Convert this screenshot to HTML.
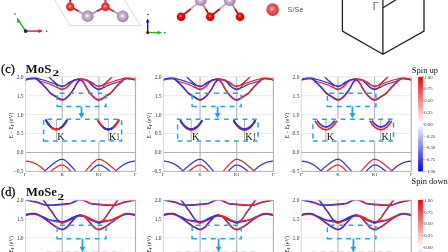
<!DOCTYPE html><html><head><meta charset="utf-8"><style>html,body{margin:0;padding:0;background:#fff;overflow:hidden}svg{display:block}</style></head><body><svg width="448" height="252" viewBox="0 0 448 252">
<rect width="448" height="252" fill="#fff"/>
<defs>
<radialGradient id="gr" cx="0.45" cy="0.45" r="0.6"><stop offset="0" stop-color="#ffc8c8"/><stop offset="0.3" stop-color="#f24444"/><stop offset="1" stop-color="#d01515"/></radialGradient>
<radialGradient id="gp" cx="0.47" cy="0.47" r="0.6"><stop offset="0" stop-color="#ffffff"/><stop offset="0.35" stop-color="#cbb2cd"/><stop offset="1" stop-color="#967a9b"/></radialGradient>
<linearGradient id="cb" x1="0" y1="0" x2="0" y2="1"><stop offset="0" stop-color="#ff0000"/><stop offset="0.5" stop-color="#ffffff"/><stop offset="1" stop-color="#0000ff"/></linearGradient>
<radialGradient id="gr2" cx="0.45" cy="0.42" r="0.6"><stop offset="0" stop-color="#ff9a9a"/><stop offset="0.3" stop-color="#e81818"/><stop offset="1" stop-color="#b80000"/></radialGradient>
<radialGradient id="gr3" cx="0.45" cy="0.45" r="0.6"><stop offset="0" stop-color="#ffd8d8"/><stop offset="0.35" stop-color="#f25a5a"/><stop offset="1" stop-color="#dd2a2a"/></radialGradient>
</defs>
<g stroke-linecap="butt">
<line x1="25.6" y1="31.1" x2="39.5" y2="31.1" stroke="#d42020" stroke-width="1.4"/>
<polygon points="38.5,29.2 43,31.1 38.5,33" fill="#d42020"/>
<line x1="25.6" y1="31.1" x2="19" y2="21" stroke="#22bb22" stroke-width="1.4"/>
<polygon points="17.2,23.2 16.8,17.2 20.6,21.3" fill="#22bb22"/>
<circle cx="25.6" cy="31.1" r="1.9" fill="#1a1a8a"/>
<circle cx="46.7" cy="31.2" r="0.75" fill="#333"/>
<circle cx="15" cy="14" r="0.75" fill="#333"/>
<line x1="147.7" y1="32.6" x2="147.7" y2="21.5" stroke="#1a1ad0" stroke-width="1.4"/>
<polygon points="145.8,22.5 147.7,18.2 149.6,22.5" fill="#1a1ad0"/>
<line x1="147.7" y1="32.6" x2="158.5" y2="32.6" stroke="#22bb22" stroke-width="1.4"/>
<polygon points="157.5,30.7 162,32.6 157.5,34.5" fill="#22bb22"/>
<circle cx="147.7" cy="32.6" r="1.6" fill="#7a1010"/>
<circle cx="147.9" cy="14.6" r="0.75" fill="#333"/>
<circle cx="164.9" cy="32.7" r="0.75" fill="#333"/>
</g>
<g stroke="#cfcfcf" stroke-width="0.8" fill="none">
<polyline points="54.7,0 70,25.7 140.5,25.7 124.5,0"/>
</g>
<line x1="70.2" y1="6.7" x2="70.2" y2="2.35" stroke="#d02838" stroke-width="2.0"/>
<line x1="70.2" y1="2.35" x2="70.2" y2="-2" stroke="#d02838" stroke-width="2.0"/>
<line x1="105.4" y1="6.7" x2="105.4" y2="2.35" stroke="#d02838" stroke-width="2.0"/>
<line x1="105.4" y1="2.35" x2="105.4" y2="-2" stroke="#d02838" stroke-width="2.0"/>
<line x1="70.2" y1="6.7" x2="78.95" y2="11.45" stroke="#d02838" stroke-width="2.0"/>
<line x1="78.95" y1="11.45" x2="87.7" y2="16.2" stroke="#b8a0bc" stroke-width="2.0"/>
<line x1="105.4" y1="6.7" x2="96.55000000000001" y2="11.45" stroke="#d02838" stroke-width="2.0"/>
<line x1="96.55000000000001" y1="11.45" x2="87.7" y2="16.2" stroke="#b8a0bc" stroke-width="2.0"/>
<line x1="105.4" y1="6.7" x2="114.05000000000001" y2="11.5" stroke="#d02838" stroke-width="2.0"/>
<line x1="114.05000000000001" y1="11.5" x2="122.7" y2="16.3" stroke="#b8a0bc" stroke-width="2.0"/>
<circle cx="70.2" cy="6.7" r="4.2" fill="url(#gr)"/>
<circle cx="105.4" cy="6.7" r="4.2" fill="url(#gr)"/>
<circle cx="87.7" cy="16.2" r="5.9" fill="url(#gp)"/>
<circle cx="122.7" cy="16.3" r="5.9" fill="url(#gp)"/>
<line x1="181" y1="16.7" x2="190.9" y2="8.7" stroke="#c01818" stroke-width="1.9"/>
<line x1="190.9" y1="8.7" x2="200.8" y2="0.7" stroke="#c8b0c8" stroke-width="1.9"/>
<line x1="200.8" y1="0.7" x2="205.5" y2="8.7" stroke="#b08ab0" stroke-width="1.9"/>
<line x1="205.5" y1="8.7" x2="210.2" y2="16.7" stroke="#c01818" stroke-width="1.9"/>
<line x1="210.2" y1="16.7" x2="220.0" y2="8.7" stroke="#c01818" stroke-width="1.9"/>
<line x1="220.0" y1="8.7" x2="229.8" y2="0.7" stroke="#c8b0c8" stroke-width="1.9"/>
<line x1="229.8" y1="0.7" x2="234.9" y2="8.7" stroke="#b08ab0" stroke-width="1.9"/>
<line x1="234.9" y1="8.7" x2="240" y2="16.7" stroke="#c01818" stroke-width="1.9"/>
<circle cx="200.8" cy="0.2" r="5.9" fill="url(#gp)"/>
<circle cx="229.8" cy="0.2" r="5.9" fill="url(#gp)"/>
<circle cx="181" cy="16.7" r="4.3" fill="url(#gr2)"/>
<circle cx="210.2" cy="16.7" r="4.3" fill="url(#gr2)"/>
<circle cx="240" cy="16.7" r="4.3" fill="url(#gr2)"/>
<circle cx="272.6" cy="9.6" r="6.3" fill="url(#gr3)"/>
<text x="287.6" y="12.0" font-family="Liberation Sans, sans-serif" font-size="7.4" fill="#555">S/Se</text>
<g stroke="#222" stroke-width="1.3" fill="none" stroke-linejoin="miter">
<polyline points="342.4,-1 342.4,31 382.9,54.3 424,31 424,-1"/>
<line x1="382.9" y1="-1" x2="382.9" y2="54.3"/>
<line x1="382.9" y1="7.7" x2="396.5" y2="-0.5"/>
</g>
<text x="372.7" y="10.4" font-family="Liberation Sans, sans-serif" font-size="10.4" fill="#666">Γ</text>
<clipPath id="clip00"><rect x="25.5" y="76.8" width="110.0" height="94.60000000000001"/></clipPath>
<line x1="25.5" y1="95.72" x2="135.5" y2="95.72" stroke="#e4e4e4" stroke-width="0.8"/>
<line x1="25.5" y1="114.64" x2="135.5" y2="114.64" stroke="#e4e4e4" stroke-width="0.8"/>
<line x1="25.5" y1="133.56" x2="135.5" y2="133.56" stroke="#e4e4e4" stroke-width="0.8"/>
<line x1="25.5" y1="152.48" x2="135.5" y2="152.48" stroke="#9a9a9a" stroke-width="0.8"/>
<line x1="62.17" y1="76.8" x2="62.17" y2="171.40" stroke="#9a9a9a" stroke-width="0.8"/>
<line x1="98.83" y1="76.8" x2="98.83" y2="171.40" stroke="#9a9a9a" stroke-width="0.8"/>
<g clip-path="url(#clip00)">
<polyline points="25.5,161.2 25.8,161.2 26.1,161.2 26.3,161.2 26.6,161.2 26.9,161.2 27.2,161.3 27.4,161.3 27.7,161.3 28.0,161.3 28.3,161.4 28.6,161.4 28.8,161.5 29.1,161.5 29.4,161.6 29.7,161.6 29.9,161.7 30.2,161.7 30.5,161.8 30.8,161.9 31.1,162.0 31.3,162.0 31.6,162.1 31.9,162.2 32.2,162.3 32.4,162.4 32.7,162.5 33.0,162.6 33.3,162.7 33.6,162.8 33.8,162.9 34.1,163.0 34.4,163.2 34.7,163.3 34.9,163.4 35.2,163.6 35.5,163.7 35.8,163.8 36.1,164.0 36.3,164.1 36.6,164.3 36.9,164.4 37.2,164.6 37.4,164.8 37.7,164.9 38.0,165.1 38.3,165.3 38.6,165.5 38.8,165.6 39.1,165.8 39.4,166.0 39.7,166.2 39.9,166.4 40.2,166.6 40.5,166.8 40.8,167.0 41.1,167.3 41.3,167.5 41.6,167.7 41.9,167.9 42.2,168.2 42.4,168.4 42.7,168.6 43.0,168.9 43.3,169.1 43.6,169.4 43.8,169.6 44.1,169.9 44.4,170.1 44.7,170.4 44.9,170.7 45.2,171.0 45.5,171.2 45.8,171.5 46.1,171.8 46.3,172.1 46.6,172.4 46.9,172.7 47.2,173.0 47.4,173.3 47.7,173.6 48.0,173.9 48.3,174.2 48.6,174.5 48.8,174.9 49.1,175.2 49.4,175.5 49.7,175.9 49.9,176.2 50.2,176.5 50.5,176.9 50.8,177.2 51.1,177.6 51.3,177.9 51.6,178.3 51.9,178.7 52.2,179.0 52.4,179.4 52.7,179.8 53.0,180.2" fill="none" stroke="#e8282a" stroke-width="1.25" stroke-linejoin="round"/>
<polyline points="135.5,161.2 135.2,161.2 134.9,161.2 134.7,161.2 134.4,161.2 134.1,161.2 133.8,161.3 133.6,161.3 133.3,161.3 133.0,161.3 132.7,161.4 132.4,161.4 132.2,161.5 131.9,161.5 131.6,161.6 131.3,161.6 131.1,161.7 130.8,161.7 130.5,161.8 130.2,161.9 129.9,162.0 129.7,162.0 129.4,162.1 129.1,162.2 128.8,162.3 128.6,162.4 128.3,162.5 128.0,162.6 127.7,162.7 127.4,162.8 127.2,162.9 126.9,163.0 126.6,163.2 126.3,163.3 126.1,163.4 125.8,163.6 125.5,163.7 125.2,163.8 124.9,164.0 124.7,164.1 124.4,164.3 124.1,164.4 123.8,164.6 123.6,164.8 123.3,164.9 123.0,165.1 122.7,165.3 122.4,165.5 122.2,165.6 121.9,165.8 121.6,166.0 121.3,166.2 121.1,166.4 120.8,166.6 120.5,166.8 120.2,167.0 119.9,167.3 119.7,167.5 119.4,167.7 119.1,167.9 118.8,168.2 118.6,168.4 118.3,168.6 118.0,168.9 117.7,169.1 117.4,169.4 117.2,169.6 116.9,169.9 116.6,170.1 116.3,170.4 116.1,170.7 115.8,171.0 115.5,171.2 115.2,171.5 114.9,171.8 114.7,172.1 114.4,172.4 114.1,172.7 113.8,173.0 113.6,173.3 113.3,173.6 113.0,173.9 112.7,174.2 112.4,174.5 112.2,174.9 111.9,175.2 111.6,175.5 111.3,175.9 111.1,176.2 110.8,176.5 110.5,176.9 110.2,177.2 109.9,177.6 109.7,177.9 109.4,178.3 109.1,178.7 108.8,179.0 108.6,179.4 108.3,179.8 108.0,180.2" fill="none" stroke="#3232e0" stroke-width="1.25" stroke-linejoin="round"/>
<polyline points="36.5,178.4 36.9,178.0 37.4,177.6 37.8,177.2 38.2,176.9 38.7,176.5 39.1,176.1 39.5,175.7 40.0,175.3 40.4,174.9 40.8,174.5 41.2,174.1 41.7,173.7 42.1,173.4 42.5,173.0 43.0,172.6 43.4,172.2 43.8,171.8 44.3,171.4 44.7,171.0 45.1,170.7 45.6,170.3 46.0,169.9 46.4,169.5 46.9,169.1 47.3,168.8 47.7,168.4 48.1,168.0 48.6,167.6 49.0,167.3 49.4,166.9 49.9,166.5 50.3,166.2 50.7,165.8 51.2,165.5 51.6,165.1 52.0,164.8 52.5,164.4 52.9,164.1 53.3,163.7 53.8,163.4 54.2,163.1 54.6,162.7 55.0,162.4 55.5,162.1 55.9,161.8 56.3,161.5 56.8,161.3 57.2,161.0 57.6,160.7 58.1,160.5 58.5,160.3 58.9,160.1 59.4,159.9 59.8,159.7 60.2,159.6 60.7,159.5 61.1,159.4 61.5,159.3 62.0,159.3 62.4,159.3 62.8,159.3 63.2,159.4 63.7,159.6 64.1,159.8 64.5,160.0 65.0,160.3 65.4,160.6 65.8,160.9 66.3,161.3 66.7,161.6 67.1,162.0 67.6,162.4 68.0,162.8 68.4,163.3 68.9,163.7 69.3,164.1 69.7,164.6 70.1,165.1 70.6,165.5 71.0,166.0 71.4,166.5 71.9,166.9 72.3,167.4 72.7,167.9 73.2,168.4 73.6,168.9 74.0,169.4 74.5,169.9 74.9,170.4 75.3,170.9 75.8,171.4 76.2,171.9 76.6,172.4 77.0,172.9 77.5,173.4 77.9,173.9 78.3,174.5 78.8,175.0 79.2,175.5 79.6,176.0 80.1,176.5 80.5,177.0 80.9,177.5 81.4,178.1 81.8,178.6 82.2,179.1 82.7,179.6 83.1,180.1 83.5,180.6 84.0,181.2 84.4,181.7 84.8,182.2 85.2,182.7 85.7,183.3 86.1,183.8 86.5,184.3 87.0,184.8 87.4,185.3 87.8,185.9" fill="none" stroke="#3232e0" stroke-width="1.25" stroke-linejoin="round"/>
<polyline points="36.5,184.1 36.9,183.7 37.4,183.3 37.8,182.9 38.2,182.5 38.7,182.1 39.1,181.8 39.5,181.4 40.0,181.0 40.4,180.6 40.8,180.2 41.2,179.8 41.7,179.4 42.1,179.0 42.5,178.6 43.0,178.3 43.4,177.9 43.8,177.5 44.3,177.1 44.7,176.7 45.1,176.3 45.6,176.0 46.0,175.6 46.4,175.2 46.9,174.8 47.3,174.4 47.7,174.1 48.1,173.7 48.6,173.3 49.0,173.0 49.4,172.6 49.9,172.2 50.3,171.9 50.7,171.5 51.2,171.1 51.6,170.8 52.0,170.4 52.5,170.1 52.9,169.7 53.3,169.4 53.8,169.1 54.2,168.7 54.6,168.4 55.0,168.1 55.5,167.8 55.9,167.5 56.3,167.2 56.8,166.9 57.2,166.7 57.6,166.4 58.1,166.2 58.5,166.0 58.9,165.7 59.4,165.6 59.8,165.4 60.2,165.3 60.7,165.1 61.1,165.1 61.5,165.0 62.0,165.0 62.4,165.0 62.8,165.0 63.2,165.1 63.7,165.3 64.1,165.5 64.5,165.7 65.0,166.0 65.4,166.3 65.8,166.6 66.3,166.9 66.7,167.3 67.1,167.7 67.6,168.1 68.0,168.5 68.4,168.9 68.9,169.4 69.3,169.8 69.7,170.3 70.1,170.7 70.6,171.2 71.0,171.7 71.4,172.1 71.9,172.6 72.3,173.1 72.7,173.6 73.2,174.1 73.6,174.6 74.0,175.1 74.5,175.6 74.9,176.1 75.3,176.6 75.8,177.1 76.2,177.6 76.6,178.1 77.0,178.6 77.5,179.1 77.9,179.6 78.3,180.1 78.8,180.6 79.2,181.2 79.6,181.7 80.1,182.2 80.5,182.7 80.9,183.2 81.4,183.7 81.8,184.2 82.2,184.8 82.7,185.3 83.1,185.8 83.5,186.3 84.0,186.8 84.4,187.4 84.8,187.9 85.2,188.4 85.7,188.9 86.1,189.4 86.5,190.0 87.0,190.5 87.4,191.0 87.8,191.5" fill="none" stroke="#e8282a" stroke-width="1.25" stroke-linejoin="round"/>
<polyline points="73.2,185.9 73.6,185.3 74.0,184.8 74.5,184.3 74.9,183.8 75.3,183.3 75.8,182.7 76.2,182.2 76.6,181.7 77.0,181.2 77.5,180.6 77.9,180.1 78.3,179.6 78.8,179.1 79.2,178.6 79.6,178.1 80.1,177.5 80.5,177.0 80.9,176.5 81.4,176.0 81.8,175.5 82.2,175.0 82.7,174.5 83.1,173.9 83.5,173.4 84.0,172.9 84.4,172.4 84.8,171.9 85.2,171.4 85.7,170.9 86.1,170.4 86.5,169.9 87.0,169.4 87.4,168.9 87.8,168.4 88.3,167.9 88.7,167.4 89.1,166.9 89.6,166.5 90.0,166.0 90.4,165.5 90.9,165.1 91.3,164.6 91.7,164.1 92.1,163.7 92.6,163.3 93.0,162.8 93.4,162.4 93.9,162.0 94.3,161.6 94.7,161.3 95.2,160.9 95.6,160.6 96.0,160.3 96.5,160.0 96.9,159.8 97.3,159.6 97.8,159.4 98.2,159.3 98.6,159.3 99.0,159.3 99.5,159.3 99.9,159.4 100.3,159.5 100.8,159.6 101.2,159.7 101.6,159.9 102.1,160.1 102.5,160.3 102.9,160.5 103.4,160.7 103.8,161.0 104.2,161.3 104.7,161.5 105.1,161.8 105.5,162.1 106.0,162.4 106.4,162.7 106.8,163.1 107.2,163.4 107.7,163.7 108.1,164.1 108.5,164.4 109.0,164.8 109.4,165.1 109.8,165.5 110.3,165.8 110.7,166.2 111.1,166.5 111.6,166.9 112.0,167.3 112.4,167.6 112.9,168.0 113.3,168.4 113.7,168.8 114.1,169.1 114.6,169.5 115.0,169.9 115.4,170.3 115.9,170.7 116.3,171.0 116.7,171.4 117.2,171.8 117.6,172.2 118.0,172.6 118.5,173.0 118.9,173.4 119.3,173.7 119.8,174.1 120.2,174.5 120.6,174.9 121.0,175.3 121.5,175.7 121.9,176.1 122.3,176.5 122.8,176.9 123.2,177.2 123.6,177.6 124.1,178.0 124.5,178.4" fill="none" stroke="#e8282a" stroke-width="1.25" stroke-linejoin="round"/>
<polyline points="73.2,191.5 73.6,191.0 74.0,190.5 74.5,190.0 74.9,189.4 75.3,188.9 75.8,188.4 76.2,187.9 76.6,187.4 77.0,186.8 77.5,186.3 77.9,185.8 78.3,185.3 78.8,184.8 79.2,184.2 79.6,183.7 80.1,183.2 80.5,182.7 80.9,182.2 81.4,181.7 81.8,181.2 82.2,180.6 82.7,180.1 83.1,179.6 83.5,179.1 84.0,178.6 84.4,178.1 84.8,177.6 85.2,177.1 85.7,176.6 86.1,176.1 86.5,175.6 87.0,175.1 87.4,174.6 87.8,174.1 88.3,173.6 88.7,173.1 89.1,172.6 89.6,172.1 90.0,171.7 90.4,171.2 90.9,170.7 91.3,170.3 91.7,169.8 92.1,169.4 92.6,168.9 93.0,168.5 93.4,168.1 93.9,167.7 94.3,167.3 94.7,166.9 95.2,166.6 95.6,166.3 96.0,166.0 96.5,165.7 96.9,165.5 97.3,165.3 97.8,165.1 98.2,165.0 98.6,165.0 99.0,165.0 99.5,165.0 99.9,165.1 100.3,165.1 100.8,165.3 101.2,165.4 101.6,165.6 102.1,165.7 102.5,166.0 102.9,166.2 103.4,166.4 103.8,166.7 104.2,166.9 104.7,167.2 105.1,167.5 105.5,167.8 106.0,168.1 106.4,168.4 106.8,168.7 107.2,169.1 107.7,169.4 108.1,169.7 108.5,170.1 109.0,170.4 109.4,170.8 109.8,171.1 110.3,171.5 110.7,171.9 111.1,172.2 111.6,172.6 112.0,173.0 112.4,173.3 112.9,173.7 113.3,174.1 113.7,174.4 114.1,174.8 114.6,175.2 115.0,175.6 115.4,176.0 115.9,176.3 116.3,176.7 116.7,177.1 117.2,177.5 117.6,177.9 118.0,178.3 118.5,178.6 118.9,179.0 119.3,179.4 119.8,179.8 120.2,180.2 120.6,180.6 121.0,181.0 121.5,181.4 121.9,181.8 122.3,182.1 122.8,182.5 123.2,182.9 123.6,183.3 124.1,183.7 124.5,184.1" fill="none" stroke="#3232e0" stroke-width="1.25" stroke-linejoin="round"/>
<polyline points="45.7,72.3 46.5,73.5 47.3,74.6 48.1,75.7 48.9,76.7 49.7,77.6 50.5,78.4 51.3,79.1 52.1,79.9 53.0,80.6 53.8,81.3 54.6,82.2 55.4,83.2 56.2,84.4 57.0,85.8 57.8,87.0 58.6,88.0 59.4,88.6 60.2,89.1 61.1,89.5 61.9,89.6 62.7,89.6 63.5,89.3 64.3,88.9 65.1,88.4 65.9,87.9 66.7,87.4 67.5,86.8 68.3,86.2 69.2,85.4 70.0,84.6 70.8,83.5 71.6,82.3 72.4,81.3 73.2,80.6 74.0,80.1 74.8,79.8 75.6,79.5 76.4,79.4 77.3,79.3 78.1,79.2 78.9,79.1 79.7,79.1 80.5,79.1" fill="none" stroke="#e8282a" stroke-width="1.2" stroke-linejoin="round" stroke-linecap="round" opacity="1.0"/>
<polyline points="45.7,72.3 46.5,73.5 47.3,74.6 48.1,75.7 48.9,76.7 49.7,77.6 50.5,78.5 51.3,79.3 52.1,80.1 53.0,80.9 53.8,81.6 54.6,82.3 55.4,82.9 56.2,83.5 57.0,84.1 57.8,84.7 58.6,85.2 59.4,85.6 60.2,86.0 61.1,86.4 61.9,86.6 62.7,86.6 63.5,86.3 64.3,85.9 65.1,85.4 65.9,84.9 66.7,84.3 67.5,83.6 68.3,82.9 69.2,82.3 70.0,81.9 70.8,81.5 71.6,81.2 72.4,80.9 73.2,80.6 74.0,80.2 74.8,79.8 75.6,79.5 76.4,79.4 77.3,79.3 78.1,79.2 78.9,79.1 79.7,79.1 80.5,79.1" fill="none" stroke="#3232e0" stroke-width="1.2" stroke-linejoin="round" stroke-linecap="round" opacity="1.0"/>
<polyline points="80.5,79.1 81.3,79.1 82.1,79.1 82.9,79.2 83.7,79.3 84.6,79.4 85.4,79.5 86.2,79.8 87.0,80.1 87.8,80.6 88.6,81.3 89.4,82.3 90.2,83.5 91.0,84.6 91.8,85.4 92.7,86.2 93.5,86.8 94.3,87.4 95.1,87.9 95.9,88.4 96.7,88.9 97.5,89.3 98.3,89.6 99.1,89.6 99.9,89.5 100.8,89.1 101.6,88.6 102.4,88.0 103.2,87.0 104.0,85.8 104.8,84.4 105.6,83.2 106.4,82.2 107.2,81.3 108.0,80.6 108.9,79.9 109.7,79.1 110.5,78.4 111.3,77.6 112.1,76.7 112.9,75.7 113.7,74.6 114.5,73.5 115.3,72.3" fill="none" stroke="#3232e0" stroke-width="1.2" stroke-linejoin="round" stroke-linecap="round" opacity="1.0"/>
<polyline points="80.5,79.1 81.3,79.1 82.1,79.1 82.9,79.2 83.7,79.3 84.6,79.4 85.4,79.5 86.2,79.8 87.0,80.2 87.8,80.6 88.6,80.9 89.4,81.2 90.2,81.5 91.0,81.9 91.8,82.3 92.7,82.9 93.5,83.6 94.3,84.3 95.1,84.9 95.9,85.4 96.7,85.9 97.5,86.3 98.3,86.6 99.1,86.6 99.9,86.4 100.8,86.0 101.6,85.6 102.4,85.2 103.2,84.7 104.0,84.1 104.8,83.5 105.6,82.9 106.4,82.3 107.2,81.6 108.0,80.9 108.9,80.1 109.7,79.3 110.5,78.5 111.3,77.6 112.1,76.7 112.9,75.7 113.7,74.6 114.5,73.5 115.3,72.3" fill="none" stroke="#e8282a" stroke-width="1.2" stroke-linejoin="round" stroke-linecap="round" opacity="1.0"/>
<polyline points="25.5,80.0 26.3,79.7 27.1,79.5 27.9,79.3 28.7,79.1 29.5,79.0 30.3,78.9 31.1,78.8 31.9,78.8 32.7,78.7 33.5,78.7 34.3,78.7 35.1,78.7 35.9,78.7 36.7,79.0 37.5,79.4 38.3,79.9 39.1,80.4 39.8,80.9 40.6,81.2 41.4,81.5 42.2,81.8 43.0,82.0 43.8,82.3 44.6,82.5 45.4,82.8 46.2,83.0 47.0,83.2 47.8,83.5 48.6,83.7 49.4,84.0 50.2,84.3 51.0,84.6 51.8,84.9 52.6,85.2 53.4,85.6 54.2,86.0 55.0,86.5 55.8,86.9 56.6,87.4 57.4,87.7 58.2,88.0 59.0,88.3 59.8,88.5 60.6,88.8 61.4,88.9 62.2,89.0 63.0,88.9 63.8,88.7 64.6,88.4 65.4,88.0 66.2,87.6 66.9,87.0 67.7,86.2 68.5,85.3 69.3,84.5 70.1,83.8 70.9,83.1 71.7,82.4 72.5,81.8 73.3,81.2 74.1,80.8 74.9,80.4 75.7,80.1 76.5,79.9 77.3,79.8 78.1,79.6 78.9,79.5 79.7,79.5 80.5,79.4" fill="none" stroke="#e8282a" stroke-width="1.2" stroke-linejoin="round" stroke-linecap="round" opacity="1.0"/>
<polyline points="25.5,79.6 26.3,79.3 27.1,79.1 27.9,78.9 28.7,78.7 29.5,78.5 30.3,78.4 31.1,78.3 31.9,78.2 32.7,78.2 33.5,78.2 34.3,78.1 35.1,78.1 35.9,78.1 36.7,78.2 37.5,78.4 38.3,78.6 39.1,78.9 39.8,79.1 40.6,79.3 41.4,79.5 42.2,79.7 43.0,80.0 43.8,80.2 44.6,80.4 45.4,80.7 46.2,80.9 47.0,81.2 47.8,81.5 48.6,81.7 49.4,82.0 50.2,82.3 51.0,82.5 51.8,82.8 52.6,83.1 53.4,83.4 54.2,83.7 55.0,84.1 55.8,84.4 56.6,84.7 57.4,85.0 58.2,85.2 59.0,85.4 59.8,85.6 60.6,85.8 61.4,85.9 62.2,86.0 63.0,85.9 63.8,85.8 64.6,85.6 65.4,85.3 66.2,85.0 66.9,84.6 67.7,84.0 68.5,83.5 69.3,83.0 70.1,82.5 70.9,82.0 71.7,81.5 72.5,81.1 73.3,80.7 74.1,80.3 74.9,80.0 75.7,79.7 76.5,79.6 77.3,79.5 78.1,79.4 78.9,79.3 79.7,79.3 80.5,79.3" fill="none" stroke="#3232e0" stroke-width="1.2" stroke-linejoin="round" stroke-linecap="round" opacity="1.0"/>
<polyline points="80.5,79.4 81.3,79.5 82.1,79.5 82.9,79.6 83.7,79.8 84.5,79.9 85.3,80.1 86.1,80.4 86.9,80.8 87.7,81.2 88.5,81.8 89.3,82.4 90.1,83.1 90.9,83.8 91.7,84.5 92.5,85.3 93.3,86.2 94.1,87.0 94.8,87.6 95.6,88.0 96.4,88.4 97.2,88.7 98.0,88.9 98.8,89.0 99.6,88.9 100.4,88.8 101.2,88.5 102.0,88.3 102.8,88.0 103.6,87.7 104.4,87.4 105.2,86.9 106.0,86.5 106.8,86.0 107.6,85.6 108.4,85.2 109.2,84.9 110.0,84.6 110.8,84.3 111.6,84.0 112.4,83.7 113.2,83.5 114.0,83.2 114.8,83.0 115.6,82.8 116.4,82.5 117.2,82.3 118.0,82.0 118.8,81.8 119.6,81.5 120.4,81.2 121.2,80.9 121.9,80.4 122.7,79.9 123.5,79.4 124.3,79.0 125.1,78.7 125.9,78.7 126.7,78.7 127.5,78.7 128.3,78.7 129.1,78.8 129.9,78.8 130.7,78.9 131.5,79.0 132.3,79.1 133.1,79.3 133.9,79.5 134.7,79.7 135.5,80.0" fill="none" stroke="#3232e0" stroke-width="1.2" stroke-linejoin="round" stroke-linecap="round" opacity="1.0"/>
<polyline points="80.5,79.3 81.3,79.3 82.1,79.3 82.9,79.4 83.7,79.5 84.5,79.6 85.3,79.7 86.1,80.0 86.9,80.3 87.7,80.7 88.5,81.1 89.3,81.5 90.1,82.0 90.9,82.5 91.7,83.0 92.5,83.5 93.3,84.0 94.1,84.6 94.8,85.0 95.6,85.3 96.4,85.6 97.2,85.8 98.0,85.9 98.8,86.0 99.6,85.9 100.4,85.8 101.2,85.6 102.0,85.4 102.8,85.2 103.6,85.0 104.4,84.7 105.2,84.4 106.0,84.1 106.8,83.7 107.6,83.4 108.4,83.1 109.2,82.8 110.0,82.5 110.8,82.3 111.6,82.0 112.4,81.7 113.2,81.5 114.0,81.2 114.8,80.9 115.6,80.7 116.4,80.4 117.2,80.2 118.0,80.0 118.8,79.7 119.6,79.5 120.4,79.3 121.2,79.1 121.9,78.9 122.7,78.6 123.5,78.4 124.3,78.2 125.1,78.1 125.9,78.1 126.7,78.1 127.5,78.2 128.3,78.2 129.1,78.2 129.9,78.3 130.7,78.4 131.5,78.5 132.3,78.7 133.1,78.9 133.9,79.1 134.7,79.3 135.5,79.6" fill="none" stroke="#e8282a" stroke-width="1.2" stroke-linejoin="round" stroke-linecap="round" opacity="1.0"/>
<polyline points="25.5,80.4 26.3,80.0 27.1,79.7 27.9,79.4 28.7,79.2 29.5,79.0 30.3,78.9 31.1,78.8 31.9,78.8 32.7,78.7 33.5,78.7 34.3,78.7 35.1,78.8 35.9,79.0 36.7,79.5 37.5,80.1 38.3,80.8 39.1,81.5 39.8,82.2 40.6,82.9 41.4,83.6 42.2,84.4 43.0,85.2 43.8,86.1 44.6,86.9 45.4,87.7 46.2,88.6 47.0,89.5 47.8,90.5 48.6,91.4 49.4,92.4 50.2,93.2 51.0,93.9 51.8,94.5 52.6,95.0 53.4,95.5 54.2,96.0 55.0,96.4 55.8,96.9 56.6,97.5 57.4,98.0 58.2,98.6 59.0,99.1 59.8,99.4 60.6,99.8 61.4,100.1 62.2,100.2 63.0,100.1 63.8,99.8 64.6,99.4 65.4,99.0 66.2,98.5 66.9,97.8 67.7,97.0 68.5,96.3 69.3,95.4 70.1,94.5 70.9,93.4 71.7,92.3 72.5,91.2 73.3,90.0 74.1,88.7 74.9,87.2 75.7,85.6 76.5,84.2 77.3,83.0 78.1,82.0 78.9,81.1 79.7,80.4 80.5,80.1" fill="none" stroke="#e8282a" stroke-width="1.3" stroke-linejoin="round" stroke-linecap="round" opacity="1.0"/>
<polyline points="25.5,79.8 26.3,79.4 27.1,79.1 27.9,78.8 28.7,78.6 29.5,78.4 30.3,78.3 31.1,78.2 31.9,78.2 32.7,78.1 33.5,78.1 34.3,78.1 35.1,78.2 35.9,78.4 36.7,78.9 37.5,79.5 38.3,80.2 39.1,80.9 39.8,81.6 40.6,82.3 41.4,83.0 42.2,83.8 43.0,84.6 43.8,85.5 44.6,86.3 45.4,87.1 46.2,88.0 47.0,88.9 47.8,89.9 48.6,90.9 49.4,91.8 50.2,92.6 51.0,93.3 51.8,93.9 52.6,94.4 53.4,94.9 54.2,95.3 55.0,95.8 55.8,96.2 56.6,96.8 57.4,97.3 58.2,97.9 59.0,98.4 59.8,98.7 60.6,99.1 61.4,99.4 62.2,99.5 63.0,99.4 63.8,99.1 64.6,98.8 65.4,98.3 66.2,97.8 66.9,97.1 67.7,96.4 68.5,95.6 69.3,94.7 70.1,93.8 70.9,92.8 71.7,91.7 72.5,90.6 73.3,89.4 74.1,88.1 74.9,86.6 75.7,85.0 76.5,83.6 77.3,82.4 78.1,81.4 78.9,80.5 79.7,79.7 80.5,79.4" fill="none" stroke="#3232e0" stroke-width="1.3" stroke-linejoin="round" stroke-linecap="round" opacity="1.0"/>
<polyline points="80.5,80.1 81.3,80.4 82.1,81.1 82.9,82.0 83.7,83.0 84.5,84.2 85.3,85.6 86.1,87.2 86.9,88.7 87.7,90.0 88.5,91.2 89.3,92.3 90.1,93.4 90.9,94.5 91.7,95.4 92.5,96.3 93.3,97.0 94.1,97.8 94.8,98.5 95.6,99.0 96.4,99.4 97.2,99.8 98.0,100.1 98.8,100.2 99.6,100.1 100.4,99.8 101.2,99.4 102.0,99.1 102.8,98.6 103.6,98.0 104.4,97.5 105.2,96.9 106.0,96.4 106.8,96.0 107.6,95.5 108.4,95.0 109.2,94.5 110.0,93.9 110.8,93.2 111.6,92.4 112.4,91.4 113.2,90.5 114.0,89.5 114.8,88.6 115.6,87.7 116.4,86.9 117.2,86.1 118.0,85.2 118.8,84.4 119.6,83.6 120.4,82.9 121.2,82.2 121.9,81.5 122.7,80.8 123.5,80.1 124.3,79.5 125.1,79.0 125.9,78.8 126.7,78.7 127.5,78.7 128.3,78.7 129.1,78.8 129.9,78.8 130.7,78.9 131.5,79.0 132.3,79.2 133.1,79.4 133.9,79.7 134.7,80.0 135.5,80.4" fill="none" stroke="#3232e0" stroke-width="1.3" stroke-linejoin="round" stroke-linecap="round" opacity="1.0"/>
<polyline points="80.5,79.4 81.3,79.7 82.1,80.5 82.9,81.4 83.7,82.4 84.5,83.6 85.3,85.0 86.1,86.6 86.9,88.1 87.7,89.4 88.5,90.6 89.3,91.7 90.1,92.8 90.9,93.8 91.7,94.7 92.5,95.6 93.3,96.4 94.1,97.1 94.8,97.8 95.6,98.3 96.4,98.8 97.2,99.1 98.0,99.4 98.8,99.5 99.6,99.4 100.4,99.1 101.2,98.7 102.0,98.4 102.8,97.9 103.6,97.3 104.4,96.8 105.2,96.2 106.0,95.8 106.8,95.3 107.6,94.9 108.4,94.4 109.2,93.9 110.0,93.3 110.8,92.6 111.6,91.8 112.4,90.9 113.2,89.9 114.0,88.9 114.8,88.0 115.6,87.1 116.4,86.3 117.2,85.5 118.0,84.6 118.8,83.8 119.6,83.0 120.4,82.3 121.2,81.6 121.9,80.9 122.7,80.2 123.5,79.5 124.3,78.9 125.1,78.4 125.9,78.2 126.7,78.1 127.5,78.1 128.3,78.1 129.1,78.2 129.9,78.2 130.7,78.3 131.5,78.4 132.3,78.6 133.1,78.8 133.9,79.1 134.7,79.4 135.5,79.8" fill="none" stroke="#e8282a" stroke-width="1.3" stroke-linejoin="round" stroke-linecap="round" opacity="1.0"/>
</g>
<line x1="25.5" y1="76.8" x2="135.5" y2="76.8" stroke="#e0e0e0" stroke-width="0.9"/>
<line x1="25.5" y1="76.8" x2="25.5" y2="171.40" stroke="#d4d4d4" stroke-width="0.9"/>
<line x1="135.5" y1="76.8" x2="135.5" y2="171.40" stroke="#b0b0b0" stroke-width="1.1"/>
<line x1="25.5" y1="171.40" x2="135.5" y2="171.40" stroke="#a8a8a8" stroke-width="0.9"/>
<text x="23.6" y="78.70" text-anchor="end" font-family="Liberation Serif, serif" font-size="5.5" fill="#333">2.0</text>
<text x="23.6" y="97.62" text-anchor="end" font-family="Liberation Serif, serif" font-size="5.5" fill="#333">1.5</text>
<text x="23.6" y="116.54" text-anchor="end" font-family="Liberation Serif, serif" font-size="5.5" fill="#333">1.0</text>
<text x="23.6" y="135.46" text-anchor="end" font-family="Liberation Serif, serif" font-size="5.5" fill="#333">0.5</text>
<text x="23.6" y="154.38" text-anchor="end" font-family="Liberation Serif, serif" font-size="5.5" fill="#333">0.0</text>
<text x="23.6" y="173.30" text-anchor="end" font-family="Liberation Serif, serif" font-size="5.5" fill="#333">−0.5</text>
<text transform="translate(12.7,125.61) rotate(-90)" text-anchor="middle" font-family="Liberation Serif, serif" font-size="5.4" fill="#222">E − E<tspan font-size="3.4" dy="1">F</tspan><tspan dy="-1"> (eV)</tspan></text>
<text x="25.50" y="176.00" text-anchor="middle" font-family="Liberation Serif, serif" font-size="4.8" fill="#333">Γ</text>
<text x="62.17" y="176.00" text-anchor="middle" font-family="Liberation Serif, serif" font-size="4.8" fill="#333">K</text>
<text x="98.83" y="176.00" text-anchor="middle" font-family="Liberation Serif, serif" font-size="4.8" fill="#333">K1</text>
<text x="135.50" y="176.00" text-anchor="middle" font-family="Liberation Serif, serif" font-size="4.8" fill="#333">Γ</text>
<clipPath id="clip01"><rect x="163.4" y="76.8" width="110.0" height="94.60000000000001"/></clipPath>
<line x1="163.4" y1="95.72" x2="273.4" y2="95.72" stroke="#e4e4e4" stroke-width="0.8"/>
<line x1="163.4" y1="114.64" x2="273.4" y2="114.64" stroke="#e4e4e4" stroke-width="0.8"/>
<line x1="163.4" y1="133.56" x2="273.4" y2="133.56" stroke="#e4e4e4" stroke-width="0.8"/>
<line x1="163.4" y1="152.48" x2="273.4" y2="152.48" stroke="#9a9a9a" stroke-width="0.8"/>
<line x1="200.07" y1="76.8" x2="200.07" y2="171.40" stroke="#9a9a9a" stroke-width="0.8"/>
<line x1="236.73" y1="76.8" x2="236.73" y2="171.40" stroke="#9a9a9a" stroke-width="0.8"/>
<g clip-path="url(#clip01)">
<polyline points="163.4,161.2 163.7,161.2 164.0,161.2 164.2,161.2 164.5,161.2 164.8,161.2 165.1,161.3 165.3,161.3 165.6,161.3 165.9,161.3 166.2,161.4 166.5,161.4 166.7,161.5 167.0,161.5 167.3,161.6 167.6,161.6 167.8,161.7 168.1,161.7 168.4,161.8 168.7,161.9 169.0,162.0 169.2,162.0 169.5,162.1 169.8,162.2 170.1,162.3 170.3,162.4 170.6,162.5 170.9,162.6 171.2,162.7 171.5,162.8 171.7,162.9 172.0,163.0 172.3,163.2 172.6,163.3 172.8,163.4 173.1,163.6 173.4,163.7 173.7,163.8 174.0,164.0 174.2,164.1 174.5,164.3 174.8,164.4 175.1,164.6 175.3,164.8 175.6,164.9 175.9,165.1 176.2,165.3 176.5,165.5 176.7,165.6 177.0,165.8 177.3,166.0 177.6,166.2 177.8,166.4 178.1,166.6 178.4,166.8 178.7,167.0 179.0,167.3 179.2,167.5 179.5,167.7 179.8,167.9 180.1,168.2 180.3,168.4 180.6,168.6 180.9,168.9 181.2,169.1 181.5,169.4 181.7,169.6 182.0,169.9 182.3,170.1 182.6,170.4 182.8,170.7 183.1,171.0 183.4,171.2 183.7,171.5 184.0,171.8 184.2,172.1 184.5,172.4 184.8,172.7 185.1,173.0 185.3,173.3 185.6,173.6 185.9,173.9 186.2,174.2 186.5,174.5 186.7,174.9 187.0,175.2 187.3,175.5 187.6,175.9 187.8,176.2 188.1,176.5 188.4,176.9 188.7,177.2 189.0,177.6 189.2,177.9 189.5,178.3 189.8,178.7 190.1,179.0 190.3,179.4 190.6,179.8 190.9,180.2" fill="none" stroke="#3232e0" stroke-width="1.25" stroke-linejoin="round"/>
<polyline points="273.4,161.2 273.1,161.2 272.8,161.2 272.6,161.2 272.3,161.2 272.0,161.2 271.7,161.3 271.5,161.3 271.2,161.3 270.9,161.3 270.6,161.4 270.3,161.4 270.1,161.5 269.8,161.5 269.5,161.6 269.2,161.6 269.0,161.7 268.7,161.7 268.4,161.8 268.1,161.9 267.8,162.0 267.6,162.0 267.3,162.1 267.0,162.2 266.7,162.3 266.5,162.4 266.2,162.5 265.9,162.6 265.6,162.7 265.3,162.8 265.1,162.9 264.8,163.0 264.5,163.2 264.2,163.3 264.0,163.4 263.7,163.6 263.4,163.7 263.1,163.8 262.8,164.0 262.6,164.1 262.3,164.3 262.0,164.4 261.7,164.6 261.5,164.8 261.2,164.9 260.9,165.1 260.6,165.3 260.3,165.5 260.1,165.6 259.8,165.8 259.5,166.0 259.2,166.2 259.0,166.4 258.7,166.6 258.4,166.8 258.1,167.0 257.8,167.3 257.6,167.5 257.3,167.7 257.0,167.9 256.7,168.2 256.5,168.4 256.2,168.6 255.9,168.9 255.6,169.1 255.3,169.4 255.1,169.6 254.8,169.9 254.5,170.1 254.2,170.4 254.0,170.7 253.7,171.0 253.4,171.2 253.1,171.5 252.8,171.8 252.6,172.1 252.3,172.4 252.0,172.7 251.7,173.0 251.5,173.3 251.2,173.6 250.9,173.9 250.6,174.2 250.3,174.5 250.1,174.9 249.8,175.2 249.5,175.5 249.2,175.9 249.0,176.2 248.7,176.5 248.4,176.9 248.1,177.2 247.8,177.6 247.6,177.9 247.3,178.3 247.0,178.7 246.7,179.0 246.5,179.4 246.2,179.8 245.9,180.2" fill="none" stroke="#3232e0" stroke-width="1.25" stroke-linejoin="round"/>
<polyline points="174.4,178.4 174.8,178.0 175.3,177.6 175.7,177.2 176.1,176.9 176.6,176.5 177.0,176.1 177.4,175.7 177.9,175.3 178.3,174.9 178.7,174.5 179.1,174.1 179.6,173.7 180.0,173.4 180.4,173.0 180.9,172.6 181.3,172.2 181.7,171.8 182.2,171.4 182.6,171.0 183.0,170.7 183.5,170.3 183.9,169.9 184.3,169.5 184.8,169.1 185.2,168.8 185.6,168.4 186.0,168.0 186.5,167.6 186.9,167.3 187.3,166.9 187.8,166.5 188.2,166.2 188.6,165.8 189.1,165.5 189.5,165.1 189.9,164.8 190.4,164.4 190.8,164.1 191.2,163.7 191.7,163.4 192.1,163.1 192.5,162.7 192.9,162.4 193.4,162.1 193.8,161.8 194.2,161.5 194.7,161.3 195.1,161.0 195.5,160.7 196.0,160.5 196.4,160.3 196.8,160.1 197.3,159.9 197.7,159.7 198.1,159.6 198.6,159.5 199.0,159.4 199.4,159.3 199.9,159.3 200.3,159.3 200.7,159.3 201.1,159.4 201.6,159.6 202.0,159.8 202.4,160.0 202.9,160.3 203.3,160.6 203.7,160.9 204.2,161.3 204.6,161.6 205.0,162.0 205.5,162.4 205.9,162.8 206.3,163.3 206.8,163.7 207.2,164.1 207.6,164.6 208.0,165.1 208.5,165.5 208.9,166.0 209.3,166.5 209.8,166.9 210.2,167.4 210.6,167.9 211.1,168.4 211.5,168.9 211.9,169.4 212.4,169.9 212.8,170.4 213.2,170.9 213.7,171.4 214.1,171.9 214.5,172.4 214.9,172.9 215.4,173.4 215.8,173.9 216.2,174.5 216.7,175.0 217.1,175.5 217.5,176.0 218.0,176.5 218.4,177.0 218.8,177.5 219.3,178.1 219.7,178.6 220.1,179.1 220.6,179.6 221.0,180.1 221.4,180.6 221.9,181.2 222.3,181.7 222.7,182.2 223.1,182.7 223.6,183.3 224.0,183.8 224.4,184.3 224.9,184.8 225.3,185.3 225.7,185.9" fill="none" stroke="#3232e0" stroke-width="1.25" stroke-linejoin="round"/>
<polyline points="174.4,184.1 174.8,183.7 175.3,183.3 175.7,182.9 176.1,182.5 176.6,182.1 177.0,181.8 177.4,181.4 177.9,181.0 178.3,180.6 178.7,180.2 179.1,179.8 179.6,179.4 180.0,179.0 180.4,178.6 180.9,178.3 181.3,177.9 181.7,177.5 182.2,177.1 182.6,176.7 183.0,176.3 183.5,176.0 183.9,175.6 184.3,175.2 184.8,174.8 185.2,174.4 185.6,174.1 186.0,173.7 186.5,173.3 186.9,173.0 187.3,172.6 187.8,172.2 188.2,171.9 188.6,171.5 189.1,171.1 189.5,170.8 189.9,170.4 190.4,170.1 190.8,169.7 191.2,169.4 191.7,169.1 192.1,168.7 192.5,168.4 192.9,168.1 193.4,167.8 193.8,167.5 194.2,167.2 194.7,166.9 195.1,166.7 195.5,166.4 196.0,166.2 196.4,166.0 196.8,165.7 197.3,165.6 197.7,165.4 198.1,165.3 198.6,165.1 199.0,165.1 199.4,165.0 199.9,165.0 200.3,165.0 200.7,165.0 201.1,165.1 201.6,165.3 202.0,165.5 202.4,165.7 202.9,166.0 203.3,166.3 203.7,166.6 204.2,166.9 204.6,167.3 205.0,167.7 205.5,168.1 205.9,168.5 206.3,168.9 206.8,169.4 207.2,169.8 207.6,170.3 208.0,170.7 208.5,171.2 208.9,171.7 209.3,172.1 209.8,172.6 210.2,173.1 210.6,173.6 211.1,174.1 211.5,174.6 211.9,175.1 212.4,175.6 212.8,176.1 213.2,176.6 213.7,177.1 214.1,177.6 214.5,178.1 214.9,178.6 215.4,179.1 215.8,179.6 216.2,180.1 216.7,180.6 217.1,181.2 217.5,181.7 218.0,182.2 218.4,182.7 218.8,183.2 219.3,183.7 219.7,184.2 220.1,184.8 220.6,185.3 221.0,185.8 221.4,186.3 221.9,186.8 222.3,187.4 222.7,187.9 223.1,188.4 223.6,188.9 224.0,189.4 224.4,190.0 224.9,190.5 225.3,191.0 225.7,191.5" fill="none" stroke="#e8282a" stroke-width="1.25" stroke-linejoin="round"/>
<polyline points="211.1,185.9 211.5,185.3 211.9,184.8 212.4,184.3 212.8,183.8 213.2,183.3 213.7,182.7 214.1,182.2 214.5,181.7 214.9,181.2 215.4,180.6 215.8,180.1 216.2,179.6 216.7,179.1 217.1,178.6 217.5,178.1 218.0,177.5 218.4,177.0 218.8,176.5 219.3,176.0 219.7,175.5 220.1,175.0 220.6,174.5 221.0,173.9 221.4,173.4 221.9,172.9 222.3,172.4 222.7,171.9 223.1,171.4 223.6,170.9 224.0,170.4 224.4,169.9 224.9,169.4 225.3,168.9 225.7,168.4 226.2,167.9 226.6,167.4 227.0,166.9 227.5,166.5 227.9,166.0 228.3,165.5 228.8,165.1 229.2,164.6 229.6,164.1 230.0,163.7 230.5,163.3 230.9,162.8 231.3,162.4 231.8,162.0 232.2,161.6 232.6,161.3 233.1,160.9 233.5,160.6 233.9,160.3 234.4,160.0 234.8,159.8 235.2,159.6 235.7,159.4 236.1,159.3 236.5,159.3 236.9,159.3 237.4,159.3 237.8,159.4 238.2,159.5 238.7,159.6 239.1,159.7 239.5,159.9 240.0,160.1 240.4,160.3 240.8,160.5 241.3,160.7 241.7,161.0 242.1,161.3 242.6,161.5 243.0,161.8 243.4,162.1 243.9,162.4 244.3,162.7 244.7,163.1 245.1,163.4 245.6,163.7 246.0,164.1 246.4,164.4 246.9,164.8 247.3,165.1 247.7,165.5 248.2,165.8 248.6,166.2 249.0,166.5 249.5,166.9 249.9,167.3 250.3,167.6 250.8,168.0 251.2,168.4 251.6,168.8 252.0,169.1 252.5,169.5 252.9,169.9 253.3,170.3 253.8,170.7 254.2,171.0 254.6,171.4 255.1,171.8 255.5,172.2 255.9,172.6 256.4,173.0 256.8,173.4 257.2,173.7 257.7,174.1 258.1,174.5 258.5,174.9 258.9,175.3 259.4,175.7 259.8,176.1 260.2,176.5 260.7,176.9 261.1,177.2 261.5,177.6 262.0,178.0 262.4,178.4" fill="none" stroke="#e8282a" stroke-width="1.25" stroke-linejoin="round"/>
<polyline points="211.1,191.5 211.5,191.0 211.9,190.5 212.4,190.0 212.8,189.4 213.2,188.9 213.7,188.4 214.1,187.9 214.5,187.4 214.9,186.8 215.4,186.3 215.8,185.8 216.2,185.3 216.7,184.8 217.1,184.2 217.5,183.7 218.0,183.2 218.4,182.7 218.8,182.2 219.3,181.7 219.7,181.2 220.1,180.6 220.6,180.1 221.0,179.6 221.4,179.1 221.9,178.6 222.3,178.1 222.7,177.6 223.1,177.1 223.6,176.6 224.0,176.1 224.4,175.6 224.9,175.1 225.3,174.6 225.7,174.1 226.2,173.6 226.6,173.1 227.0,172.6 227.5,172.1 227.9,171.7 228.3,171.2 228.8,170.7 229.2,170.3 229.6,169.8 230.0,169.4 230.5,168.9 230.9,168.5 231.3,168.1 231.8,167.7 232.2,167.3 232.6,166.9 233.1,166.6 233.5,166.3 233.9,166.0 234.4,165.7 234.8,165.5 235.2,165.3 235.7,165.1 236.1,165.0 236.5,165.0 236.9,165.0 237.4,165.0 237.8,165.1 238.2,165.1 238.7,165.3 239.1,165.4 239.5,165.6 240.0,165.7 240.4,166.0 240.8,166.2 241.3,166.4 241.7,166.7 242.1,166.9 242.6,167.2 243.0,167.5 243.4,167.8 243.9,168.1 244.3,168.4 244.7,168.7 245.1,169.1 245.6,169.4 246.0,169.7 246.4,170.1 246.9,170.4 247.3,170.8 247.7,171.1 248.2,171.5 248.6,171.9 249.0,172.2 249.5,172.6 249.9,173.0 250.3,173.3 250.8,173.7 251.2,174.1 251.6,174.4 252.0,174.8 252.5,175.2 252.9,175.6 253.3,176.0 253.8,176.3 254.2,176.7 254.6,177.1 255.1,177.5 255.5,177.9 255.9,178.3 256.4,178.6 256.8,179.0 257.2,179.4 257.7,179.8 258.1,180.2 258.5,180.6 258.9,181.0 259.4,181.4 259.8,181.8 260.2,182.1 260.7,182.5 261.1,182.9 261.5,183.3 262.0,183.7 262.4,184.1" fill="none" stroke="#3232e0" stroke-width="1.25" stroke-linejoin="round"/>
<polyline points="183.6,72.3 184.4,73.5 185.2,74.6 186.0,75.7 186.8,76.7 187.6,77.6 188.4,78.4 189.2,79.1 190.0,79.9 190.9,80.6 191.7,81.3 192.5,82.2 193.3,83.2 194.1,84.4 194.9,85.8 195.7,87.0 196.5,88.0 197.3,88.6 198.1,89.1 199.0,89.5 199.8,89.6 200.6,89.6 201.4,89.3 202.2,88.9 203.0,88.4 203.8,87.9 204.6,87.4 205.4,86.8 206.2,86.2 207.1,85.4 207.9,84.6 208.7,83.5 209.5,82.3 210.3,81.3 211.1,80.6 211.9,80.1 212.7,79.8 213.5,79.5 214.3,79.4 215.2,79.3 216.0,79.2 216.8,79.1 217.6,79.1 218.4,79.1" fill="none" stroke="#e8282a" stroke-width="1.2" stroke-linejoin="round" stroke-linecap="round" opacity="1.0"/>
<polyline points="183.6,72.3 184.4,73.5 185.2,74.6 186.0,75.7 186.8,76.7 187.6,77.6 188.4,78.5 189.2,79.3 190.0,80.1 190.9,80.9 191.7,81.6 192.5,82.3 193.3,82.9 194.1,83.5 194.9,84.1 195.7,84.7 196.5,85.2 197.3,85.6 198.1,86.0 199.0,86.4 199.8,86.6 200.6,86.6 201.4,86.3 202.2,85.9 203.0,85.4 203.8,84.9 204.6,84.3 205.4,83.6 206.2,82.9 207.1,82.3 207.9,81.9 208.7,81.5 209.5,81.2 210.3,80.9 211.1,80.6 211.9,80.2 212.7,79.8 213.5,79.5 214.3,79.4 215.2,79.3 216.0,79.2 216.8,79.1 217.6,79.1 218.4,79.1" fill="none" stroke="#3232e0" stroke-width="1.2" stroke-linejoin="round" stroke-linecap="round" opacity="1.0"/>
<polyline points="218.4,79.1 219.2,79.1 220.0,79.1 220.8,79.2 221.6,79.3 222.5,79.4 223.3,79.5 224.1,79.8 224.9,80.1 225.7,80.6 226.5,81.3 227.3,82.3 228.1,83.5 228.9,84.6 229.7,85.4 230.6,86.2 231.4,86.8 232.2,87.4 233.0,87.9 233.8,88.4 234.6,88.9 235.4,89.3 236.2,89.6 237.0,89.6 237.8,89.5 238.7,89.1 239.5,88.6 240.3,88.0 241.1,87.0 241.9,85.8 242.7,84.4 243.5,83.2 244.3,82.2 245.1,81.3 245.9,80.6 246.8,79.9 247.6,79.1 248.4,78.4 249.2,77.6 250.0,76.7 250.8,75.7 251.6,74.6 252.4,73.5 253.2,72.3" fill="none" stroke="#3232e0" stroke-width="1.2" stroke-linejoin="round" stroke-linecap="round" opacity="1.0"/>
<polyline points="218.4,79.1 219.2,79.1 220.0,79.1 220.8,79.2 221.6,79.3 222.5,79.4 223.3,79.5 224.1,79.8 224.9,80.2 225.7,80.6 226.5,80.9 227.3,81.2 228.1,81.5 228.9,81.9 229.7,82.3 230.6,82.9 231.4,83.6 232.2,84.3 233.0,84.9 233.8,85.4 234.6,85.9 235.4,86.3 236.2,86.6 237.0,86.6 237.8,86.4 238.7,86.0 239.5,85.6 240.3,85.2 241.1,84.7 241.9,84.1 242.7,83.5 243.5,82.9 244.3,82.3 245.1,81.6 245.9,80.9 246.8,80.1 247.6,79.3 248.4,78.5 249.2,77.6 250.0,76.7 250.8,75.7 251.6,74.6 252.4,73.5 253.2,72.3" fill="none" stroke="#e8282a" stroke-width="1.2" stroke-linejoin="round" stroke-linecap="round" opacity="1.0"/>
<polyline points="163.4,80.0 164.2,79.7 165.0,79.5 165.8,79.3 166.6,79.1 167.4,79.0 168.2,78.9 169.0,78.8 169.8,78.8 170.6,78.7 171.4,78.7 172.2,78.7 173.0,78.7 173.8,78.7 174.6,79.0 175.4,79.4 176.2,79.9 177.0,80.4 177.7,80.9 178.5,81.2 179.3,81.5 180.1,81.8 180.9,82.0 181.7,82.3 182.5,82.5 183.3,82.8 184.1,83.0 184.9,83.2 185.7,83.5 186.5,83.7 187.3,84.0 188.1,84.3 188.9,84.6 189.7,84.9 190.5,85.2 191.3,85.6 192.1,86.0 192.9,86.5 193.7,86.9 194.5,87.4 195.3,87.7 196.1,88.0 196.9,88.3 197.7,88.5 198.5,88.8 199.3,88.9 200.1,89.0 200.9,88.9 201.7,88.7 202.5,88.4 203.3,88.0 204.1,87.6 204.8,87.0 205.6,86.2 206.4,85.3 207.2,84.5 208.0,83.8 208.8,83.1 209.6,82.4 210.4,81.8 211.2,81.2 212.0,80.8 212.8,80.4 213.6,80.1 214.4,79.9 215.2,79.8 216.0,79.6 216.8,79.5 217.6,79.5 218.4,79.4" fill="none" stroke="#e8282a" stroke-width="1.2" stroke-linejoin="round" stroke-linecap="round" opacity="1.0"/>
<polyline points="163.4,79.6 164.2,79.3 165.0,79.1 165.8,78.9 166.6,78.7 167.4,78.5 168.2,78.4 169.0,78.3 169.8,78.2 170.6,78.2 171.4,78.2 172.2,78.1 173.0,78.1 173.8,78.1 174.6,78.2 175.4,78.4 176.2,78.6 177.0,78.9 177.7,79.1 178.5,79.3 179.3,79.5 180.1,79.7 180.9,80.0 181.7,80.2 182.5,80.4 183.3,80.7 184.1,80.9 184.9,81.2 185.7,81.5 186.5,81.7 187.3,82.0 188.1,82.3 188.9,82.5 189.7,82.8 190.5,83.1 191.3,83.4 192.1,83.7 192.9,84.1 193.7,84.4 194.5,84.7 195.3,85.0 196.1,85.2 196.9,85.4 197.7,85.6 198.5,85.8 199.3,85.9 200.1,86.0 200.9,85.9 201.7,85.8 202.5,85.6 203.3,85.3 204.1,85.0 204.8,84.6 205.6,84.0 206.4,83.5 207.2,83.0 208.0,82.5 208.8,82.0 209.6,81.5 210.4,81.1 211.2,80.7 212.0,80.3 212.8,80.0 213.6,79.7 214.4,79.6 215.2,79.5 216.0,79.4 216.8,79.3 217.6,79.3 218.4,79.3" fill="none" stroke="#3232e0" stroke-width="1.2" stroke-linejoin="round" stroke-linecap="round" opacity="1.0"/>
<polyline points="218.4,79.4 219.2,79.5 220.0,79.5 220.8,79.6 221.6,79.8 222.4,79.9 223.2,80.1 224.0,80.4 224.8,80.8 225.6,81.2 226.4,81.8 227.2,82.4 228.0,83.1 228.8,83.8 229.6,84.5 230.4,85.3 231.2,86.2 232.0,87.0 232.7,87.6 233.5,88.0 234.3,88.4 235.1,88.7 235.9,88.9 236.7,89.0 237.5,88.9 238.3,88.8 239.1,88.5 239.9,88.3 240.7,88.0 241.5,87.7 242.3,87.4 243.1,86.9 243.9,86.5 244.7,86.0 245.5,85.6 246.3,85.2 247.1,84.9 247.9,84.6 248.7,84.3 249.5,84.0 250.3,83.7 251.1,83.5 251.9,83.2 252.7,83.0 253.5,82.8 254.3,82.5 255.1,82.3 255.9,82.0 256.7,81.8 257.5,81.5 258.3,81.2 259.1,80.9 259.8,80.4 260.6,79.9 261.4,79.4 262.2,79.0 263.0,78.7 263.8,78.7 264.6,78.7 265.4,78.7 266.2,78.7 267.0,78.8 267.8,78.8 268.6,78.9 269.4,79.0 270.2,79.1 271.0,79.3 271.8,79.5 272.6,79.7 273.4,80.0" fill="none" stroke="#3232e0" stroke-width="1.2" stroke-linejoin="round" stroke-linecap="round" opacity="1.0"/>
<polyline points="218.4,79.3 219.2,79.3 220.0,79.3 220.8,79.4 221.6,79.5 222.4,79.6 223.2,79.7 224.0,80.0 224.8,80.3 225.6,80.7 226.4,81.1 227.2,81.5 228.0,82.0 228.8,82.5 229.6,83.0 230.4,83.5 231.2,84.0 232.0,84.6 232.7,85.0 233.5,85.3 234.3,85.6 235.1,85.8 235.9,85.9 236.7,86.0 237.5,85.9 238.3,85.8 239.1,85.6 239.9,85.4 240.7,85.2 241.5,85.0 242.3,84.7 243.1,84.4 243.9,84.1 244.7,83.7 245.5,83.4 246.3,83.1 247.1,82.8 247.9,82.5 248.7,82.3 249.5,82.0 250.3,81.7 251.1,81.5 251.9,81.2 252.7,80.9 253.5,80.7 254.3,80.4 255.1,80.2 255.9,80.0 256.7,79.7 257.5,79.5 258.3,79.3 259.1,79.1 259.8,78.9 260.6,78.6 261.4,78.4 262.2,78.2 263.0,78.1 263.8,78.1 264.6,78.1 265.4,78.2 266.2,78.2 267.0,78.2 267.8,78.3 268.6,78.4 269.4,78.5 270.2,78.7 271.0,78.9 271.8,79.1 272.6,79.3 273.4,79.6" fill="none" stroke="#e8282a" stroke-width="1.2" stroke-linejoin="round" stroke-linecap="round" opacity="1.0"/>
<polyline points="163.4,80.4 164.2,80.0 165.0,79.7 165.8,79.4 166.6,79.2 167.4,79.0 168.2,78.9 169.0,78.8 169.8,78.8 170.6,78.7 171.4,78.7 172.2,78.7 173.0,78.8 173.8,79.0 174.6,79.5 175.4,80.1 176.2,80.8 177.0,81.5 177.7,82.2 178.5,82.9 179.3,83.6 180.1,84.4 180.9,85.2 181.7,86.1 182.5,86.9 183.3,87.7 184.1,88.6 184.9,89.5 185.7,90.5 186.5,91.4 187.3,92.4 188.1,93.2 188.9,93.9 189.7,94.5 190.5,95.0 191.3,95.5 192.1,96.0 192.9,96.4 193.7,96.9 194.5,97.5 195.3,98.0 196.1,98.6 196.9,99.1 197.7,99.4 198.5,99.8 199.3,100.1 200.1,100.2 200.9,100.1 201.7,99.8 202.5,99.4 203.3,99.0 204.1,98.5 204.8,97.8 205.6,97.0 206.4,96.3 207.2,95.4 208.0,94.5 208.8,93.4 209.6,92.3 210.4,91.2 211.2,90.0 212.0,88.7 212.8,87.2 213.6,85.6 214.4,84.2 215.2,83.0 216.0,82.0 216.8,81.1 217.6,80.4 218.4,80.1" fill="none" stroke="#e8282a" stroke-width="1.3" stroke-linejoin="round" stroke-linecap="round" opacity="1.0"/>
<polyline points="163.4,79.8 164.2,79.4 165.0,79.1 165.8,78.8 166.6,78.6 167.4,78.4 168.2,78.3 169.0,78.2 169.8,78.2 170.6,78.1 171.4,78.1 172.2,78.1 173.0,78.2 173.8,78.4 174.6,78.9 175.4,79.5 176.2,80.2 177.0,80.9 177.7,81.6 178.5,82.3 179.3,83.0 180.1,83.8 180.9,84.6 181.7,85.5 182.5,86.3 183.3,87.1 184.1,88.0 184.9,88.9 185.7,89.9 186.5,90.9 187.3,91.8 188.1,92.6 188.9,93.3 189.7,93.9 190.5,94.4 191.3,94.9 192.1,95.3 192.9,95.8 193.7,96.2 194.5,96.8 195.3,97.3 196.1,97.9 196.9,98.4 197.7,98.7 198.5,99.1 199.3,99.4 200.1,99.5 200.9,99.4 201.7,99.1 202.5,98.8 203.3,98.3 204.1,97.8 204.8,97.1 205.6,96.4 206.4,95.6 207.2,94.7 208.0,93.8 208.8,92.8 209.6,91.7 210.4,90.6 211.2,89.4 212.0,88.1 212.8,86.6 213.6,85.0 214.4,83.6 215.2,82.4 216.0,81.4 216.8,80.5 217.6,79.7 218.4,79.4" fill="none" stroke="#3232e0" stroke-width="1.3" stroke-linejoin="round" stroke-linecap="round" opacity="1.0"/>
<polyline points="218.4,80.1 219.2,80.4 220.0,81.1 220.8,82.0 221.6,83.0 222.4,84.2 223.2,85.6 224.0,87.2 224.8,88.7 225.6,90.0 226.4,91.2 227.2,92.3 228.0,93.4 228.8,94.5 229.6,95.4 230.4,96.3 231.2,97.0 232.0,97.8 232.7,98.5 233.5,99.0 234.3,99.4 235.1,99.8 235.9,100.1 236.7,100.2 237.5,100.1 238.3,99.8 239.1,99.4 239.9,99.1 240.7,98.6 241.5,98.0 242.3,97.5 243.1,96.9 243.9,96.4 244.7,96.0 245.5,95.5 246.3,95.0 247.1,94.5 247.9,93.9 248.7,93.2 249.5,92.4 250.3,91.4 251.1,90.5 251.9,89.5 252.7,88.6 253.5,87.7 254.3,86.9 255.1,86.1 255.9,85.2 256.7,84.4 257.5,83.6 258.3,82.9 259.1,82.2 259.8,81.5 260.6,80.8 261.4,80.1 262.2,79.5 263.0,79.0 263.8,78.8 264.6,78.7 265.4,78.7 266.2,78.7 267.0,78.8 267.8,78.8 268.6,78.9 269.4,79.0 270.2,79.2 271.0,79.4 271.8,79.7 272.6,80.0 273.4,80.4" fill="none" stroke="#3232e0" stroke-width="1.3" stroke-linejoin="round" stroke-linecap="round" opacity="1.0"/>
<polyline points="218.4,79.4 219.2,79.7 220.0,80.5 220.8,81.4 221.6,82.4 222.4,83.6 223.2,85.0 224.0,86.6 224.8,88.1 225.6,89.4 226.4,90.6 227.2,91.7 228.0,92.8 228.8,93.8 229.6,94.7 230.4,95.6 231.2,96.4 232.0,97.1 232.7,97.8 233.5,98.3 234.3,98.8 235.1,99.1 235.9,99.4 236.7,99.5 237.5,99.4 238.3,99.1 239.1,98.7 239.9,98.4 240.7,97.9 241.5,97.3 242.3,96.8 243.1,96.2 243.9,95.8 244.7,95.3 245.5,94.9 246.3,94.4 247.1,93.9 247.9,93.3 248.7,92.6 249.5,91.8 250.3,90.9 251.1,89.9 251.9,88.9 252.7,88.0 253.5,87.1 254.3,86.3 255.1,85.5 255.9,84.6 256.7,83.8 257.5,83.0 258.3,82.3 259.1,81.6 259.8,80.9 260.6,80.2 261.4,79.5 262.2,78.9 263.0,78.4 263.8,78.2 264.6,78.1 265.4,78.1 266.2,78.1 267.0,78.2 267.8,78.2 268.6,78.3 269.4,78.4 270.2,78.6 271.0,78.8 271.8,79.1 272.6,79.4 273.4,79.8" fill="none" stroke="#e8282a" stroke-width="1.3" stroke-linejoin="round" stroke-linecap="round" opacity="1.0"/>
</g>
<line x1="163.4" y1="76.8" x2="273.4" y2="76.8" stroke="#e0e0e0" stroke-width="0.9"/>
<line x1="163.4" y1="76.8" x2="163.4" y2="171.40" stroke="#d4d4d4" stroke-width="0.9"/>
<line x1="273.4" y1="76.8" x2="273.4" y2="171.40" stroke="#b0b0b0" stroke-width="1.1"/>
<line x1="163.4" y1="171.40" x2="273.4" y2="171.40" stroke="#a8a8a8" stroke-width="0.9"/>
<text x="161.5" y="78.70" text-anchor="end" font-family="Liberation Serif, serif" font-size="5.5" fill="#333">2.0</text>
<text x="161.5" y="97.62" text-anchor="end" font-family="Liberation Serif, serif" font-size="5.5" fill="#333">1.5</text>
<text x="161.5" y="116.54" text-anchor="end" font-family="Liberation Serif, serif" font-size="5.5" fill="#333">1.0</text>
<text x="161.5" y="135.46" text-anchor="end" font-family="Liberation Serif, serif" font-size="5.5" fill="#333">0.5</text>
<text x="161.5" y="154.38" text-anchor="end" font-family="Liberation Serif, serif" font-size="5.5" fill="#333">0.0</text>
<text x="161.5" y="173.30" text-anchor="end" font-family="Liberation Serif, serif" font-size="5.5" fill="#333">−0.5</text>
<text transform="translate(150.6,125.61) rotate(-90)" text-anchor="middle" font-family="Liberation Serif, serif" font-size="5.4" fill="#222">E − E<tspan font-size="3.4" dy="1">F</tspan><tspan dy="-1"> (eV)</tspan></text>
<text x="163.40" y="176.00" text-anchor="middle" font-family="Liberation Serif, serif" font-size="4.8" fill="#333">Γ</text>
<text x="200.07" y="176.00" text-anchor="middle" font-family="Liberation Serif, serif" font-size="4.8" fill="#333">K</text>
<text x="236.73" y="176.00" text-anchor="middle" font-family="Liberation Serif, serif" font-size="4.8" fill="#333">K1</text>
<text x="273.40" y="176.00" text-anchor="middle" font-family="Liberation Serif, serif" font-size="4.8" fill="#333">Γ</text>
<clipPath id="clip02"><rect x="301.3" y="76.8" width="110.0" height="94.60000000000001"/></clipPath>
<line x1="301.3" y1="95.72" x2="411.3" y2="95.72" stroke="#e4e4e4" stroke-width="0.8"/>
<line x1="301.3" y1="114.64" x2="411.3" y2="114.64" stroke="#e4e4e4" stroke-width="0.8"/>
<line x1="301.3" y1="133.56" x2="411.3" y2="133.56" stroke="#e4e4e4" stroke-width="0.8"/>
<line x1="301.3" y1="152.48" x2="411.3" y2="152.48" stroke="#9a9a9a" stroke-width="0.8"/>
<line x1="337.97" y1="76.8" x2="337.97" y2="171.40" stroke="#9a9a9a" stroke-width="0.8"/>
<line x1="374.63" y1="76.8" x2="374.63" y2="171.40" stroke="#9a9a9a" stroke-width="0.8"/>
<g clip-path="url(#clip02)">
<polyline points="301.3,161.2 301.6,161.2 301.9,161.2 302.1,161.2 302.4,161.2 302.7,161.2 303.0,161.3 303.2,161.3 303.5,161.3 303.8,161.3 304.1,161.4 304.4,161.4 304.6,161.5 304.9,161.5 305.2,161.6 305.5,161.6 305.7,161.7 306.0,161.7 306.3,161.8 306.6,161.9 306.9,162.0 307.1,162.0 307.4,162.1 307.7,162.2 308.0,162.3 308.2,162.4 308.5,162.5 308.8,162.6 309.1,162.7 309.4,162.8 309.6,162.9 309.9,163.0 310.2,163.2 310.5,163.3 310.7,163.4 311.0,163.6 311.3,163.7 311.6,163.8 311.9,164.0 312.1,164.1 312.4,164.3 312.7,164.4 313.0,164.6 313.2,164.8 313.5,164.9 313.8,165.1 314.1,165.3 314.4,165.5 314.6,165.6 314.9,165.8 315.2,166.0 315.5,166.2 315.7,166.4 316.0,166.6 316.3,166.8 316.6,167.0 316.9,167.3 317.1,167.5 317.4,167.7 317.7,167.9 318.0,168.2 318.2,168.4 318.5,168.6 318.8,168.9 319.1,169.1 319.4,169.4 319.6,169.6 319.9,169.9 320.2,170.1 320.5,170.4 320.7,170.7 321.0,171.0 321.3,171.2 321.6,171.5 321.9,171.8 322.1,172.1 322.4,172.4 322.7,172.7 323.0,173.0 323.2,173.3 323.5,173.6 323.8,173.9 324.1,174.2 324.4,174.5 324.6,174.9 324.9,175.2 325.2,175.5 325.5,175.9 325.7,176.2 326.0,176.5 326.3,176.9 326.6,177.2 326.9,177.6 327.1,177.9 327.4,178.3 327.7,178.7 328.0,179.0 328.2,179.4 328.5,179.8 328.8,180.2" fill="none" stroke="#3232e0" stroke-width="1.25" stroke-linejoin="round"/>
<polyline points="411.3,161.2 411.0,161.2 410.7,161.2 410.5,161.2 410.2,161.2 409.9,161.2 409.6,161.3 409.4,161.3 409.1,161.3 408.8,161.3 408.5,161.4 408.2,161.4 408.0,161.5 407.7,161.5 407.4,161.6 407.1,161.6 406.9,161.7 406.6,161.7 406.3,161.8 406.0,161.9 405.7,162.0 405.5,162.0 405.2,162.1 404.9,162.2 404.6,162.3 404.4,162.4 404.1,162.5 403.8,162.6 403.5,162.7 403.2,162.8 403.0,162.9 402.7,163.0 402.4,163.2 402.1,163.3 401.9,163.4 401.6,163.6 401.3,163.7 401.0,163.8 400.7,164.0 400.5,164.1 400.2,164.3 399.9,164.4 399.6,164.6 399.4,164.8 399.1,164.9 398.8,165.1 398.5,165.3 398.2,165.5 398.0,165.6 397.7,165.8 397.4,166.0 397.1,166.2 396.9,166.4 396.6,166.6 396.3,166.8 396.0,167.0 395.7,167.3 395.5,167.5 395.2,167.7 394.9,167.9 394.6,168.2 394.4,168.4 394.1,168.6 393.8,168.9 393.5,169.1 393.2,169.4 393.0,169.6 392.7,169.9 392.4,170.1 392.1,170.4 391.9,170.7 391.6,171.0 391.3,171.2 391.0,171.5 390.7,171.8 390.5,172.1 390.2,172.4 389.9,172.7 389.6,173.0 389.4,173.3 389.1,173.6 388.8,173.9 388.5,174.2 388.2,174.5 388.0,174.9 387.7,175.2 387.4,175.5 387.1,175.9 386.9,176.2 386.6,176.5 386.3,176.9 386.0,177.2 385.7,177.6 385.5,177.9 385.2,178.3 384.9,178.7 384.6,179.0 384.4,179.4 384.1,179.8 383.8,180.2" fill="none" stroke="#3232e0" stroke-width="1.25" stroke-linejoin="round"/>
<polyline points="312.3,178.4 312.7,178.0 313.2,177.6 313.6,177.2 314.0,176.9 314.5,176.5 314.9,176.1 315.3,175.7 315.8,175.3 316.2,174.9 316.6,174.5 317.0,174.1 317.5,173.7 317.9,173.4 318.3,173.0 318.8,172.6 319.2,172.2 319.6,171.8 320.1,171.4 320.5,171.0 320.9,170.7 321.4,170.3 321.8,169.9 322.2,169.5 322.7,169.1 323.1,168.8 323.5,168.4 323.9,168.0 324.4,167.6 324.8,167.3 325.2,166.9 325.7,166.5 326.1,166.2 326.5,165.8 327.0,165.5 327.4,165.1 327.8,164.8 328.3,164.4 328.7,164.1 329.1,163.7 329.6,163.4 330.0,163.1 330.4,162.7 330.8,162.4 331.3,162.1 331.7,161.8 332.1,161.5 332.6,161.3 333.0,161.0 333.4,160.7 333.9,160.5 334.3,160.3 334.7,160.1 335.2,159.9 335.6,159.7 336.0,159.6 336.5,159.5 336.9,159.4 337.3,159.3 337.8,159.3 338.2,159.3 338.6,159.3 339.0,159.4 339.5,159.6 339.9,159.8 340.3,160.0 340.8,160.3 341.2,160.6 341.6,160.9 342.1,161.3 342.5,161.6 342.9,162.0 343.4,162.4 343.8,162.8 344.2,163.3 344.7,163.7 345.1,164.1 345.5,164.6 345.9,165.1 346.4,165.5 346.8,166.0 347.2,166.5 347.7,166.9 348.1,167.4 348.5,167.9 349.0,168.4 349.4,168.9 349.8,169.4 350.3,169.9 350.7,170.4 351.1,170.9 351.6,171.4 352.0,171.9 352.4,172.4 352.8,172.9 353.3,173.4 353.7,173.9 354.1,174.5 354.6,175.0 355.0,175.5 355.4,176.0 355.9,176.5 356.3,177.0 356.7,177.5 357.2,178.1 357.6,178.6 358.0,179.1 358.5,179.6 358.9,180.1 359.3,180.6 359.8,181.2 360.2,181.7 360.6,182.2 361.0,182.7 361.5,183.3 361.9,183.8 362.3,184.3 362.8,184.8 363.2,185.3 363.6,185.9" fill="none" stroke="#3232e0" stroke-width="1.25" stroke-linejoin="round"/>
<polyline points="312.3,184.1 312.7,183.7 313.2,183.3 313.6,182.9 314.0,182.5 314.5,182.1 314.9,181.8 315.3,181.4 315.8,181.0 316.2,180.6 316.6,180.2 317.0,179.8 317.5,179.4 317.9,179.0 318.3,178.6 318.8,178.3 319.2,177.9 319.6,177.5 320.1,177.1 320.5,176.7 320.9,176.3 321.4,176.0 321.8,175.6 322.2,175.2 322.7,174.8 323.1,174.4 323.5,174.1 323.9,173.7 324.4,173.3 324.8,173.0 325.2,172.6 325.7,172.2 326.1,171.9 326.5,171.5 327.0,171.1 327.4,170.8 327.8,170.4 328.3,170.1 328.7,169.7 329.1,169.4 329.6,169.1 330.0,168.7 330.4,168.4 330.8,168.1 331.3,167.8 331.7,167.5 332.1,167.2 332.6,166.9 333.0,166.7 333.4,166.4 333.9,166.2 334.3,166.0 334.7,165.7 335.2,165.6 335.6,165.4 336.0,165.3 336.5,165.1 336.9,165.1 337.3,165.0 337.8,165.0 338.2,165.0 338.6,165.0 339.0,165.1 339.5,165.3 339.9,165.5 340.3,165.7 340.8,166.0 341.2,166.3 341.6,166.6 342.1,166.9 342.5,167.3 342.9,167.7 343.4,168.1 343.8,168.5 344.2,168.9 344.7,169.4 345.1,169.8 345.5,170.3 345.9,170.7 346.4,171.2 346.8,171.7 347.2,172.1 347.7,172.6 348.1,173.1 348.5,173.6 349.0,174.1 349.4,174.6 349.8,175.1 350.3,175.6 350.7,176.1 351.1,176.6 351.6,177.1 352.0,177.6 352.4,178.1 352.8,178.6 353.3,179.1 353.7,179.6 354.1,180.1 354.6,180.6 355.0,181.2 355.4,181.7 355.9,182.2 356.3,182.7 356.7,183.2 357.2,183.7 357.6,184.2 358.0,184.8 358.5,185.3 358.9,185.8 359.3,186.3 359.8,186.8 360.2,187.4 360.6,187.9 361.0,188.4 361.5,188.9 361.9,189.4 362.3,190.0 362.8,190.5 363.2,191.0 363.6,191.5" fill="none" stroke="#e8282a" stroke-width="1.25" stroke-linejoin="round"/>
<polyline points="349.0,185.9 349.4,185.3 349.8,184.8 350.3,184.3 350.7,183.8 351.1,183.3 351.6,182.7 352.0,182.2 352.4,181.7 352.8,181.2 353.3,180.6 353.7,180.1 354.1,179.6 354.6,179.1 355.0,178.6 355.4,178.1 355.9,177.5 356.3,177.0 356.7,176.5 357.2,176.0 357.6,175.5 358.0,175.0 358.5,174.5 358.9,173.9 359.3,173.4 359.8,172.9 360.2,172.4 360.6,171.9 361.0,171.4 361.5,170.9 361.9,170.4 362.3,169.9 362.8,169.4 363.2,168.9 363.6,168.4 364.1,167.9 364.5,167.4 364.9,166.9 365.4,166.5 365.8,166.0 366.2,165.5 366.7,165.1 367.1,164.6 367.5,164.1 367.9,163.7 368.4,163.3 368.8,162.8 369.2,162.4 369.7,162.0 370.1,161.6 370.5,161.3 371.0,160.9 371.4,160.6 371.8,160.3 372.3,160.0 372.7,159.8 373.1,159.6 373.6,159.4 374.0,159.3 374.4,159.3 374.8,159.3 375.3,159.3 375.7,159.4 376.1,159.5 376.6,159.6 377.0,159.7 377.4,159.9 377.9,160.1 378.3,160.3 378.7,160.5 379.2,160.7 379.6,161.0 380.0,161.3 380.5,161.5 380.9,161.8 381.3,162.1 381.8,162.4 382.2,162.7 382.6,163.1 383.0,163.4 383.5,163.7 383.9,164.1 384.3,164.4 384.8,164.8 385.2,165.1 385.6,165.5 386.1,165.8 386.5,166.2 386.9,166.5 387.4,166.9 387.8,167.3 388.2,167.6 388.7,168.0 389.1,168.4 389.5,168.8 389.9,169.1 390.4,169.5 390.8,169.9 391.2,170.3 391.7,170.7 392.1,171.0 392.5,171.4 393.0,171.8 393.4,172.2 393.8,172.6 394.3,173.0 394.7,173.4 395.1,173.7 395.6,174.1 396.0,174.5 396.4,174.9 396.8,175.3 397.3,175.7 397.7,176.1 398.1,176.5 398.6,176.9 399.0,177.2 399.4,177.6 399.9,178.0 400.3,178.4" fill="none" stroke="#e8282a" stroke-width="1.25" stroke-linejoin="round"/>
<polyline points="349.0,191.5 349.4,191.0 349.8,190.5 350.3,190.0 350.7,189.4 351.1,188.9 351.6,188.4 352.0,187.9 352.4,187.4 352.8,186.8 353.3,186.3 353.7,185.8 354.1,185.3 354.6,184.8 355.0,184.2 355.4,183.7 355.9,183.2 356.3,182.7 356.7,182.2 357.2,181.7 357.6,181.2 358.0,180.6 358.5,180.1 358.9,179.6 359.3,179.1 359.8,178.6 360.2,178.1 360.6,177.6 361.0,177.1 361.5,176.6 361.9,176.1 362.3,175.6 362.8,175.1 363.2,174.6 363.6,174.1 364.1,173.6 364.5,173.1 364.9,172.6 365.4,172.1 365.8,171.7 366.2,171.2 366.7,170.7 367.1,170.3 367.5,169.8 367.9,169.4 368.4,168.9 368.8,168.5 369.2,168.1 369.7,167.7 370.1,167.3 370.5,166.9 371.0,166.6 371.4,166.3 371.8,166.0 372.3,165.7 372.7,165.5 373.1,165.3 373.6,165.1 374.0,165.0 374.4,165.0 374.8,165.0 375.3,165.0 375.7,165.1 376.1,165.1 376.6,165.3 377.0,165.4 377.4,165.6 377.9,165.7 378.3,166.0 378.7,166.2 379.2,166.4 379.6,166.7 380.0,166.9 380.5,167.2 380.9,167.5 381.3,167.8 381.8,168.1 382.2,168.4 382.6,168.7 383.0,169.1 383.5,169.4 383.9,169.7 384.3,170.1 384.8,170.4 385.2,170.8 385.6,171.1 386.1,171.5 386.5,171.9 386.9,172.2 387.4,172.6 387.8,173.0 388.2,173.3 388.7,173.7 389.1,174.1 389.5,174.4 389.9,174.8 390.4,175.2 390.8,175.6 391.2,176.0 391.7,176.3 392.1,176.7 392.5,177.1 393.0,177.5 393.4,177.9 393.8,178.3 394.3,178.6 394.7,179.0 395.1,179.4 395.6,179.8 396.0,180.2 396.4,180.6 396.8,181.0 397.3,181.4 397.7,181.8 398.1,182.1 398.6,182.5 399.0,182.9 399.4,183.3 399.9,183.7 400.3,184.1" fill="none" stroke="#3232e0" stroke-width="1.25" stroke-linejoin="round"/>
<polyline points="321.5,72.3 322.3,73.5 323.1,74.6 323.9,75.7 324.7,76.7 325.5,77.6 326.3,78.4 327.1,79.1 327.9,79.9 328.8,80.6 329.6,81.3 330.4,82.2 331.2,83.2 332.0,84.4 332.8,85.8 333.6,87.0 334.4,88.0 335.2,88.6 336.0,89.1 336.9,89.5 337.7,89.6 338.5,89.6 339.3,89.3 340.1,88.9 340.9,88.4 341.7,87.9 342.5,87.4 343.3,86.8 344.1,86.2 345.0,85.4 345.8,84.6 346.6,83.5 347.4,82.3 348.2,81.3 349.0,80.6 349.8,80.1 350.6,79.8 351.4,79.5 352.2,79.4 353.1,79.3 353.9,79.2 354.7,79.1 355.5,79.1 356.3,79.1" fill="none" stroke="#e8282a" stroke-width="1.2" stroke-linejoin="round" stroke-linecap="round" opacity="1.0"/>
<polyline points="321.5,72.3 322.3,73.5 323.1,74.6 323.9,75.7 324.7,76.7 325.5,77.6 326.3,78.5 327.1,79.3 327.9,80.1 328.8,80.9 329.6,81.6 330.4,82.3 331.2,82.9 332.0,83.5 332.8,84.1 333.6,84.7 334.4,85.2 335.2,85.6 336.0,86.0 336.9,86.4 337.7,86.6 338.5,86.6 339.3,86.3 340.1,85.9 340.9,85.4 341.7,84.9 342.5,84.3 343.3,83.6 344.1,82.9 345.0,82.3 345.8,81.9 346.6,81.5 347.4,81.2 348.2,80.9 349.0,80.6 349.8,80.2 350.6,79.8 351.4,79.5 352.2,79.4 353.1,79.3 353.9,79.2 354.7,79.1 355.5,79.1 356.3,79.1" fill="none" stroke="#3232e0" stroke-width="1.2" stroke-linejoin="round" stroke-linecap="round" opacity="1.0"/>
<polyline points="356.3,79.1 357.1,79.1 357.9,79.1 358.7,79.2 359.5,79.3 360.4,79.4 361.2,79.5 362.0,79.8 362.8,80.1 363.6,80.6 364.4,81.3 365.2,82.3 366.0,83.5 366.8,84.6 367.6,85.4 368.5,86.2 369.3,86.8 370.1,87.4 370.9,87.9 371.7,88.4 372.5,88.9 373.3,89.3 374.1,89.6 374.9,89.6 375.7,89.5 376.6,89.1 377.4,88.6 378.2,88.0 379.0,87.0 379.8,85.8 380.6,84.4 381.4,83.2 382.2,82.2 383.0,81.3 383.8,80.6 384.7,79.9 385.5,79.1 386.3,78.4 387.1,77.6 387.9,76.7 388.7,75.7 389.5,74.6 390.3,73.5 391.1,72.3" fill="none" stroke="#3232e0" stroke-width="1.2" stroke-linejoin="round" stroke-linecap="round" opacity="1.0"/>
<polyline points="356.3,79.1 357.1,79.1 357.9,79.1 358.7,79.2 359.5,79.3 360.4,79.4 361.2,79.5 362.0,79.8 362.8,80.2 363.6,80.6 364.4,80.9 365.2,81.2 366.0,81.5 366.8,81.9 367.6,82.3 368.5,82.9 369.3,83.6 370.1,84.3 370.9,84.9 371.7,85.4 372.5,85.9 373.3,86.3 374.1,86.6 374.9,86.6 375.7,86.4 376.6,86.0 377.4,85.6 378.2,85.2 379.0,84.7 379.8,84.1 380.6,83.5 381.4,82.9 382.2,82.3 383.0,81.6 383.8,80.9 384.7,80.1 385.5,79.3 386.3,78.5 387.1,77.6 387.9,76.7 388.7,75.7 389.5,74.6 390.3,73.5 391.1,72.3" fill="none" stroke="#e8282a" stroke-width="1.2" stroke-linejoin="round" stroke-linecap="round" opacity="1.0"/>
<polyline points="301.3,80.0 302.1,79.7 302.9,79.5 303.7,79.3 304.5,79.1 305.3,79.0 306.1,78.9 306.9,78.8 307.7,78.8 308.5,78.7 309.3,78.7 310.1,78.7 310.9,78.7 311.7,78.7 312.5,79.0 313.3,79.4 314.1,79.9 314.9,80.4 315.6,80.9 316.4,81.2 317.2,81.5 318.0,81.8 318.8,82.0 319.6,82.3 320.4,82.5 321.2,82.8 322.0,83.0 322.8,83.2 323.6,83.5 324.4,83.7 325.2,84.0 326.0,84.3 326.8,84.6 327.6,84.9 328.4,85.2 329.2,85.6 330.0,86.0 330.8,86.5 331.6,86.9 332.4,87.4 333.2,87.7 334.0,88.0 334.8,88.3 335.6,88.5 336.4,88.8 337.2,88.9 338.0,89.0 338.8,88.9 339.6,88.7 340.4,88.4 341.2,88.0 342.0,87.6 342.7,87.0 343.5,86.2 344.3,85.3 345.1,84.5 345.9,83.8 346.7,83.1 347.5,82.4 348.3,81.8 349.1,81.2 349.9,80.8 350.7,80.4 351.5,80.1 352.3,79.9 353.1,79.8 353.9,79.6 354.7,79.5 355.5,79.5 356.3,79.4" fill="none" stroke="#e8282a" stroke-width="1.2" stroke-linejoin="round" stroke-linecap="round" opacity="1.0"/>
<polyline points="301.3,79.6 302.1,79.3 302.9,79.1 303.7,78.9 304.5,78.7 305.3,78.5 306.1,78.4 306.9,78.3 307.7,78.2 308.5,78.2 309.3,78.2 310.1,78.1 310.9,78.1 311.7,78.1 312.5,78.2 313.3,78.4 314.1,78.6 314.9,78.9 315.6,79.1 316.4,79.3 317.2,79.5 318.0,79.7 318.8,80.0 319.6,80.2 320.4,80.4 321.2,80.7 322.0,80.9 322.8,81.2 323.6,81.5 324.4,81.7 325.2,82.0 326.0,82.3 326.8,82.5 327.6,82.8 328.4,83.1 329.2,83.4 330.0,83.7 330.8,84.1 331.6,84.4 332.4,84.7 333.2,85.0 334.0,85.2 334.8,85.4 335.6,85.6 336.4,85.8 337.2,85.9 338.0,86.0 338.8,85.9 339.6,85.8 340.4,85.6 341.2,85.3 342.0,85.0 342.7,84.6 343.5,84.0 344.3,83.5 345.1,83.0 345.9,82.5 346.7,82.0 347.5,81.5 348.3,81.1 349.1,80.7 349.9,80.3 350.7,80.0 351.5,79.7 352.3,79.6 353.1,79.5 353.9,79.4 354.7,79.3 355.5,79.3 356.3,79.3" fill="none" stroke="#3232e0" stroke-width="1.2" stroke-linejoin="round" stroke-linecap="round" opacity="1.0"/>
<polyline points="356.3,79.4 357.1,79.5 357.9,79.5 358.7,79.6 359.5,79.8 360.3,79.9 361.1,80.1 361.9,80.4 362.7,80.8 363.5,81.2 364.3,81.8 365.1,82.4 365.9,83.1 366.7,83.8 367.5,84.5 368.3,85.3 369.1,86.2 369.9,87.0 370.6,87.6 371.4,88.0 372.2,88.4 373.0,88.7 373.8,88.9 374.6,89.0 375.4,88.9 376.2,88.8 377.0,88.5 377.8,88.3 378.6,88.0 379.4,87.7 380.2,87.4 381.0,86.9 381.8,86.5 382.6,86.0 383.4,85.6 384.2,85.2 385.0,84.9 385.8,84.6 386.6,84.3 387.4,84.0 388.2,83.7 389.0,83.5 389.8,83.2 390.6,83.0 391.4,82.8 392.2,82.5 393.0,82.3 393.8,82.0 394.6,81.8 395.4,81.5 396.2,81.2 397.0,80.9 397.7,80.4 398.5,79.9 399.3,79.4 400.1,79.0 400.9,78.7 401.7,78.7 402.5,78.7 403.3,78.7 404.1,78.7 404.9,78.8 405.7,78.8 406.5,78.9 407.3,79.0 408.1,79.1 408.9,79.3 409.7,79.5 410.5,79.7 411.3,80.0" fill="none" stroke="#3232e0" stroke-width="1.2" stroke-linejoin="round" stroke-linecap="round" opacity="1.0"/>
<polyline points="356.3,79.3 357.1,79.3 357.9,79.3 358.7,79.4 359.5,79.5 360.3,79.6 361.1,79.7 361.9,80.0 362.7,80.3 363.5,80.7 364.3,81.1 365.1,81.5 365.9,82.0 366.7,82.5 367.5,83.0 368.3,83.5 369.1,84.0 369.9,84.6 370.6,85.0 371.4,85.3 372.2,85.6 373.0,85.8 373.8,85.9 374.6,86.0 375.4,85.9 376.2,85.8 377.0,85.6 377.8,85.4 378.6,85.2 379.4,85.0 380.2,84.7 381.0,84.4 381.8,84.1 382.6,83.7 383.4,83.4 384.2,83.1 385.0,82.8 385.8,82.5 386.6,82.3 387.4,82.0 388.2,81.7 389.0,81.5 389.8,81.2 390.6,80.9 391.4,80.7 392.2,80.4 393.0,80.2 393.8,80.0 394.6,79.7 395.4,79.5 396.2,79.3 397.0,79.1 397.7,78.9 398.5,78.6 399.3,78.4 400.1,78.2 400.9,78.1 401.7,78.1 402.5,78.1 403.3,78.2 404.1,78.2 404.9,78.2 405.7,78.3 406.5,78.4 407.3,78.5 408.1,78.7 408.9,78.9 409.7,79.1 410.5,79.3 411.3,79.6" fill="none" stroke="#e8282a" stroke-width="1.2" stroke-linejoin="round" stroke-linecap="round" opacity="1.0"/>
<polyline points="301.3,80.4 302.1,80.0 302.9,79.7 303.7,79.4 304.5,79.2 305.3,79.0 306.1,78.9 306.9,78.8 307.7,78.8 308.5,78.7 309.3,78.7 310.1,78.7 310.9,78.8 311.7,79.0 312.5,79.5 313.3,80.1 314.1,80.8 314.9,81.5 315.6,82.2 316.4,82.9 317.2,83.6 318.0,84.4 318.8,85.2 319.6,86.1 320.4,86.9 321.2,87.7 322.0,88.6 322.8,89.5 323.6,90.5 324.4,91.4 325.2,92.4 326.0,93.2 326.8,93.9 327.6,94.5 328.4,95.0 329.2,95.5 330.0,96.0 330.8,96.4 331.6,96.9 332.4,97.5 333.2,98.0 334.0,98.6 334.8,99.1 335.6,99.4 336.4,99.8 337.2,100.1 338.0,100.2 338.8,100.1 339.6,99.8 340.4,99.4 341.2,99.0 342.0,98.5 342.7,97.8 343.5,97.0 344.3,96.3 345.1,95.4 345.9,94.5 346.7,93.4 347.5,92.3 348.3,91.2 349.1,90.0 349.9,88.7 350.7,87.2 351.5,85.6 352.3,84.2 353.1,83.0 353.9,82.0 354.7,81.1 355.5,80.4 356.3,80.1" fill="none" stroke="#e8282a" stroke-width="1.3" stroke-linejoin="round" stroke-linecap="round" opacity="1.0"/>
<polyline points="301.3,79.8 302.1,79.4 302.9,79.1 303.7,78.8 304.5,78.6 305.3,78.4 306.1,78.3 306.9,78.2 307.7,78.2 308.5,78.1 309.3,78.1 310.1,78.1 310.9,78.2 311.7,78.4 312.5,78.9 313.3,79.5 314.1,80.2 314.9,80.9 315.6,81.6 316.4,82.3 317.2,83.0 318.0,83.8 318.8,84.6 319.6,85.5 320.4,86.3 321.2,87.1 322.0,88.0 322.8,88.9 323.6,89.9 324.4,90.9 325.2,91.8 326.0,92.6 326.8,93.3 327.6,93.9 328.4,94.4 329.2,94.9 330.0,95.3 330.8,95.8 331.6,96.2 332.4,96.8 333.2,97.3 334.0,97.9 334.8,98.4 335.6,98.7 336.4,99.1 337.2,99.4 338.0,99.5 338.8,99.4 339.6,99.1 340.4,98.8 341.2,98.3 342.0,97.8 342.7,97.1 343.5,96.4 344.3,95.6 345.1,94.7 345.9,93.8 346.7,92.8 347.5,91.7 348.3,90.6 349.1,89.4 349.9,88.1 350.7,86.6 351.5,85.0 352.3,83.6 353.1,82.4 353.9,81.4 354.7,80.5 355.5,79.7 356.3,79.4" fill="none" stroke="#3232e0" stroke-width="1.3" stroke-linejoin="round" stroke-linecap="round" opacity="1.0"/>
<polyline points="356.3,80.1 357.1,80.4 357.9,81.1 358.7,82.0 359.5,83.0 360.3,84.2 361.1,85.6 361.9,87.2 362.7,88.7 363.5,90.0 364.3,91.2 365.1,92.3 365.9,93.4 366.7,94.5 367.5,95.4 368.3,96.3 369.1,97.0 369.9,97.8 370.6,98.5 371.4,99.0 372.2,99.4 373.0,99.8 373.8,100.1 374.6,100.2 375.4,100.1 376.2,99.8 377.0,99.4 377.8,99.1 378.6,98.6 379.4,98.0 380.2,97.5 381.0,96.9 381.8,96.4 382.6,96.0 383.4,95.5 384.2,95.0 385.0,94.5 385.8,93.9 386.6,93.2 387.4,92.4 388.2,91.4 389.0,90.5 389.8,89.5 390.6,88.6 391.4,87.7 392.2,86.9 393.0,86.1 393.8,85.2 394.6,84.4 395.4,83.6 396.2,82.9 397.0,82.2 397.7,81.5 398.5,80.8 399.3,80.1 400.1,79.5 400.9,79.0 401.7,78.8 402.5,78.7 403.3,78.7 404.1,78.7 404.9,78.8 405.7,78.8 406.5,78.9 407.3,79.0 408.1,79.2 408.9,79.4 409.7,79.7 410.5,80.0 411.3,80.4" fill="none" stroke="#3232e0" stroke-width="1.3" stroke-linejoin="round" stroke-linecap="round" opacity="1.0"/>
<polyline points="356.3,79.4 357.1,79.7 357.9,80.5 358.7,81.4 359.5,82.4 360.3,83.6 361.1,85.0 361.9,86.6 362.7,88.1 363.5,89.4 364.3,90.6 365.1,91.7 365.9,92.8 366.7,93.8 367.5,94.7 368.3,95.6 369.1,96.4 369.9,97.1 370.6,97.8 371.4,98.3 372.2,98.8 373.0,99.1 373.8,99.4 374.6,99.5 375.4,99.4 376.2,99.1 377.0,98.7 377.8,98.4 378.6,97.9 379.4,97.3 380.2,96.8 381.0,96.2 381.8,95.8 382.6,95.3 383.4,94.9 384.2,94.4 385.0,93.9 385.8,93.3 386.6,92.6 387.4,91.8 388.2,90.9 389.0,89.9 389.8,88.9 390.6,88.0 391.4,87.1 392.2,86.3 393.0,85.5 393.8,84.6 394.6,83.8 395.4,83.0 396.2,82.3 397.0,81.6 397.7,80.9 398.5,80.2 399.3,79.5 400.1,78.9 400.9,78.4 401.7,78.2 402.5,78.1 403.3,78.1 404.1,78.1 404.9,78.2 405.7,78.2 406.5,78.3 407.3,78.4 408.1,78.6 408.9,78.8 409.7,79.1 410.5,79.4 411.3,79.8" fill="none" stroke="#e8282a" stroke-width="1.3" stroke-linejoin="round" stroke-linecap="round" opacity="1.0"/>
</g>
<line x1="301.3" y1="76.8" x2="411.3" y2="76.8" stroke="#e0e0e0" stroke-width="0.9"/>
<line x1="301.3" y1="76.8" x2="301.3" y2="171.40" stroke="#d4d4d4" stroke-width="0.9"/>
<line x1="411.3" y1="76.8" x2="411.3" y2="171.40" stroke="#b0b0b0" stroke-width="1.1"/>
<line x1="301.3" y1="171.40" x2="411.3" y2="171.40" stroke="#a8a8a8" stroke-width="0.9"/>
<text x="299.40000000000003" y="78.70" text-anchor="end" font-family="Liberation Serif, serif" font-size="5.5" fill="#333">2.0</text>
<text x="299.40000000000003" y="97.62" text-anchor="end" font-family="Liberation Serif, serif" font-size="5.5" fill="#333">1.5</text>
<text x="299.40000000000003" y="116.54" text-anchor="end" font-family="Liberation Serif, serif" font-size="5.5" fill="#333">1.0</text>
<text x="299.40000000000003" y="135.46" text-anchor="end" font-family="Liberation Serif, serif" font-size="5.5" fill="#333">0.5</text>
<text x="299.40000000000003" y="154.38" text-anchor="end" font-family="Liberation Serif, serif" font-size="5.5" fill="#333">0.0</text>
<text x="299.40000000000003" y="173.30" text-anchor="end" font-family="Liberation Serif, serif" font-size="5.5" fill="#333">−0.5</text>
<text transform="translate(288.5,125.61) rotate(-90)" text-anchor="middle" font-family="Liberation Serif, serif" font-size="5.4" fill="#222">E − E<tspan font-size="3.4" dy="1">F</tspan><tspan dy="-1"> (eV)</tspan></text>
<text x="301.30" y="176.00" text-anchor="middle" font-family="Liberation Serif, serif" font-size="4.8" fill="#333">Γ</text>
<text x="337.97" y="176.00" text-anchor="middle" font-family="Liberation Serif, serif" font-size="4.8" fill="#333">K</text>
<text x="374.63" y="176.00" text-anchor="middle" font-family="Liberation Serif, serif" font-size="4.8" fill="#333">K1</text>
<text x="411.30" y="176.00" text-anchor="middle" font-family="Liberation Serif, serif" font-size="4.8" fill="#333">Γ</text>
<clipPath id="clip10"><rect x="25.5" y="200.0" width="110.0" height="94.60000000000002"/></clipPath>
<line x1="25.5" y1="218.92" x2="135.5" y2="218.92" stroke="#e4e4e4" stroke-width="0.8"/>
<line x1="25.5" y1="237.84" x2="135.5" y2="237.84" stroke="#e4e4e4" stroke-width="0.8"/>
<line x1="62.17" y1="200.0" x2="62.17" y2="294.60" stroke="#9a9a9a" stroke-width="0.8"/>
<line x1="98.83" y1="200.0" x2="98.83" y2="294.60" stroke="#9a9a9a" stroke-width="0.8"/>
<g clip-path="url(#clip10)">
<polyline points="25.5,200.2 26.3,200.4 27.1,200.5 27.9,200.7 28.7,200.8 29.5,201.0 30.3,201.1 31.1,201.3 31.9,201.5 32.7,201.6 33.5,201.8 34.3,202.0 35.1,202.2 35.9,202.3 36.7,202.5 37.5,202.8 38.3,203.0 39.1,203.3 39.8,203.6 40.6,203.8 41.4,204.1 42.2,204.4 43.0,204.7 43.8,204.9 44.6,205.1 45.4,205.3 46.2,205.4 47.0,205.5 47.8,205.5 48.6,205.5 49.4,205.5 50.2,205.5 51.0,205.5 51.8,205.4 52.6,205.4 53.4,205.4 54.2,205.4 55.0,205.3 55.8,205.3 56.6,205.2 57.4,205.2 58.2,205.1 59.0,205.1 59.8,205.0 60.6,204.9 61.4,204.8 62.2,204.8 63.0,204.7 63.8,204.6 64.6,204.6 65.4,204.5 66.2,204.4 66.9,204.4 67.7,204.3 68.5,204.2 69.3,204.0 70.1,203.9 70.9,203.6 71.7,203.3 72.5,202.9 73.3,202.5 74.1,202.1 74.9,201.7 75.7,201.3 76.5,201.0 77.3,200.7 78.1,200.4 78.9,200.1 79.7,199.9 80.5,199.8" fill="none" stroke="#e8282a" stroke-width="1.2" stroke-linejoin="round" stroke-linecap="round" opacity="1.0"/>
<polyline points="25.5,199.6 26.3,199.8 27.1,199.9 27.9,200.1 28.7,200.2 29.5,200.4 30.3,200.5 31.1,200.7 31.9,200.9 32.7,201.0 33.5,201.2 34.3,201.4 35.1,201.6 35.9,201.7 36.7,201.9 37.5,202.1 38.3,202.4 39.1,202.7 39.8,202.9 40.6,203.2 41.4,203.5 42.2,203.8 43.0,204.1 43.8,204.3 44.6,204.5 45.4,204.7 46.2,204.8 47.0,204.9 47.8,204.9 48.6,204.9 49.4,204.9 50.2,204.9 51.0,204.9 51.8,204.8 52.6,204.8 53.4,204.8 54.2,204.8 55.0,204.7 55.8,204.7 56.6,204.6 57.4,204.5 58.2,204.4 59.0,204.3 59.8,204.2 60.6,204.1 61.4,204.1 62.2,204.0 63.0,203.9 63.8,203.9 64.6,203.8 65.4,203.8 66.2,203.7 66.9,203.7 67.7,203.6 68.5,203.5 69.3,203.4 70.1,203.3 70.9,203.0 71.7,202.7 72.5,202.3 73.3,201.9 74.1,201.5 74.9,201.1 75.7,200.7 76.5,200.4 77.3,200.1 78.1,199.8 78.9,199.5 79.7,199.3 80.5,199.2" fill="none" stroke="#3232e0" stroke-width="1.2" stroke-linejoin="round" stroke-linecap="round" opacity="1.0"/>
<polyline points="80.5,199.8 81.3,199.9 82.1,200.1 82.9,200.4 83.7,200.7 84.5,201.0 85.3,201.3 86.1,201.7 86.9,202.1 87.7,202.5 88.5,202.9 89.3,203.3 90.1,203.6 90.9,203.9 91.7,204.0 92.5,204.2 93.3,204.3 94.1,204.4 94.8,204.4 95.6,204.5 96.4,204.6 97.2,204.6 98.0,204.7 98.8,204.8 99.6,204.8 100.4,204.9 101.2,205.0 102.0,205.1 102.8,205.1 103.6,205.2 104.4,205.2 105.2,205.3 106.0,205.3 106.8,205.4 107.6,205.4 108.4,205.4 109.2,205.4 110.0,205.5 110.8,205.5 111.6,205.5 112.4,205.5 113.2,205.5 114.0,205.5 114.8,205.4 115.6,205.3 116.4,205.1 117.2,204.9 118.0,204.7 118.8,204.4 119.6,204.1 120.4,203.8 121.2,203.6 121.9,203.3 122.7,203.0 123.5,202.8 124.3,202.5 125.1,202.3 125.9,202.2 126.7,202.0 127.5,201.8 128.3,201.6 129.1,201.5 129.9,201.3 130.7,201.1 131.5,201.0 132.3,200.8 133.1,200.7 133.9,200.5 134.7,200.4 135.5,200.2" fill="none" stroke="#3232e0" stroke-width="1.2" stroke-linejoin="round" stroke-linecap="round" opacity="1.0"/>
<polyline points="80.5,199.2 81.3,199.3 82.1,199.5 82.9,199.8 83.7,200.1 84.5,200.4 85.3,200.7 86.1,201.1 86.9,201.5 87.7,201.9 88.5,202.3 89.3,202.7 90.1,203.0 90.9,203.3 91.7,203.4 92.5,203.5 93.3,203.6 94.1,203.7 94.8,203.7 95.6,203.8 96.4,203.8 97.2,203.9 98.0,203.9 98.8,204.0 99.6,204.1 100.4,204.1 101.2,204.2 102.0,204.3 102.8,204.4 103.6,204.5 104.4,204.6 105.2,204.7 106.0,204.7 106.8,204.8 107.6,204.8 108.4,204.8 109.2,204.8 110.0,204.9 110.8,204.9 111.6,204.9 112.4,204.9 113.2,204.9 114.0,204.9 114.8,204.8 115.6,204.7 116.4,204.5 117.2,204.3 118.0,204.1 118.8,203.8 119.6,203.5 120.4,203.2 121.2,202.9 121.9,202.7 122.7,202.4 123.5,202.1 124.3,201.9 125.1,201.7 125.9,201.6 126.7,201.4 127.5,201.2 128.3,201.0 129.1,200.9 129.9,200.7 130.7,200.5 131.5,200.4 132.3,200.2 133.1,200.1 133.9,199.9 134.7,199.8 135.5,199.6" fill="none" stroke="#e8282a" stroke-width="1.2" stroke-linejoin="round" stroke-linecap="round" opacity="1.0"/>
<polyline points="40.2,196.1 41.0,197.2 41.8,198.3 42.6,199.4 43.4,200.5 44.2,201.6 45.0,202.7 45.8,203.8 46.6,205.0 47.4,206.1 48.2,207.2 49.0,208.3 49.8,209.4 50.7,210.5 51.5,211.6 52.3,212.8 53.1,214.0 53.9,215.2 54.7,216.4 55.5,217.6 56.3,218.7 57.1,219.7 57.9,220.5 58.7,221.2 59.5,221.8 60.3,222.4 61.1,222.9 61.9,223.1 62.8,223.1 63.6,222.8 64.4,222.4 65.2,221.9 66.0,221.5 66.8,221.1 67.6,220.7 68.4,220.2 69.2,219.7 70.0,219.2 70.8,218.7 71.6,218.3 72.4,217.9 73.2,217.6 74.0,217.3 74.9,217.0 75.7,216.7 76.5,216.5 77.3,216.2 78.1,216.0 78.9,215.9 79.7,215.8 80.5,215.7" fill="none" stroke="#e8282a" stroke-width="1.2" stroke-linejoin="round" stroke-linecap="round" opacity="1.0"/>
<polyline points="40.2,195.5 41.0,196.6 41.8,197.7 42.6,198.8 43.4,199.9 44.2,201.0 45.0,202.1 45.8,203.2 46.6,204.4 47.4,205.5 48.2,206.6 49.0,207.7 49.8,208.8 50.7,209.9 51.5,211.0 52.3,212.2 53.1,213.4 53.9,214.6 54.7,215.8 55.5,217.0 56.3,218.1 57.1,219.1 57.9,219.9 58.7,220.6 59.5,221.3 60.3,221.9 61.1,222.4 61.9,222.7 62.8,222.6 63.6,222.4 64.4,222.0 65.2,221.5 66.0,221.1 66.8,220.7 67.6,220.2 68.4,219.7 69.2,219.2 70.0,218.7 70.8,218.2 71.6,217.7 72.4,217.3 73.2,217.0 74.0,216.7 74.9,216.4 75.7,216.1 76.5,215.9 77.3,215.6 78.1,215.4 78.9,215.3 79.7,215.2 80.5,215.1" fill="none" stroke="#3232e0" stroke-width="1.2" stroke-linejoin="round" stroke-linecap="round" opacity="1.0"/>
<polyline points="80.5,215.7 81.3,215.8 82.1,215.9 82.9,216.0 83.7,216.2 84.5,216.5 85.3,216.7 86.1,217.0 87.0,217.3 87.8,217.6 88.6,217.9 89.4,218.3 90.2,218.7 91.0,219.2 91.8,219.7 92.6,220.2 93.4,220.7 94.2,221.1 95.0,221.5 95.8,221.9 96.6,222.4 97.4,222.8 98.2,223.1 99.1,223.1 99.9,222.9 100.7,222.4 101.5,221.8 102.3,221.2 103.1,220.5 103.9,219.7 104.7,218.7 105.5,217.6 106.3,216.4 107.1,215.2 107.9,214.0 108.7,212.8 109.5,211.6 110.3,210.5 111.2,209.4 112.0,208.3 112.8,207.2 113.6,206.1 114.4,205.0 115.2,203.8 116.0,202.7 116.8,201.6 117.6,200.5 118.4,199.4 119.2,198.3 120.0,197.2 120.8,196.1" fill="none" stroke="#3232e0" stroke-width="1.2" stroke-linejoin="round" stroke-linecap="round" opacity="1.0"/>
<polyline points="80.5,215.1 81.3,215.2 82.1,215.3 82.9,215.4 83.7,215.6 84.5,215.9 85.3,216.1 86.1,216.4 87.0,216.7 87.8,217.0 88.6,217.3 89.4,217.7 90.2,218.2 91.0,218.7 91.8,219.2 92.6,219.7 93.4,220.2 94.2,220.7 95.0,221.1 95.8,221.5 96.6,222.0 97.4,222.4 98.2,222.6 99.1,222.7 99.9,222.4 100.7,221.9 101.5,221.3 102.3,220.6 103.1,219.9 103.9,219.1 104.7,218.1 105.5,217.0 106.3,215.8 107.1,214.6 107.9,213.4 108.7,212.2 109.5,211.0 110.3,209.9 111.2,208.8 112.0,207.7 112.8,206.6 113.6,205.5 114.4,204.4 115.2,203.2 116.0,202.1 116.8,201.0 117.6,199.9 118.4,198.8 119.2,197.7 120.0,196.6 120.8,195.5" fill="none" stroke="#e8282a" stroke-width="1.2" stroke-linejoin="round" stroke-linecap="round" opacity="1.0"/>
<polyline points="25.5,215.7 26.3,215.4 27.1,215.2 27.9,215.0 28.7,214.8 29.5,214.7 30.3,214.6 31.1,214.5 31.9,214.5 32.7,214.4 33.5,214.4 34.3,214.4 35.1,214.5 35.9,214.6 36.7,214.8 37.5,215.0 38.3,215.3 39.1,215.7 39.8,216.0 40.6,216.3 41.4,216.7 42.2,217.0 43.0,217.3 43.8,217.6 44.6,218.0 45.4,218.3 46.2,218.7 47.0,219.1 47.8,219.4 48.6,219.8 49.4,220.1 50.2,220.4 51.0,220.6 51.8,220.8 52.6,221.0 53.4,221.2 54.2,221.3 55.0,221.5 55.8,221.6 56.6,221.8 57.4,221.9 58.2,222.1 59.0,222.2 59.8,222.4 60.6,222.6 61.4,222.7 62.2,222.7 63.0,222.7 63.8,222.5 64.6,222.3 65.4,222.0 66.2,221.7 66.9,221.5 67.7,221.2 68.5,220.9 69.3,220.6 70.1,220.2 70.9,219.9 71.7,219.5 72.5,219.1 73.3,218.7 74.1,218.2 74.9,217.6 75.7,217.0 76.5,216.5 77.3,216.2 78.1,216.0 78.9,215.9 79.7,215.8 80.5,215.7" fill="none" stroke="#e8282a" stroke-width="1.2" stroke-linejoin="round" stroke-linecap="round" opacity="1.0"/>
<polyline points="25.5,215.1 26.3,214.8 27.1,214.6 27.9,214.4 28.7,214.2 29.5,214.1 30.3,214.0 31.1,213.9 31.9,213.9 32.7,213.8 33.5,213.8 34.3,213.8 35.1,213.9 35.9,214.0 36.7,214.2 37.5,214.4 38.3,214.7 39.1,215.1 39.8,215.4 40.6,215.7 41.4,216.1 42.2,216.4 43.0,216.7 43.8,217.0 44.6,217.4 45.4,217.8 46.2,218.2 47.0,218.6 47.8,219.0 48.6,219.3 49.4,219.6 50.2,219.8 51.0,220.0 51.8,220.2 52.6,220.3 53.4,220.4 54.2,220.4 55.0,220.5 55.8,220.6 56.6,220.7 57.4,220.8 58.2,220.9 59.0,221.0 59.8,221.2 60.6,221.4 61.4,221.5 62.2,221.6 63.0,221.5 63.8,221.3 64.6,221.1 65.4,220.8 66.2,220.6 66.9,220.3 67.7,220.1 68.5,219.8 69.3,219.6 70.1,219.3 70.9,219.1 71.7,218.8 72.5,218.4 73.3,218.1 74.1,217.6 74.9,217.0 75.7,216.5 76.5,215.9 77.3,215.6 78.1,215.4 78.9,215.3 79.7,215.2 80.5,215.1" fill="none" stroke="#3232e0" stroke-width="1.2" stroke-linejoin="round" stroke-linecap="round" opacity="1.0"/>
<polyline points="80.5,215.7 81.3,215.8 82.1,215.9 82.9,216.0 83.7,216.2 84.5,216.5 85.3,217.0 86.1,217.6 86.9,218.2 87.7,218.7 88.5,219.1 89.3,219.5 90.1,219.9 90.9,220.2 91.7,220.6 92.5,220.9 93.3,221.2 94.1,221.5 94.8,221.7 95.6,222.0 96.4,222.3 97.2,222.5 98.0,222.7 98.8,222.7 99.6,222.7 100.4,222.6 101.2,222.4 102.0,222.2 102.8,222.1 103.6,221.9 104.4,221.8 105.2,221.6 106.0,221.5 106.8,221.3 107.6,221.2 108.4,221.0 109.2,220.8 110.0,220.6 110.8,220.4 111.6,220.1 112.4,219.8 113.2,219.4 114.0,219.1 114.8,218.7 115.6,218.3 116.4,218.0 117.2,217.6 118.0,217.3 118.8,217.0 119.6,216.7 120.4,216.3 121.2,216.0 121.9,215.7 122.7,215.3 123.5,215.0 124.3,214.8 125.1,214.6 125.9,214.5 126.7,214.4 127.5,214.4 128.3,214.4 129.1,214.5 129.9,214.5 130.7,214.6 131.5,214.7 132.3,214.8 133.1,215.0 133.9,215.2 134.7,215.4 135.5,215.7" fill="none" stroke="#3232e0" stroke-width="1.2" stroke-linejoin="round" stroke-linecap="round" opacity="1.0"/>
<polyline points="80.5,215.1 81.3,215.2 82.1,215.3 82.9,215.4 83.7,215.6 84.5,215.9 85.3,216.5 86.1,217.0 86.9,217.6 87.7,218.1 88.5,218.4 89.3,218.8 90.1,219.1 90.9,219.3 91.7,219.6 92.5,219.8 93.3,220.1 94.1,220.3 94.8,220.6 95.6,220.8 96.4,221.1 97.2,221.3 98.0,221.5 98.8,221.6 99.6,221.5 100.4,221.4 101.2,221.2 102.0,221.0 102.8,220.9 103.6,220.8 104.4,220.7 105.2,220.6 106.0,220.5 106.8,220.4 107.6,220.4 108.4,220.3 109.2,220.2 110.0,220.0 110.8,219.8 111.6,219.6 112.4,219.3 113.2,219.0 114.0,218.6 114.8,218.2 115.6,217.8 116.4,217.4 117.2,217.0 118.0,216.7 118.8,216.4 119.6,216.1 120.4,215.7 121.2,215.4 121.9,215.1 122.7,214.7 123.5,214.4 124.3,214.2 125.1,214.0 125.9,213.9 126.7,213.8 127.5,213.8 128.3,213.8 129.1,213.9 129.9,213.9 130.7,214.0 131.5,214.1 132.3,214.2 133.1,214.4 133.9,214.6 134.7,214.8 135.5,215.1" fill="none" stroke="#e8282a" stroke-width="1.2" stroke-linejoin="round" stroke-linecap="round" opacity="1.0"/>
<polyline points="25.5,215.4 26.3,215.0 27.1,214.8 27.9,214.6 28.7,214.4 29.5,214.3 30.3,214.2 31.1,214.1 31.9,214.1 32.7,214.0 33.5,214.0 34.3,214.0 35.1,214.1 35.9,214.2 36.7,214.5 37.5,214.8 38.3,215.2 39.1,215.6 39.8,216.0 40.6,216.5 41.4,217.0 42.2,217.4 43.0,217.9 43.8,218.4 44.6,219.0 45.4,219.6 46.2,220.2 47.0,220.8 47.8,221.4 48.6,222.0 49.4,222.6 50.2,223.2 51.0,223.8 51.8,224.4 52.6,224.9 53.4,225.5 54.2,226.1 55.0,226.6 55.8,227.1 56.6,227.5 57.4,227.9 58.2,228.4 59.0,228.8 59.8,229.2 60.6,229.5 61.4,229.7 62.2,229.8 63.0,229.7 63.8,229.4 64.6,229.0 65.4,228.6 66.2,228.1 66.9,227.5 67.7,226.7 68.5,225.8 69.3,224.8 70.1,223.9 70.9,223.0 71.7,222.1 72.5,221.2 73.3,220.2 74.1,219.3 74.9,218.4 75.7,217.6 76.5,217.0 77.3,216.7 78.1,216.3 78.9,216.0 79.7,215.8 80.5,215.7" fill="none" stroke="#e8282a" stroke-width="1.3" stroke-linejoin="round" stroke-linecap="round" opacity="1.0"/>
<polyline points="25.5,214.8 26.3,214.4 27.1,214.2 27.9,213.9 28.7,213.8 29.5,213.7 30.3,213.6 31.1,213.5 31.9,213.5 32.7,213.4 33.5,213.4 34.3,213.4 35.1,213.5 35.9,213.6 36.7,213.9 37.5,214.2 38.3,214.6 39.1,215.0 39.8,215.4 40.6,215.9 41.4,216.3 42.2,216.8 43.0,217.3 43.8,217.8 44.6,218.4 45.4,219.0 46.2,219.6 47.0,220.2 47.8,220.8 48.6,221.4 49.4,222.0 50.2,222.6 51.0,223.2 51.8,223.7 52.6,224.3 53.4,224.9 54.2,225.5 55.0,226.0 55.8,226.5 56.6,226.9 57.4,227.3 58.2,227.8 59.0,228.2 59.8,228.6 60.6,228.9 61.4,229.1 62.2,229.2 63.0,229.1 63.8,228.8 64.6,228.4 65.4,228.0 66.2,227.5 66.9,226.9 67.7,226.1 68.5,225.2 69.3,224.2 70.1,223.3 70.9,222.4 71.7,221.5 72.5,220.6 73.3,219.6 74.1,218.7 74.9,217.8 75.7,217.0 76.5,216.4 77.3,216.1 78.1,215.7 78.9,215.4 79.7,215.2 80.5,215.1" fill="none" stroke="#3232e0" stroke-width="1.3" stroke-linejoin="round" stroke-linecap="round" opacity="1.0"/>
<polyline points="80.5,215.7 81.3,215.8 82.1,216.0 82.9,216.3 83.7,216.7 84.5,217.0 85.3,217.6 86.1,218.4 86.9,219.3 87.7,220.2 88.5,221.2 89.3,222.1 90.1,223.0 90.9,223.9 91.7,224.8 92.5,225.8 93.3,226.7 94.1,227.5 94.8,228.1 95.6,228.6 96.4,229.0 97.2,229.4 98.0,229.7 98.8,229.8 99.6,229.7 100.4,229.5 101.2,229.2 102.0,228.8 102.8,228.4 103.6,227.9 104.4,227.5 105.2,227.1 106.0,226.6 106.8,226.1 107.6,225.5 108.4,224.9 109.2,224.4 110.0,223.8 110.8,223.2 111.6,222.6 112.4,222.0 113.2,221.4 114.0,220.8 114.8,220.2 115.6,219.6 116.4,219.0 117.2,218.4 118.0,217.9 118.8,217.4 119.6,217.0 120.4,216.5 121.2,216.0 121.9,215.6 122.7,215.2 123.5,214.8 124.3,214.5 125.1,214.2 125.9,214.1 126.7,214.0 127.5,214.0 128.3,214.0 129.1,214.1 129.9,214.1 130.7,214.2 131.5,214.3 132.3,214.4 133.1,214.6 133.9,214.8 134.7,215.0 135.5,215.4" fill="none" stroke="#3232e0" stroke-width="1.3" stroke-linejoin="round" stroke-linecap="round" opacity="1.0"/>
<polyline points="80.5,215.1 81.3,215.2 82.1,215.4 82.9,215.7 83.7,216.1 84.5,216.4 85.3,217.0 86.1,217.8 86.9,218.7 87.7,219.6 88.5,220.6 89.3,221.5 90.1,222.4 90.9,223.3 91.7,224.2 92.5,225.2 93.3,226.1 94.1,226.9 94.8,227.5 95.6,228.0 96.4,228.4 97.2,228.8 98.0,229.1 98.8,229.2 99.6,229.1 100.4,228.9 101.2,228.6 102.0,228.2 102.8,227.8 103.6,227.3 104.4,226.9 105.2,226.5 106.0,226.0 106.8,225.5 107.6,224.9 108.4,224.3 109.2,223.7 110.0,223.2 110.8,222.6 111.6,222.0 112.4,221.4 113.2,220.8 114.0,220.2 114.8,219.6 115.6,219.0 116.4,218.4 117.2,217.8 118.0,217.3 118.8,216.8 119.6,216.3 120.4,215.9 121.2,215.4 121.9,215.0 122.7,214.6 123.5,214.2 124.3,213.9 125.1,213.6 125.9,213.5 126.7,213.4 127.5,213.4 128.3,213.4 129.1,213.5 129.9,213.5 130.7,213.6 131.5,213.7 132.3,213.8 133.1,213.9 133.9,214.2 134.7,214.4 135.5,214.8" fill="none" stroke="#e8282a" stroke-width="1.3" stroke-linejoin="round" stroke-linecap="round" opacity="1.0"/>
</g>
<line x1="25.5" y1="200.0" x2="135.5" y2="200.0" stroke="#e0e0e0" stroke-width="0.9"/>
<line x1="25.5" y1="200.0" x2="25.5" y2="294.60" stroke="#d4d4d4" stroke-width="0.9"/>
<line x1="135.5" y1="200.0" x2="135.5" y2="294.60" stroke="#b0b0b0" stroke-width="1.1"/>
<line x1="25.5" y1="294.60" x2="135.5" y2="294.60" stroke="#a8a8a8" stroke-width="0.9"/>
<text x="23.6" y="201.90" text-anchor="end" font-family="Liberation Serif, serif" font-size="5.5" fill="#333">2.0</text>
<text x="23.6" y="220.82" text-anchor="end" font-family="Liberation Serif, serif" font-size="5.5" fill="#333">1.5</text>
<text x="23.6" y="239.74" text-anchor="end" font-family="Liberation Serif, serif" font-size="5.5" fill="#333">1.0</text>
<text x="23.6" y="258.66" text-anchor="end" font-family="Liberation Serif, serif" font-size="5.5" fill="#333">0.5</text>
<text transform="translate(12.7,248.81) rotate(-90)" text-anchor="middle" font-family="Liberation Serif, serif" font-size="5.4" fill="#222">E − E<tspan font-size="3.4" dy="1">F</tspan><tspan dy="-1"> (eV)</tspan></text>
<clipPath id="clip11"><rect x="163.4" y="200.0" width="110.0" height="94.60000000000002"/></clipPath>
<line x1="163.4" y1="218.92" x2="273.4" y2="218.92" stroke="#e4e4e4" stroke-width="0.8"/>
<line x1="163.4" y1="237.84" x2="273.4" y2="237.84" stroke="#e4e4e4" stroke-width="0.8"/>
<line x1="200.07" y1="200.0" x2="200.07" y2="294.60" stroke="#9a9a9a" stroke-width="0.8"/>
<line x1="236.73" y1="200.0" x2="236.73" y2="294.60" stroke="#9a9a9a" stroke-width="0.8"/>
<g clip-path="url(#clip11)">
<polyline points="163.4,200.2 164.2,200.4 165.0,200.5 165.8,200.7 166.6,200.8 167.4,201.0 168.2,201.1 169.0,201.3 169.8,201.5 170.6,201.6 171.4,201.8 172.2,202.0 173.0,202.2 173.8,202.3 174.6,202.5 175.4,202.8 176.2,203.0 177.0,203.3 177.7,203.6 178.5,203.8 179.3,204.1 180.1,204.4 180.9,204.7 181.7,204.9 182.5,205.1 183.3,205.3 184.1,205.4 184.9,205.5 185.7,205.5 186.5,205.5 187.3,205.5 188.1,205.5 188.9,205.5 189.7,205.4 190.5,205.4 191.3,205.4 192.1,205.4 192.9,205.3 193.7,205.3 194.5,205.2 195.3,205.2 196.1,205.1 196.9,205.1 197.7,205.0 198.5,204.9 199.3,204.8 200.1,204.8 200.9,204.7 201.7,204.6 202.5,204.6 203.3,204.5 204.1,204.4 204.8,204.4 205.6,204.3 206.4,204.2 207.2,204.0 208.0,203.9 208.8,203.6 209.6,203.3 210.4,202.9 211.2,202.5 212.0,202.1 212.8,201.7 213.6,201.3 214.4,201.0 215.2,200.7 216.0,200.4 216.8,200.1 217.6,199.9 218.4,199.8" fill="none" stroke="#e8282a" stroke-width="1.2" stroke-linejoin="round" stroke-linecap="round" opacity="1.0"/>
<polyline points="163.4,199.6 164.2,199.8 165.0,199.9 165.8,200.1 166.6,200.2 167.4,200.4 168.2,200.5 169.0,200.7 169.8,200.9 170.6,201.0 171.4,201.2 172.2,201.4 173.0,201.6 173.8,201.7 174.6,201.9 175.4,202.1 176.2,202.4 177.0,202.7 177.7,202.9 178.5,203.2 179.3,203.5 180.1,203.8 180.9,204.1 181.7,204.3 182.5,204.5 183.3,204.7 184.1,204.8 184.9,204.9 185.7,204.9 186.5,204.9 187.3,204.9 188.1,204.9 188.9,204.9 189.7,204.8 190.5,204.8 191.3,204.8 192.1,204.8 192.9,204.7 193.7,204.7 194.5,204.6 195.3,204.5 196.1,204.4 196.9,204.3 197.7,204.2 198.5,204.1 199.3,204.1 200.1,204.0 200.9,203.9 201.7,203.9 202.5,203.8 203.3,203.8 204.1,203.7 204.8,203.7 205.6,203.6 206.4,203.5 207.2,203.4 208.0,203.3 208.8,203.0 209.6,202.7 210.4,202.3 211.2,201.9 212.0,201.5 212.8,201.1 213.6,200.7 214.4,200.4 215.2,200.1 216.0,199.8 216.8,199.5 217.6,199.3 218.4,199.2" fill="none" stroke="#3232e0" stroke-width="1.2" stroke-linejoin="round" stroke-linecap="round" opacity="1.0"/>
<polyline points="218.4,199.8 219.2,199.9 220.0,200.1 220.8,200.4 221.6,200.7 222.4,201.0 223.2,201.3 224.0,201.7 224.8,202.1 225.6,202.5 226.4,202.9 227.2,203.3 228.0,203.6 228.8,203.9 229.6,204.0 230.4,204.2 231.2,204.3 232.0,204.4 232.7,204.4 233.5,204.5 234.3,204.6 235.1,204.6 235.9,204.7 236.7,204.8 237.5,204.8 238.3,204.9 239.1,205.0 239.9,205.1 240.7,205.1 241.5,205.2 242.3,205.2 243.1,205.3 243.9,205.3 244.7,205.4 245.5,205.4 246.3,205.4 247.1,205.4 247.9,205.5 248.7,205.5 249.5,205.5 250.3,205.5 251.1,205.5 251.9,205.5 252.7,205.4 253.5,205.3 254.3,205.1 255.1,204.9 255.9,204.7 256.7,204.4 257.5,204.1 258.3,203.8 259.1,203.6 259.8,203.3 260.6,203.0 261.4,202.8 262.2,202.5 263.0,202.3 263.8,202.2 264.6,202.0 265.4,201.8 266.2,201.6 267.0,201.5 267.8,201.3 268.6,201.1 269.4,201.0 270.2,200.8 271.0,200.7 271.8,200.5 272.6,200.4 273.4,200.2" fill="none" stroke="#3232e0" stroke-width="1.2" stroke-linejoin="round" stroke-linecap="round" opacity="1.0"/>
<polyline points="218.4,199.2 219.2,199.3 220.0,199.5 220.8,199.8 221.6,200.1 222.4,200.4 223.2,200.7 224.0,201.1 224.8,201.5 225.6,201.9 226.4,202.3 227.2,202.7 228.0,203.0 228.8,203.3 229.6,203.4 230.4,203.5 231.2,203.6 232.0,203.7 232.7,203.7 233.5,203.8 234.3,203.8 235.1,203.9 235.9,203.9 236.7,204.0 237.5,204.1 238.3,204.1 239.1,204.2 239.9,204.3 240.7,204.4 241.5,204.5 242.3,204.6 243.1,204.7 243.9,204.7 244.7,204.8 245.5,204.8 246.3,204.8 247.1,204.8 247.9,204.9 248.7,204.9 249.5,204.9 250.3,204.9 251.1,204.9 251.9,204.9 252.7,204.8 253.5,204.7 254.3,204.5 255.1,204.3 255.9,204.1 256.7,203.8 257.5,203.5 258.3,203.2 259.1,202.9 259.8,202.7 260.6,202.4 261.4,202.1 262.2,201.9 263.0,201.7 263.8,201.6 264.6,201.4 265.4,201.2 266.2,201.0 267.0,200.9 267.8,200.7 268.6,200.5 269.4,200.4 270.2,200.2 271.0,200.1 271.8,199.9 272.6,199.8 273.4,199.6" fill="none" stroke="#e8282a" stroke-width="1.2" stroke-linejoin="round" stroke-linecap="round" opacity="1.0"/>
<polyline points="178.1,196.1 178.9,197.2 179.7,198.3 180.5,199.4 181.3,200.5 182.1,201.6 182.9,202.7 183.7,203.8 184.5,205.0 185.3,206.1 186.1,207.2 186.9,208.3 187.7,209.4 188.6,210.5 189.4,211.6 190.2,212.8 191.0,214.0 191.8,215.2 192.6,216.4 193.4,217.6 194.2,218.7 195.0,219.7 195.8,220.5 196.6,221.2 197.4,221.8 198.2,222.4 199.0,222.9 199.8,223.1 200.7,223.1 201.5,222.8 202.3,222.4 203.1,221.9 203.9,221.5 204.7,221.1 205.5,220.7 206.3,220.2 207.1,219.7 207.9,219.2 208.7,218.7 209.5,218.3 210.3,217.9 211.1,217.6 211.9,217.3 212.8,217.0 213.6,216.7 214.4,216.5 215.2,216.2 216.0,216.0 216.8,215.9 217.6,215.8 218.4,215.7" fill="none" stroke="#e8282a" stroke-width="1.2" stroke-linejoin="round" stroke-linecap="round" opacity="1.0"/>
<polyline points="178.1,195.5 178.9,196.6 179.7,197.7 180.5,198.8 181.3,199.9 182.1,201.0 182.9,202.1 183.7,203.2 184.5,204.4 185.3,205.5 186.1,206.6 186.9,207.7 187.7,208.8 188.6,209.9 189.4,211.0 190.2,212.2 191.0,213.4 191.8,214.6 192.6,215.8 193.4,217.0 194.2,218.1 195.0,219.1 195.8,219.9 196.6,220.6 197.4,221.3 198.2,221.9 199.0,222.4 199.8,222.7 200.7,222.6 201.5,222.4 202.3,222.0 203.1,221.5 203.9,221.1 204.7,220.7 205.5,220.2 206.3,219.7 207.1,219.2 207.9,218.7 208.7,218.2 209.5,217.7 210.3,217.3 211.1,217.0 211.9,216.7 212.8,216.4 213.6,216.1 214.4,215.9 215.2,215.6 216.0,215.4 216.8,215.3 217.6,215.2 218.4,215.1" fill="none" stroke="#3232e0" stroke-width="1.2" stroke-linejoin="round" stroke-linecap="round" opacity="1.0"/>
<polyline points="218.4,215.7 219.2,215.8 220.0,215.9 220.8,216.0 221.6,216.2 222.4,216.5 223.2,216.7 224.0,217.0 224.9,217.3 225.7,217.6 226.5,217.9 227.3,218.3 228.1,218.7 228.9,219.2 229.7,219.7 230.5,220.2 231.3,220.7 232.1,221.1 232.9,221.5 233.7,221.9 234.5,222.4 235.3,222.8 236.1,223.1 237.0,223.1 237.8,222.9 238.6,222.4 239.4,221.8 240.2,221.2 241.0,220.5 241.8,219.7 242.6,218.7 243.4,217.6 244.2,216.4 245.0,215.2 245.8,214.0 246.6,212.8 247.4,211.6 248.2,210.5 249.1,209.4 249.9,208.3 250.7,207.2 251.5,206.1 252.3,205.0 253.1,203.8 253.9,202.7 254.7,201.6 255.5,200.5 256.3,199.4 257.1,198.3 257.9,197.2 258.7,196.1" fill="none" stroke="#3232e0" stroke-width="1.2" stroke-linejoin="round" stroke-linecap="round" opacity="1.0"/>
<polyline points="218.4,215.1 219.2,215.2 220.0,215.3 220.8,215.4 221.6,215.6 222.4,215.9 223.2,216.1 224.0,216.4 224.9,216.7 225.7,217.0 226.5,217.3 227.3,217.7 228.1,218.2 228.9,218.7 229.7,219.2 230.5,219.7 231.3,220.2 232.1,220.7 232.9,221.1 233.7,221.5 234.5,222.0 235.3,222.4 236.1,222.6 237.0,222.7 237.8,222.4 238.6,221.9 239.4,221.3 240.2,220.6 241.0,219.9 241.8,219.1 242.6,218.1 243.4,217.0 244.2,215.8 245.0,214.6 245.8,213.4 246.6,212.2 247.4,211.0 248.2,209.9 249.1,208.8 249.9,207.7 250.7,206.6 251.5,205.5 252.3,204.4 253.1,203.2 253.9,202.1 254.7,201.0 255.5,199.9 256.3,198.8 257.1,197.7 257.9,196.6 258.7,195.5" fill="none" stroke="#e8282a" stroke-width="1.2" stroke-linejoin="round" stroke-linecap="round" opacity="1.0"/>
<polyline points="163.4,215.7 164.2,215.4 165.0,215.2 165.8,215.0 166.6,214.8 167.4,214.7 168.2,214.6 169.0,214.5 169.8,214.5 170.6,214.4 171.4,214.4 172.2,214.4 173.0,214.5 173.8,214.6 174.6,214.8 175.4,215.0 176.2,215.3 177.0,215.7 177.7,216.0 178.5,216.3 179.3,216.7 180.1,217.0 180.9,217.3 181.7,217.6 182.5,218.0 183.3,218.3 184.1,218.7 184.9,219.1 185.7,219.4 186.5,219.8 187.3,220.1 188.1,220.4 188.9,220.6 189.7,220.8 190.5,221.0 191.3,221.2 192.1,221.3 192.9,221.5 193.7,221.6 194.5,221.8 195.3,221.9 196.1,222.1 196.9,222.2 197.7,222.4 198.5,222.6 199.3,222.7 200.1,222.7 200.9,222.7 201.7,222.5 202.5,222.3 203.3,222.0 204.1,221.7 204.8,221.5 205.6,221.2 206.4,220.9 207.2,220.6 208.0,220.2 208.8,219.9 209.6,219.5 210.4,219.1 211.2,218.7 212.0,218.2 212.8,217.6 213.6,217.0 214.4,216.5 215.2,216.2 216.0,216.0 216.8,215.9 217.6,215.8 218.4,215.7" fill="none" stroke="#e8282a" stroke-width="1.2" stroke-linejoin="round" stroke-linecap="round" opacity="1.0"/>
<polyline points="163.4,215.1 164.2,214.8 165.0,214.6 165.8,214.4 166.6,214.2 167.4,214.1 168.2,214.0 169.0,213.9 169.8,213.9 170.6,213.8 171.4,213.8 172.2,213.8 173.0,213.9 173.8,214.0 174.6,214.2 175.4,214.4 176.2,214.7 177.0,215.1 177.7,215.4 178.5,215.7 179.3,216.1 180.1,216.4 180.9,216.7 181.7,217.0 182.5,217.4 183.3,217.8 184.1,218.2 184.9,218.6 185.7,219.0 186.5,219.3 187.3,219.6 188.1,219.8 188.9,220.0 189.7,220.2 190.5,220.3 191.3,220.4 192.1,220.4 192.9,220.5 193.7,220.6 194.5,220.7 195.3,220.8 196.1,220.9 196.9,221.0 197.7,221.2 198.5,221.4 199.3,221.5 200.1,221.6 200.9,221.5 201.7,221.3 202.5,221.1 203.3,220.8 204.1,220.6 204.8,220.3 205.6,220.1 206.4,219.8 207.2,219.6 208.0,219.3 208.8,219.1 209.6,218.8 210.4,218.4 211.2,218.1 212.0,217.6 212.8,217.0 213.6,216.5 214.4,215.9 215.2,215.6 216.0,215.4 216.8,215.3 217.6,215.2 218.4,215.1" fill="none" stroke="#3232e0" stroke-width="1.2" stroke-linejoin="round" stroke-linecap="round" opacity="1.0"/>
<polyline points="218.4,215.7 219.2,215.8 220.0,215.9 220.8,216.0 221.6,216.2 222.4,216.5 223.2,217.0 224.0,217.6 224.8,218.2 225.6,218.7 226.4,219.1 227.2,219.5 228.0,219.9 228.8,220.2 229.6,220.6 230.4,220.9 231.2,221.2 232.0,221.5 232.7,221.7 233.5,222.0 234.3,222.3 235.1,222.5 235.9,222.7 236.7,222.7 237.5,222.7 238.3,222.6 239.1,222.4 239.9,222.2 240.7,222.1 241.5,221.9 242.3,221.8 243.1,221.6 243.9,221.5 244.7,221.3 245.5,221.2 246.3,221.0 247.1,220.8 247.9,220.6 248.7,220.4 249.5,220.1 250.3,219.8 251.1,219.4 251.9,219.1 252.7,218.7 253.5,218.3 254.3,218.0 255.1,217.6 255.9,217.3 256.7,217.0 257.5,216.7 258.3,216.3 259.1,216.0 259.8,215.7 260.6,215.3 261.4,215.0 262.2,214.8 263.0,214.6 263.8,214.5 264.6,214.4 265.4,214.4 266.2,214.4 267.0,214.5 267.8,214.5 268.6,214.6 269.4,214.7 270.2,214.8 271.0,215.0 271.8,215.2 272.6,215.4 273.4,215.7" fill="none" stroke="#3232e0" stroke-width="1.2" stroke-linejoin="round" stroke-linecap="round" opacity="1.0"/>
<polyline points="218.4,215.1 219.2,215.2 220.0,215.3 220.8,215.4 221.6,215.6 222.4,215.9 223.2,216.5 224.0,217.0 224.8,217.6 225.6,218.1 226.4,218.4 227.2,218.8 228.0,219.1 228.8,219.3 229.6,219.6 230.4,219.8 231.2,220.1 232.0,220.3 232.7,220.6 233.5,220.8 234.3,221.1 235.1,221.3 235.9,221.5 236.7,221.6 237.5,221.5 238.3,221.4 239.1,221.2 239.9,221.0 240.7,220.9 241.5,220.8 242.3,220.7 243.1,220.6 243.9,220.5 244.7,220.4 245.5,220.4 246.3,220.3 247.1,220.2 247.9,220.0 248.7,219.8 249.5,219.6 250.3,219.3 251.1,219.0 251.9,218.6 252.7,218.2 253.5,217.8 254.3,217.4 255.1,217.0 255.9,216.7 256.7,216.4 257.5,216.1 258.3,215.7 259.1,215.4 259.8,215.1 260.6,214.7 261.4,214.4 262.2,214.2 263.0,214.0 263.8,213.9 264.6,213.8 265.4,213.8 266.2,213.8 267.0,213.9 267.8,213.9 268.6,214.0 269.4,214.1 270.2,214.2 271.0,214.4 271.8,214.6 272.6,214.8 273.4,215.1" fill="none" stroke="#e8282a" stroke-width="1.2" stroke-linejoin="round" stroke-linecap="round" opacity="1.0"/>
<polyline points="163.4,215.4 164.2,215.0 165.0,214.8 165.8,214.6 166.6,214.4 167.4,214.3 168.2,214.2 169.0,214.1 169.8,214.1 170.6,214.0 171.4,214.0 172.2,214.0 173.0,214.1 173.8,214.2 174.6,214.5 175.4,214.8 176.2,215.2 177.0,215.6 177.7,216.0 178.5,216.5 179.3,217.0 180.1,217.4 180.9,217.9 181.7,218.4 182.5,219.0 183.3,219.6 184.1,220.2 184.9,220.8 185.7,221.4 186.5,222.0 187.3,222.6 188.1,223.2 188.9,223.8 189.7,224.4 190.5,224.9 191.3,225.5 192.1,226.1 192.9,226.6 193.7,227.1 194.5,227.5 195.3,227.9 196.1,228.4 196.9,228.8 197.7,229.2 198.5,229.5 199.3,229.7 200.1,229.8 200.9,229.7 201.7,229.4 202.5,229.0 203.3,228.6 204.1,228.1 204.8,227.5 205.6,226.7 206.4,225.8 207.2,224.8 208.0,223.9 208.8,223.0 209.6,222.1 210.4,221.2 211.2,220.2 212.0,219.3 212.8,218.4 213.6,217.6 214.4,217.0 215.2,216.7 216.0,216.3 216.8,216.0 217.6,215.8 218.4,215.7" fill="none" stroke="#e8282a" stroke-width="1.3" stroke-linejoin="round" stroke-linecap="round" opacity="1.0"/>
<polyline points="163.4,214.8 164.2,214.4 165.0,214.2 165.8,213.9 166.6,213.8 167.4,213.7 168.2,213.6 169.0,213.5 169.8,213.5 170.6,213.4 171.4,213.4 172.2,213.4 173.0,213.5 173.8,213.6 174.6,213.9 175.4,214.2 176.2,214.6 177.0,215.0 177.7,215.4 178.5,215.9 179.3,216.3 180.1,216.8 180.9,217.3 181.7,217.8 182.5,218.4 183.3,219.0 184.1,219.6 184.9,220.2 185.7,220.8 186.5,221.4 187.3,222.0 188.1,222.6 188.9,223.2 189.7,223.7 190.5,224.3 191.3,224.9 192.1,225.5 192.9,226.0 193.7,226.5 194.5,226.9 195.3,227.3 196.1,227.8 196.9,228.2 197.7,228.6 198.5,228.9 199.3,229.1 200.1,229.2 200.9,229.1 201.7,228.8 202.5,228.4 203.3,228.0 204.1,227.5 204.8,226.9 205.6,226.1 206.4,225.2 207.2,224.2 208.0,223.3 208.8,222.4 209.6,221.5 210.4,220.6 211.2,219.6 212.0,218.7 212.8,217.8 213.6,217.0 214.4,216.4 215.2,216.1 216.0,215.7 216.8,215.4 217.6,215.2 218.4,215.1" fill="none" stroke="#3232e0" stroke-width="1.3" stroke-linejoin="round" stroke-linecap="round" opacity="1.0"/>
<polyline points="218.4,215.7 219.2,215.8 220.0,216.0 220.8,216.3 221.6,216.7 222.4,217.0 223.2,217.6 224.0,218.4 224.8,219.3 225.6,220.2 226.4,221.2 227.2,222.1 228.0,223.0 228.8,223.9 229.6,224.8 230.4,225.8 231.2,226.7 232.0,227.5 232.7,228.1 233.5,228.6 234.3,229.0 235.1,229.4 235.9,229.7 236.7,229.8 237.5,229.7 238.3,229.5 239.1,229.2 239.9,228.8 240.7,228.4 241.5,227.9 242.3,227.5 243.1,227.1 243.9,226.6 244.7,226.1 245.5,225.5 246.3,224.9 247.1,224.4 247.9,223.8 248.7,223.2 249.5,222.6 250.3,222.0 251.1,221.4 251.9,220.8 252.7,220.2 253.5,219.6 254.3,219.0 255.1,218.4 255.9,217.9 256.7,217.4 257.5,217.0 258.3,216.5 259.1,216.0 259.8,215.6 260.6,215.2 261.4,214.8 262.2,214.5 263.0,214.2 263.8,214.1 264.6,214.0 265.4,214.0 266.2,214.0 267.0,214.1 267.8,214.1 268.6,214.2 269.4,214.3 270.2,214.4 271.0,214.6 271.8,214.8 272.6,215.0 273.4,215.4" fill="none" stroke="#3232e0" stroke-width="1.3" stroke-linejoin="round" stroke-linecap="round" opacity="1.0"/>
<polyline points="218.4,215.1 219.2,215.2 220.0,215.4 220.8,215.7 221.6,216.1 222.4,216.4 223.2,217.0 224.0,217.8 224.8,218.7 225.6,219.6 226.4,220.6 227.2,221.5 228.0,222.4 228.8,223.3 229.6,224.2 230.4,225.2 231.2,226.1 232.0,226.9 232.7,227.5 233.5,228.0 234.3,228.4 235.1,228.8 235.9,229.1 236.7,229.2 237.5,229.1 238.3,228.9 239.1,228.6 239.9,228.2 240.7,227.8 241.5,227.3 242.3,226.9 243.1,226.5 243.9,226.0 244.7,225.5 245.5,224.9 246.3,224.3 247.1,223.7 247.9,223.2 248.7,222.6 249.5,222.0 250.3,221.4 251.1,220.8 251.9,220.2 252.7,219.6 253.5,219.0 254.3,218.4 255.1,217.8 255.9,217.3 256.7,216.8 257.5,216.3 258.3,215.9 259.1,215.4 259.8,215.0 260.6,214.6 261.4,214.2 262.2,213.9 263.0,213.6 263.8,213.5 264.6,213.4 265.4,213.4 266.2,213.4 267.0,213.5 267.8,213.5 268.6,213.6 269.4,213.7 270.2,213.8 271.0,213.9 271.8,214.2 272.6,214.4 273.4,214.8" fill="none" stroke="#e8282a" stroke-width="1.3" stroke-linejoin="round" stroke-linecap="round" opacity="1.0"/>
</g>
<line x1="163.4" y1="200.0" x2="273.4" y2="200.0" stroke="#e0e0e0" stroke-width="0.9"/>
<line x1="163.4" y1="200.0" x2="163.4" y2="294.60" stroke="#d4d4d4" stroke-width="0.9"/>
<line x1="273.4" y1="200.0" x2="273.4" y2="294.60" stroke="#b0b0b0" stroke-width="1.1"/>
<line x1="163.4" y1="294.60" x2="273.4" y2="294.60" stroke="#a8a8a8" stroke-width="0.9"/>
<text x="161.5" y="201.90" text-anchor="end" font-family="Liberation Serif, serif" font-size="5.5" fill="#333">2.0</text>
<text x="161.5" y="220.82" text-anchor="end" font-family="Liberation Serif, serif" font-size="5.5" fill="#333">1.5</text>
<text x="161.5" y="239.74" text-anchor="end" font-family="Liberation Serif, serif" font-size="5.5" fill="#333">1.0</text>
<text x="161.5" y="258.66" text-anchor="end" font-family="Liberation Serif, serif" font-size="5.5" fill="#333">0.5</text>
<text transform="translate(150.6,248.81) rotate(-90)" text-anchor="middle" font-family="Liberation Serif, serif" font-size="5.4" fill="#222">E − E<tspan font-size="3.4" dy="1">F</tspan><tspan dy="-1"> (eV)</tspan></text>
<clipPath id="clip12"><rect x="301.3" y="200.0" width="110.0" height="94.60000000000002"/></clipPath>
<line x1="301.3" y1="218.92" x2="411.3" y2="218.92" stroke="#e4e4e4" stroke-width="0.8"/>
<line x1="301.3" y1="237.84" x2="411.3" y2="237.84" stroke="#e4e4e4" stroke-width="0.8"/>
<line x1="337.97" y1="200.0" x2="337.97" y2="294.60" stroke="#9a9a9a" stroke-width="0.8"/>
<line x1="374.63" y1="200.0" x2="374.63" y2="294.60" stroke="#9a9a9a" stroke-width="0.8"/>
<g clip-path="url(#clip12)">
<polyline points="301.3,200.2 302.1,200.4 302.9,200.5 303.7,200.7 304.5,200.8 305.3,201.0 306.1,201.1 306.9,201.3 307.7,201.5 308.5,201.6 309.3,201.8 310.1,202.0 310.9,202.2 311.7,202.3 312.5,202.5 313.3,202.8 314.1,203.0 314.9,203.3 315.6,203.6 316.4,203.8 317.2,204.1 318.0,204.4 318.8,204.7 319.6,204.9 320.4,205.1 321.2,205.3 322.0,205.4 322.8,205.5 323.6,205.5 324.4,205.5 325.2,205.5 326.0,205.5 326.8,205.5 327.6,205.4 328.4,205.4 329.2,205.4 330.0,205.4 330.8,205.3 331.6,205.3 332.4,205.2 333.2,205.2 334.0,205.1 334.8,205.1 335.6,205.0 336.4,204.9 337.2,204.8 338.0,204.8 338.8,204.7 339.6,204.6 340.4,204.6 341.2,204.5 342.0,204.4 342.7,204.4 343.5,204.3 344.3,204.2 345.1,204.0 345.9,203.9 346.7,203.6 347.5,203.3 348.3,202.9 349.1,202.5 349.9,202.1 350.7,201.7 351.5,201.3 352.3,201.0 353.1,200.7 353.9,200.4 354.7,200.1 355.5,199.9 356.3,199.8" fill="none" stroke="#e8282a" stroke-width="1.2" stroke-linejoin="round" stroke-linecap="round" opacity="1.0"/>
<polyline points="301.3,199.6 302.1,199.8 302.9,199.9 303.7,200.1 304.5,200.2 305.3,200.4 306.1,200.5 306.9,200.7 307.7,200.9 308.5,201.0 309.3,201.2 310.1,201.4 310.9,201.6 311.7,201.7 312.5,201.9 313.3,202.1 314.1,202.4 314.9,202.7 315.6,202.9 316.4,203.2 317.2,203.5 318.0,203.8 318.8,204.1 319.6,204.3 320.4,204.5 321.2,204.7 322.0,204.8 322.8,204.9 323.6,204.9 324.4,204.9 325.2,204.9 326.0,204.9 326.8,204.9 327.6,204.8 328.4,204.8 329.2,204.8 330.0,204.8 330.8,204.7 331.6,204.7 332.4,204.6 333.2,204.5 334.0,204.4 334.8,204.3 335.6,204.2 336.4,204.1 337.2,204.1 338.0,204.0 338.8,203.9 339.6,203.9 340.4,203.8 341.2,203.8 342.0,203.7 342.7,203.7 343.5,203.6 344.3,203.5 345.1,203.4 345.9,203.3 346.7,203.0 347.5,202.7 348.3,202.3 349.1,201.9 349.9,201.5 350.7,201.1 351.5,200.7 352.3,200.4 353.1,200.1 353.9,199.8 354.7,199.5 355.5,199.3 356.3,199.2" fill="none" stroke="#3232e0" stroke-width="1.2" stroke-linejoin="round" stroke-linecap="round" opacity="1.0"/>
<polyline points="356.3,199.8 357.1,199.9 357.9,200.1 358.7,200.4 359.5,200.7 360.3,201.0 361.1,201.3 361.9,201.7 362.7,202.1 363.5,202.5 364.3,202.9 365.1,203.3 365.9,203.6 366.7,203.9 367.5,204.0 368.3,204.2 369.1,204.3 369.9,204.4 370.6,204.4 371.4,204.5 372.2,204.6 373.0,204.6 373.8,204.7 374.6,204.8 375.4,204.8 376.2,204.9 377.0,205.0 377.8,205.1 378.6,205.1 379.4,205.2 380.2,205.2 381.0,205.3 381.8,205.3 382.6,205.4 383.4,205.4 384.2,205.4 385.0,205.4 385.8,205.5 386.6,205.5 387.4,205.5 388.2,205.5 389.0,205.5 389.8,205.5 390.6,205.4 391.4,205.3 392.2,205.1 393.0,204.9 393.8,204.7 394.6,204.4 395.4,204.1 396.2,203.8 397.0,203.6 397.7,203.3 398.5,203.0 399.3,202.8 400.1,202.5 400.9,202.3 401.7,202.2 402.5,202.0 403.3,201.8 404.1,201.6 404.9,201.5 405.7,201.3 406.5,201.1 407.3,201.0 408.1,200.8 408.9,200.7 409.7,200.5 410.5,200.4 411.3,200.2" fill="none" stroke="#3232e0" stroke-width="1.2" stroke-linejoin="round" stroke-linecap="round" opacity="1.0"/>
<polyline points="356.3,199.2 357.1,199.3 357.9,199.5 358.7,199.8 359.5,200.1 360.3,200.4 361.1,200.7 361.9,201.1 362.7,201.5 363.5,201.9 364.3,202.3 365.1,202.7 365.9,203.0 366.7,203.3 367.5,203.4 368.3,203.5 369.1,203.6 369.9,203.7 370.6,203.7 371.4,203.8 372.2,203.8 373.0,203.9 373.8,203.9 374.6,204.0 375.4,204.1 376.2,204.1 377.0,204.2 377.8,204.3 378.6,204.4 379.4,204.5 380.2,204.6 381.0,204.7 381.8,204.7 382.6,204.8 383.4,204.8 384.2,204.8 385.0,204.8 385.8,204.9 386.6,204.9 387.4,204.9 388.2,204.9 389.0,204.9 389.8,204.9 390.6,204.8 391.4,204.7 392.2,204.5 393.0,204.3 393.8,204.1 394.6,203.8 395.4,203.5 396.2,203.2 397.0,202.9 397.7,202.7 398.5,202.4 399.3,202.1 400.1,201.9 400.9,201.7 401.7,201.6 402.5,201.4 403.3,201.2 404.1,201.0 404.9,200.9 405.7,200.7 406.5,200.5 407.3,200.4 408.1,200.2 408.9,200.1 409.7,199.9 410.5,199.8 411.3,199.6" fill="none" stroke="#e8282a" stroke-width="1.2" stroke-linejoin="round" stroke-linecap="round" opacity="1.0"/>
<polyline points="316.0,196.1 316.8,197.2 317.6,198.3 318.4,199.4 319.2,200.5 320.0,201.6 320.8,202.7 321.6,203.8 322.4,205.0 323.2,206.1 324.0,207.2 324.8,208.3 325.6,209.4 326.5,210.5 327.3,211.6 328.1,212.8 328.9,214.0 329.7,215.2 330.5,216.4 331.3,217.6 332.1,218.7 332.9,219.7 333.7,220.5 334.5,221.2 335.3,221.8 336.1,222.4 336.9,222.9 337.7,223.1 338.6,223.1 339.4,222.8 340.2,222.4 341.0,221.9 341.8,221.5 342.6,221.1 343.4,220.7 344.2,220.2 345.0,219.7 345.8,219.2 346.6,218.7 347.4,218.3 348.2,217.9 349.0,217.6 349.8,217.3 350.7,217.0 351.5,216.7 352.3,216.5 353.1,216.2 353.9,216.0 354.7,215.9 355.5,215.8 356.3,215.7" fill="none" stroke="#e8282a" stroke-width="1.2" stroke-linejoin="round" stroke-linecap="round" opacity="1.0"/>
<polyline points="316.0,195.5 316.8,196.6 317.6,197.7 318.4,198.8 319.2,199.9 320.0,201.0 320.8,202.1 321.6,203.2 322.4,204.4 323.2,205.5 324.0,206.6 324.8,207.7 325.6,208.8 326.5,209.9 327.3,211.0 328.1,212.2 328.9,213.4 329.7,214.6 330.5,215.8 331.3,217.0 332.1,218.1 332.9,219.1 333.7,219.9 334.5,220.6 335.3,221.3 336.1,221.9 336.9,222.4 337.7,222.7 338.6,222.6 339.4,222.4 340.2,222.0 341.0,221.5 341.8,221.1 342.6,220.7 343.4,220.2 344.2,219.7 345.0,219.2 345.8,218.7 346.6,218.2 347.4,217.7 348.2,217.3 349.0,217.0 349.8,216.7 350.7,216.4 351.5,216.1 352.3,215.9 353.1,215.6 353.9,215.4 354.7,215.3 355.5,215.2 356.3,215.1" fill="none" stroke="#3232e0" stroke-width="1.2" stroke-linejoin="round" stroke-linecap="round" opacity="1.0"/>
<polyline points="356.3,215.7 357.1,215.8 357.9,215.9 358.7,216.0 359.5,216.2 360.3,216.5 361.1,216.7 361.9,217.0 362.8,217.3 363.6,217.6 364.4,217.9 365.2,218.3 366.0,218.7 366.8,219.2 367.6,219.7 368.4,220.2 369.2,220.7 370.0,221.1 370.8,221.5 371.6,221.9 372.4,222.4 373.2,222.8 374.0,223.1 374.9,223.1 375.7,222.9 376.5,222.4 377.3,221.8 378.1,221.2 378.9,220.5 379.7,219.7 380.5,218.7 381.3,217.6 382.1,216.4 382.9,215.2 383.7,214.0 384.5,212.8 385.3,211.6 386.1,210.5 387.0,209.4 387.8,208.3 388.6,207.2 389.4,206.1 390.2,205.0 391.0,203.8 391.8,202.7 392.6,201.6 393.4,200.5 394.2,199.4 395.0,198.3 395.8,197.2 396.6,196.1" fill="none" stroke="#3232e0" stroke-width="1.2" stroke-linejoin="round" stroke-linecap="round" opacity="1.0"/>
<polyline points="356.3,215.1 357.1,215.2 357.9,215.3 358.7,215.4 359.5,215.6 360.3,215.9 361.1,216.1 361.9,216.4 362.8,216.7 363.6,217.0 364.4,217.3 365.2,217.7 366.0,218.2 366.8,218.7 367.6,219.2 368.4,219.7 369.2,220.2 370.0,220.7 370.8,221.1 371.6,221.5 372.4,222.0 373.2,222.4 374.0,222.6 374.9,222.7 375.7,222.4 376.5,221.9 377.3,221.3 378.1,220.6 378.9,219.9 379.7,219.1 380.5,218.1 381.3,217.0 382.1,215.8 382.9,214.6 383.7,213.4 384.5,212.2 385.3,211.0 386.1,209.9 387.0,208.8 387.8,207.7 388.6,206.6 389.4,205.5 390.2,204.4 391.0,203.2 391.8,202.1 392.6,201.0 393.4,199.9 394.2,198.8 395.0,197.7 395.8,196.6 396.6,195.5" fill="none" stroke="#e8282a" stroke-width="1.2" stroke-linejoin="round" stroke-linecap="round" opacity="1.0"/>
<polyline points="301.3,215.7 302.1,215.4 302.9,215.2 303.7,215.0 304.5,214.8 305.3,214.7 306.1,214.6 306.9,214.5 307.7,214.5 308.5,214.4 309.3,214.4 310.1,214.4 310.9,214.5 311.7,214.6 312.5,214.8 313.3,215.0 314.1,215.3 314.9,215.7 315.6,216.0 316.4,216.3 317.2,216.7 318.0,217.0 318.8,217.3 319.6,217.6 320.4,218.0 321.2,218.3 322.0,218.7 322.8,219.1 323.6,219.4 324.4,219.8 325.2,220.1 326.0,220.4 326.8,220.6 327.6,220.8 328.4,221.0 329.2,221.2 330.0,221.3 330.8,221.5 331.6,221.6 332.4,221.8 333.2,221.9 334.0,222.1 334.8,222.2 335.6,222.4 336.4,222.6 337.2,222.7 338.0,222.7 338.8,222.7 339.6,222.5 340.4,222.3 341.2,222.0 342.0,221.7 342.7,221.5 343.5,221.2 344.3,220.9 345.1,220.6 345.9,220.2 346.7,219.9 347.5,219.5 348.3,219.1 349.1,218.7 349.9,218.2 350.7,217.6 351.5,217.0 352.3,216.5 353.1,216.2 353.9,216.0 354.7,215.9 355.5,215.8 356.3,215.7" fill="none" stroke="#e8282a" stroke-width="1.2" stroke-linejoin="round" stroke-linecap="round" opacity="1.0"/>
<polyline points="301.3,215.1 302.1,214.8 302.9,214.6 303.7,214.4 304.5,214.2 305.3,214.1 306.1,214.0 306.9,213.9 307.7,213.9 308.5,213.8 309.3,213.8 310.1,213.8 310.9,213.9 311.7,214.0 312.5,214.2 313.3,214.4 314.1,214.7 314.9,215.1 315.6,215.4 316.4,215.7 317.2,216.1 318.0,216.4 318.8,216.7 319.6,217.0 320.4,217.4 321.2,217.8 322.0,218.2 322.8,218.6 323.6,219.0 324.4,219.3 325.2,219.6 326.0,219.8 326.8,220.0 327.6,220.2 328.4,220.3 329.2,220.4 330.0,220.4 330.8,220.5 331.6,220.6 332.4,220.7 333.2,220.8 334.0,220.9 334.8,221.0 335.6,221.2 336.4,221.4 337.2,221.5 338.0,221.6 338.8,221.5 339.6,221.3 340.4,221.1 341.2,220.8 342.0,220.6 342.7,220.3 343.5,220.1 344.3,219.8 345.1,219.6 345.9,219.3 346.7,219.1 347.5,218.8 348.3,218.4 349.1,218.1 349.9,217.6 350.7,217.0 351.5,216.5 352.3,215.9 353.1,215.6 353.9,215.4 354.7,215.3 355.5,215.2 356.3,215.1" fill="none" stroke="#3232e0" stroke-width="1.2" stroke-linejoin="round" stroke-linecap="round" opacity="1.0"/>
<polyline points="356.3,215.7 357.1,215.8 357.9,215.9 358.7,216.0 359.5,216.2 360.3,216.5 361.1,217.0 361.9,217.6 362.7,218.2 363.5,218.7 364.3,219.1 365.1,219.5 365.9,219.9 366.7,220.2 367.5,220.6 368.3,220.9 369.1,221.2 369.9,221.5 370.6,221.7 371.4,222.0 372.2,222.3 373.0,222.5 373.8,222.7 374.6,222.7 375.4,222.7 376.2,222.6 377.0,222.4 377.8,222.2 378.6,222.1 379.4,221.9 380.2,221.8 381.0,221.6 381.8,221.5 382.6,221.3 383.4,221.2 384.2,221.0 385.0,220.8 385.8,220.6 386.6,220.4 387.4,220.1 388.2,219.8 389.0,219.4 389.8,219.1 390.6,218.7 391.4,218.3 392.2,218.0 393.0,217.6 393.8,217.3 394.6,217.0 395.4,216.7 396.2,216.3 397.0,216.0 397.7,215.7 398.5,215.3 399.3,215.0 400.1,214.8 400.9,214.6 401.7,214.5 402.5,214.4 403.3,214.4 404.1,214.4 404.9,214.5 405.7,214.5 406.5,214.6 407.3,214.7 408.1,214.8 408.9,215.0 409.7,215.2 410.5,215.4 411.3,215.7" fill="none" stroke="#3232e0" stroke-width="1.2" stroke-linejoin="round" stroke-linecap="round" opacity="1.0"/>
<polyline points="356.3,215.1 357.1,215.2 357.9,215.3 358.7,215.4 359.5,215.6 360.3,215.9 361.1,216.5 361.9,217.0 362.7,217.6 363.5,218.1 364.3,218.4 365.1,218.8 365.9,219.1 366.7,219.3 367.5,219.6 368.3,219.8 369.1,220.1 369.9,220.3 370.6,220.6 371.4,220.8 372.2,221.1 373.0,221.3 373.8,221.5 374.6,221.6 375.4,221.5 376.2,221.4 377.0,221.2 377.8,221.0 378.6,220.9 379.4,220.8 380.2,220.7 381.0,220.6 381.8,220.5 382.6,220.4 383.4,220.4 384.2,220.3 385.0,220.2 385.8,220.0 386.6,219.8 387.4,219.6 388.2,219.3 389.0,219.0 389.8,218.6 390.6,218.2 391.4,217.8 392.2,217.4 393.0,217.0 393.8,216.7 394.6,216.4 395.4,216.1 396.2,215.7 397.0,215.4 397.7,215.1 398.5,214.7 399.3,214.4 400.1,214.2 400.9,214.0 401.7,213.9 402.5,213.8 403.3,213.8 404.1,213.8 404.9,213.9 405.7,213.9 406.5,214.0 407.3,214.1 408.1,214.2 408.9,214.4 409.7,214.6 410.5,214.8 411.3,215.1" fill="none" stroke="#e8282a" stroke-width="1.2" stroke-linejoin="round" stroke-linecap="round" opacity="1.0"/>
<polyline points="301.3,215.4 302.1,215.0 302.9,214.8 303.7,214.6 304.5,214.4 305.3,214.3 306.1,214.2 306.9,214.1 307.7,214.1 308.5,214.0 309.3,214.0 310.1,214.0 310.9,214.1 311.7,214.2 312.5,214.5 313.3,214.8 314.1,215.2 314.9,215.6 315.6,216.0 316.4,216.5 317.2,217.0 318.0,217.4 318.8,217.9 319.6,218.4 320.4,219.0 321.2,219.6 322.0,220.2 322.8,220.8 323.6,221.4 324.4,222.0 325.2,222.6 326.0,223.2 326.8,223.8 327.6,224.4 328.4,224.9 329.2,225.5 330.0,226.1 330.8,226.6 331.6,227.1 332.4,227.5 333.2,227.9 334.0,228.4 334.8,228.8 335.6,229.2 336.4,229.5 337.2,229.7 338.0,229.8 338.8,229.7 339.6,229.4 340.4,229.0 341.2,228.6 342.0,228.1 342.7,227.5 343.5,226.7 344.3,225.8 345.1,224.8 345.9,223.9 346.7,223.0 347.5,222.1 348.3,221.2 349.1,220.2 349.9,219.3 350.7,218.4 351.5,217.6 352.3,217.0 353.1,216.7 353.9,216.3 354.7,216.0 355.5,215.8 356.3,215.7" fill="none" stroke="#e8282a" stroke-width="1.3" stroke-linejoin="round" stroke-linecap="round" opacity="1.0"/>
<polyline points="301.3,214.8 302.1,214.4 302.9,214.2 303.7,213.9 304.5,213.8 305.3,213.7 306.1,213.6 306.9,213.5 307.7,213.5 308.5,213.4 309.3,213.4 310.1,213.4 310.9,213.5 311.7,213.6 312.5,213.9 313.3,214.2 314.1,214.6 314.9,215.0 315.6,215.4 316.4,215.9 317.2,216.3 318.0,216.8 318.8,217.3 319.6,217.8 320.4,218.4 321.2,219.0 322.0,219.6 322.8,220.2 323.6,220.8 324.4,221.4 325.2,222.0 326.0,222.6 326.8,223.2 327.6,223.7 328.4,224.3 329.2,224.9 330.0,225.5 330.8,226.0 331.6,226.5 332.4,226.9 333.2,227.3 334.0,227.8 334.8,228.2 335.6,228.6 336.4,228.9 337.2,229.1 338.0,229.2 338.8,229.1 339.6,228.8 340.4,228.4 341.2,228.0 342.0,227.5 342.7,226.9 343.5,226.1 344.3,225.2 345.1,224.2 345.9,223.3 346.7,222.4 347.5,221.5 348.3,220.6 349.1,219.6 349.9,218.7 350.7,217.8 351.5,217.0 352.3,216.4 353.1,216.1 353.9,215.7 354.7,215.4 355.5,215.2 356.3,215.1" fill="none" stroke="#3232e0" stroke-width="1.3" stroke-linejoin="round" stroke-linecap="round" opacity="1.0"/>
<polyline points="356.3,215.7 357.1,215.8 357.9,216.0 358.7,216.3 359.5,216.7 360.3,217.0 361.1,217.6 361.9,218.4 362.7,219.3 363.5,220.2 364.3,221.2 365.1,222.1 365.9,223.0 366.7,223.9 367.5,224.8 368.3,225.8 369.1,226.7 369.9,227.5 370.6,228.1 371.4,228.6 372.2,229.0 373.0,229.4 373.8,229.7 374.6,229.8 375.4,229.7 376.2,229.5 377.0,229.2 377.8,228.8 378.6,228.4 379.4,227.9 380.2,227.5 381.0,227.1 381.8,226.6 382.6,226.1 383.4,225.5 384.2,224.9 385.0,224.4 385.8,223.8 386.6,223.2 387.4,222.6 388.2,222.0 389.0,221.4 389.8,220.8 390.6,220.2 391.4,219.6 392.2,219.0 393.0,218.4 393.8,217.9 394.6,217.4 395.4,217.0 396.2,216.5 397.0,216.0 397.7,215.6 398.5,215.2 399.3,214.8 400.1,214.5 400.9,214.2 401.7,214.1 402.5,214.0 403.3,214.0 404.1,214.0 404.9,214.1 405.7,214.1 406.5,214.2 407.3,214.3 408.1,214.4 408.9,214.6 409.7,214.8 410.5,215.0 411.3,215.4" fill="none" stroke="#3232e0" stroke-width="1.3" stroke-linejoin="round" stroke-linecap="round" opacity="1.0"/>
<polyline points="356.3,215.1 357.1,215.2 357.9,215.4 358.7,215.7 359.5,216.1 360.3,216.4 361.1,217.0 361.9,217.8 362.7,218.7 363.5,219.6 364.3,220.6 365.1,221.5 365.9,222.4 366.7,223.3 367.5,224.2 368.3,225.2 369.1,226.1 369.9,226.9 370.6,227.5 371.4,228.0 372.2,228.4 373.0,228.8 373.8,229.1 374.6,229.2 375.4,229.1 376.2,228.9 377.0,228.6 377.8,228.2 378.6,227.8 379.4,227.3 380.2,226.9 381.0,226.5 381.8,226.0 382.6,225.5 383.4,224.9 384.2,224.3 385.0,223.7 385.8,223.2 386.6,222.6 387.4,222.0 388.2,221.4 389.0,220.8 389.8,220.2 390.6,219.6 391.4,219.0 392.2,218.4 393.0,217.8 393.8,217.3 394.6,216.8 395.4,216.3 396.2,215.9 397.0,215.4 397.7,215.0 398.5,214.6 399.3,214.2 400.1,213.9 400.9,213.6 401.7,213.5 402.5,213.4 403.3,213.4 404.1,213.4 404.9,213.5 405.7,213.5 406.5,213.6 407.3,213.7 408.1,213.8 408.9,213.9 409.7,214.2 410.5,214.4 411.3,214.8" fill="none" stroke="#e8282a" stroke-width="1.3" stroke-linejoin="round" stroke-linecap="round" opacity="1.0"/>
</g>
<line x1="301.3" y1="200.0" x2="411.3" y2="200.0" stroke="#e0e0e0" stroke-width="0.9"/>
<line x1="301.3" y1="200.0" x2="301.3" y2="294.60" stroke="#d4d4d4" stroke-width="0.9"/>
<line x1="411.3" y1="200.0" x2="411.3" y2="294.60" stroke="#b0b0b0" stroke-width="1.1"/>
<line x1="301.3" y1="294.60" x2="411.3" y2="294.60" stroke="#a8a8a8" stroke-width="0.9"/>
<text x="299.40000000000003" y="201.90" text-anchor="end" font-family="Liberation Serif, serif" font-size="5.5" fill="#333">2.0</text>
<text x="299.40000000000003" y="220.82" text-anchor="end" font-family="Liberation Serif, serif" font-size="5.5" fill="#333">1.5</text>
<text x="299.40000000000003" y="239.74" text-anchor="end" font-family="Liberation Serif, serif" font-size="5.5" fill="#333">1.0</text>
<text x="299.40000000000003" y="258.66" text-anchor="end" font-family="Liberation Serif, serif" font-size="5.5" fill="#333">0.5</text>
<text transform="translate(288.5,248.81) rotate(-90)" text-anchor="middle" font-family="Liberation Serif, serif" font-size="5.4" fill="#222">E − E<tspan font-size="3.4" dy="1">F</tspan><tspan dy="-1"> (eV)</tspan></text>
<rect x="43.6" y="119.2" width="78.0" height="21.799999999999997" fill="#fff"/>
<path d="M57.1,106.5 L105.9,106.5 L105.9,93.3 L57.1,93.3 Z" fill="none" stroke="#1fa5e3" stroke-width="1.5" stroke-dasharray="4.8 4.6"/>
<line x1="81.5" y1="106.5" x2="81.5" y2="113.60000000000001" stroke="#1fa5e3" stroke-width="1.8"/>
<polygon points="78.6,113.00000000000001 84.4,113.00000000000001 81.5,118.60000000000001" fill="#1fa5e3"/>
<rect x="177.6" y="119.2" width="80.4" height="21.799999999999997" fill="#fff"/>
<path d="M192.1,106.5 L241.2,106.5 L241.2,93.3 L192.1,93.3 Z" fill="none" stroke="#1fa5e3" stroke-width="1.5" stroke-dasharray="4.8 4.6"/>
<line x1="217.6" y1="106.5" x2="217.6" y2="113.60000000000001" stroke="#1fa5e3" stroke-width="1.8"/>
<polygon points="214.7,113.00000000000001 220.5,113.00000000000001 217.6,118.60000000000001" fill="#1fa5e3"/>
<rect x="312.9" y="119.2" width="80.60000000000002" height="21.799999999999997" fill="#fff"/>
<path d="M327.4,106.5 L375.9,106.5 L375.9,93.3 L327.4,93.3 Z" fill="none" stroke="#1fa5e3" stroke-width="1.5" stroke-dasharray="4.8 4.6"/>
<line x1="352.4" y1="106.5" x2="352.4" y2="113.60000000000001" stroke="#1fa5e3" stroke-width="1.8"/>
<polygon points="349.5,113.00000000000001 355.29999999999995,113.00000000000001 352.4,118.60000000000001" fill="#1fa5e3"/>
<rect x="43.6" y="252.45" width="78.0" height="20.55000000000001" fill="#fff"/>
<path d="M57.1,238.7 L105.9,238.7 L105.9,225.2 L57.1,225.2 Z" fill="none" stroke="#1fa5e3" stroke-width="1.5" stroke-dasharray="4.8 4.6"/>
<line x1="82.5" y1="238.7" x2="82.5" y2="247.3" stroke="#1fa5e3" stroke-width="1.8"/>
<polygon points="79.6,246.70000000000002 85.4,246.70000000000002 82.5,252.3" fill="#1fa5e3"/>
<rect x="177.6" y="252.45" width="80.4" height="20.55000000000001" fill="#fff"/>
<path d="M192.1,238.7 L241.2,238.7 L241.2,225.2 L192.1,225.2 Z" fill="none" stroke="#1fa5e3" stroke-width="1.5" stroke-dasharray="4.8 4.6"/>
<line x1="218.6" y1="238.7" x2="218.6" y2="247.3" stroke="#1fa5e3" stroke-width="1.8"/>
<polygon points="215.7,246.70000000000002 221.5,246.70000000000002 218.6,252.3" fill="#1fa5e3"/>
<rect x="312.9" y="252.45" width="80.60000000000002" height="20.55000000000001" fill="#fff"/>
<path d="M327.4,238.7 L375.9,238.7 L375.9,225.2 L327.4,225.2 Z" fill="none" stroke="#1fa5e3" stroke-width="1.5" stroke-dasharray="4.8 4.6"/>
<line x1="353.4" y1="238.7" x2="353.4" y2="247.3" stroke="#1fa5e3" stroke-width="1.8"/>
<polygon points="350.5,246.70000000000002 356.29999999999995,246.70000000000002 353.4,252.3" fill="#1fa5e3"/>
<line x1="56.4" y1="119.2" x2="56.4" y2="141.0" stroke="#8a8a8a" stroke-width="0.7"/>
<line x1="45.80" y1="120.00" x2="46.15" y2="120.62" stroke="#3232e0" stroke-width="1.9" stroke-linecap="round"/>
<line x1="46.15" y1="120.62" x2="46.51" y2="121.21" stroke="#3232e0" stroke-width="1.9" stroke-linecap="round"/>
<line x1="46.51" y1="121.21" x2="46.86" y2="121.79" stroke="#3232e0" stroke-width="1.9" stroke-linecap="round"/>
<line x1="46.86" y1="121.79" x2="47.21" y2="122.34" stroke="#3232e0" stroke-width="1.9" stroke-linecap="round"/>
<line x1="47.21" y1="122.34" x2="47.57" y2="122.87" stroke="#3232e0" stroke-width="1.9" stroke-linecap="round"/>
<line x1="47.57" y1="122.87" x2="47.92" y2="123.38" stroke="#3232e0" stroke-width="1.9" stroke-linecap="round"/>
<line x1="47.92" y1="123.38" x2="48.27" y2="123.87" stroke="#3232e0" stroke-width="1.9" stroke-linecap="round"/>
<line x1="48.27" y1="123.87" x2="48.63" y2="124.34" stroke="#3232e0" stroke-width="1.9" stroke-linecap="round"/>
<line x1="48.63" y1="124.34" x2="48.98" y2="124.79" stroke="#3232e0" stroke-width="1.9" stroke-linecap="round"/>
<line x1="48.98" y1="124.79" x2="49.33" y2="125.22" stroke="#3232e0" stroke-width="1.9" stroke-linecap="round"/>
<line x1="49.33" y1="125.22" x2="49.69" y2="125.63" stroke="#3232e0" stroke-width="1.9" stroke-linecap="round"/>
<line x1="49.69" y1="125.63" x2="50.04" y2="126.02" stroke="#3232e0" stroke-width="1.9" stroke-linecap="round"/>
<line x1="50.04" y1="126.02" x2="50.39" y2="126.38" stroke="#3232e0" stroke-width="1.9" stroke-linecap="round"/>
<line x1="50.39" y1="126.38" x2="50.75" y2="126.73" stroke="#3232e0" stroke-width="1.9" stroke-linecap="round"/>
<line x1="50.75" y1="126.73" x2="51.10" y2="127.05" stroke="#3232e0" stroke-width="1.9" stroke-linecap="round"/>
<line x1="51.10" y1="127.05" x2="51.45" y2="127.35" stroke="#3232e0" stroke-width="1.9" stroke-linecap="round"/>
<line x1="51.45" y1="127.35" x2="51.81" y2="127.63" stroke="#3232e0" stroke-width="1.9" stroke-linecap="round"/>
<line x1="51.81" y1="127.63" x2="52.16" y2="127.90" stroke="#e8282a" stroke-width="1.9" stroke-linecap="round"/>
<line x1="52.16" y1="127.90" x2="52.51" y2="128.14" stroke="#e8282a" stroke-width="1.9" stroke-linecap="round"/>
<line x1="52.51" y1="128.14" x2="52.87" y2="128.36" stroke="#e8282a" stroke-width="1.9" stroke-linecap="round"/>
<line x1="52.87" y1="128.36" x2="53.22" y2="128.55" stroke="#e8282a" stroke-width="1.9" stroke-linecap="round"/>
<line x1="53.22" y1="128.55" x2="53.57" y2="128.73" stroke="#e8282a" stroke-width="1.9" stroke-linecap="round"/>
<line x1="53.57" y1="128.73" x2="53.93" y2="128.89" stroke="#e8282a" stroke-width="1.9" stroke-linecap="round"/>
<line x1="53.93" y1="128.89" x2="54.28" y2="129.02" stroke="#e8282a" stroke-width="1.9" stroke-linecap="round"/>
<line x1="54.28" y1="129.02" x2="54.63" y2="129.14" stroke="#e8282a" stroke-width="1.9" stroke-linecap="round"/>
<line x1="54.63" y1="129.14" x2="54.99" y2="129.23" stroke="#e8282a" stroke-width="1.9" stroke-linecap="round"/>
<line x1="54.99" y1="129.23" x2="55.34" y2="129.31" stroke="#e8282a" stroke-width="1.9" stroke-linecap="round"/>
<line x1="55.34" y1="129.31" x2="55.69" y2="129.36" stroke="#e8282a" stroke-width="1.9" stroke-linecap="round"/>
<line x1="55.69" y1="129.36" x2="56.05" y2="129.39" stroke="#e8282a" stroke-width="1.9" stroke-linecap="round"/>
<line x1="56.05" y1="129.39" x2="56.40" y2="129.40" stroke="#e8282a" stroke-width="1.9" stroke-linecap="round"/>
<line x1="56.40" y1="129.40" x2="56.75" y2="129.39" stroke="#e8282a" stroke-width="1.9" stroke-linecap="round"/>
<line x1="56.75" y1="129.39" x2="57.11" y2="129.36" stroke="#e8282a" stroke-width="1.9" stroke-linecap="round"/>
<line x1="57.11" y1="129.36" x2="57.46" y2="129.31" stroke="#e8282a" stroke-width="1.9" stroke-linecap="round"/>
<line x1="57.46" y1="129.31" x2="57.81" y2="129.23" stroke="#e8282a" stroke-width="1.9" stroke-linecap="round"/>
<line x1="57.81" y1="129.23" x2="58.17" y2="129.14" stroke="#e8282a" stroke-width="1.9" stroke-linecap="round"/>
<line x1="58.17" y1="129.14" x2="58.52" y2="129.02" stroke="#e8282a" stroke-width="1.9" stroke-linecap="round"/>
<line x1="58.52" y1="129.02" x2="58.87" y2="128.89" stroke="#e8282a" stroke-width="1.9" stroke-linecap="round"/>
<line x1="58.87" y1="128.89" x2="59.23" y2="128.73" stroke="#e8282a" stroke-width="1.9" stroke-linecap="round"/>
<line x1="59.23" y1="128.73" x2="59.58" y2="128.55" stroke="#e8282a" stroke-width="1.9" stroke-linecap="round"/>
<line x1="59.58" y1="128.55" x2="59.93" y2="128.36" stroke="#e8282a" stroke-width="1.9" stroke-linecap="round"/>
<line x1="59.93" y1="128.36" x2="60.29" y2="128.14" stroke="#e8282a" stroke-width="1.9" stroke-linecap="round"/>
<line x1="60.29" y1="128.14" x2="60.64" y2="127.90" stroke="#e8282a" stroke-width="1.9" stroke-linecap="round"/>
<line x1="60.64" y1="127.90" x2="60.99" y2="127.63" stroke="#e8282a" stroke-width="1.9" stroke-linecap="round"/>
<line x1="60.99" y1="127.63" x2="61.35" y2="127.35" stroke="#3232e0" stroke-width="1.9" stroke-linecap="round"/>
<line x1="61.35" y1="127.35" x2="61.70" y2="127.05" stroke="#3232e0" stroke-width="1.9" stroke-linecap="round"/>
<line x1="61.70" y1="127.05" x2="62.05" y2="126.73" stroke="#3232e0" stroke-width="1.9" stroke-linecap="round"/>
<line x1="62.05" y1="126.73" x2="62.41" y2="126.38" stroke="#3232e0" stroke-width="1.9" stroke-linecap="round"/>
<line x1="62.41" y1="126.38" x2="62.76" y2="126.02" stroke="#3232e0" stroke-width="1.9" stroke-linecap="round"/>
<line x1="62.76" y1="126.02" x2="63.11" y2="125.63" stroke="#3232e0" stroke-width="1.9" stroke-linecap="round"/>
<line x1="63.11" y1="125.63" x2="63.47" y2="125.22" stroke="#3232e0" stroke-width="1.9" stroke-linecap="round"/>
<line x1="63.47" y1="125.22" x2="63.82" y2="124.79" stroke="#3232e0" stroke-width="1.9" stroke-linecap="round"/>
<line x1="63.82" y1="124.79" x2="64.17" y2="124.34" stroke="#3232e0" stroke-width="1.9" stroke-linecap="round"/>
<line x1="64.17" y1="124.34" x2="64.53" y2="123.87" stroke="#3232e0" stroke-width="1.9" stroke-linecap="round"/>
<line x1="64.53" y1="123.87" x2="64.88" y2="123.38" stroke="#3232e0" stroke-width="1.9" stroke-linecap="round"/>
<line x1="64.88" y1="123.38" x2="65.23" y2="122.87" stroke="#3232e0" stroke-width="1.9" stroke-linecap="round"/>
<line x1="65.23" y1="122.87" x2="65.59" y2="122.34" stroke="#3232e0" stroke-width="1.9" stroke-linecap="round"/>
<line x1="65.59" y1="122.34" x2="65.94" y2="121.79" stroke="#3232e0" stroke-width="1.9" stroke-linecap="round"/>
<line x1="65.94" y1="121.79" x2="66.29" y2="121.21" stroke="#3232e0" stroke-width="1.9" stroke-linecap="round"/>
<line x1="66.29" y1="121.21" x2="66.65" y2="120.62" stroke="#3232e0" stroke-width="1.9" stroke-linecap="round"/>
<line x1="66.65" y1="120.62" x2="67.00" y2="120.00" stroke="#3232e0" stroke-width="1.9" stroke-linecap="round"/>
<text x="57.199999999999996" y="140.3" font-family="Liberation Serif, serif" font-size="10" fill="#111">K</text>
<line x1="108.3" y1="119.2" x2="108.3" y2="141.0" stroke="#8a8a8a" stroke-width="0.7"/>
<line x1="97.70" y1="120.00" x2="98.05" y2="120.62" stroke="#e8282a" stroke-width="1.9" stroke-linecap="round"/>
<line x1="98.05" y1="120.62" x2="98.41" y2="121.21" stroke="#e8282a" stroke-width="1.9" stroke-linecap="round"/>
<line x1="98.41" y1="121.21" x2="98.76" y2="121.79" stroke="#e8282a" stroke-width="1.9" stroke-linecap="round"/>
<line x1="98.76" y1="121.79" x2="99.11" y2="122.34" stroke="#e8282a" stroke-width="1.9" stroke-linecap="round"/>
<line x1="99.11" y1="122.34" x2="99.47" y2="122.87" stroke="#e8282a" stroke-width="1.9" stroke-linecap="round"/>
<line x1="99.47" y1="122.87" x2="99.82" y2="123.38" stroke="#e8282a" stroke-width="1.9" stroke-linecap="round"/>
<line x1="99.82" y1="123.38" x2="100.17" y2="123.87" stroke="#e8282a" stroke-width="1.9" stroke-linecap="round"/>
<line x1="100.17" y1="123.87" x2="100.53" y2="124.34" stroke="#e8282a" stroke-width="1.9" stroke-linecap="round"/>
<line x1="100.53" y1="124.34" x2="100.88" y2="124.79" stroke="#e8282a" stroke-width="1.9" stroke-linecap="round"/>
<line x1="100.88" y1="124.79" x2="101.23" y2="125.22" stroke="#e8282a" stroke-width="1.9" stroke-linecap="round"/>
<line x1="101.23" y1="125.22" x2="101.59" y2="125.63" stroke="#e8282a" stroke-width="1.9" stroke-linecap="round"/>
<line x1="101.59" y1="125.63" x2="101.94" y2="126.02" stroke="#e8282a" stroke-width="1.9" stroke-linecap="round"/>
<line x1="101.94" y1="126.02" x2="102.29" y2="126.38" stroke="#e8282a" stroke-width="1.9" stroke-linecap="round"/>
<line x1="102.29" y1="126.38" x2="102.65" y2="126.73" stroke="#e8282a" stroke-width="1.9" stroke-linecap="round"/>
<line x1="102.65" y1="126.73" x2="103.00" y2="127.05" stroke="#e8282a" stroke-width="1.9" stroke-linecap="round"/>
<line x1="103.00" y1="127.05" x2="103.35" y2="127.35" stroke="#e8282a" stroke-width="1.9" stroke-linecap="round"/>
<line x1="103.35" y1="127.35" x2="103.71" y2="127.63" stroke="#3232e0" stroke-width="1.9" stroke-linecap="round"/>
<line x1="103.71" y1="127.63" x2="104.06" y2="127.90" stroke="#3232e0" stroke-width="1.9" stroke-linecap="round"/>
<line x1="104.06" y1="127.90" x2="104.41" y2="128.14" stroke="#3232e0" stroke-width="1.9" stroke-linecap="round"/>
<line x1="104.41" y1="128.14" x2="104.77" y2="128.36" stroke="#3232e0" stroke-width="1.9" stroke-linecap="round"/>
<line x1="104.77" y1="128.36" x2="105.12" y2="128.55" stroke="#3232e0" stroke-width="1.9" stroke-linecap="round"/>
<line x1="105.12" y1="128.55" x2="105.47" y2="128.73" stroke="#3232e0" stroke-width="1.9" stroke-linecap="round"/>
<line x1="105.47" y1="128.73" x2="105.83" y2="128.89" stroke="#3232e0" stroke-width="1.9" stroke-linecap="round"/>
<line x1="105.83" y1="128.89" x2="106.18" y2="129.02" stroke="#3232e0" stroke-width="1.9" stroke-linecap="round"/>
<line x1="106.18" y1="129.02" x2="106.53" y2="129.14" stroke="#3232e0" stroke-width="1.9" stroke-linecap="round"/>
<line x1="106.53" y1="129.14" x2="106.89" y2="129.23" stroke="#3232e0" stroke-width="1.9" stroke-linecap="round"/>
<line x1="106.89" y1="129.23" x2="107.24" y2="129.31" stroke="#3232e0" stroke-width="1.9" stroke-linecap="round"/>
<line x1="107.24" y1="129.31" x2="107.59" y2="129.36" stroke="#3232e0" stroke-width="1.9" stroke-linecap="round"/>
<line x1="107.59" y1="129.36" x2="107.95" y2="129.39" stroke="#3232e0" stroke-width="1.9" stroke-linecap="round"/>
<line x1="107.95" y1="129.39" x2="108.30" y2="129.40" stroke="#3232e0" stroke-width="1.9" stroke-linecap="round"/>
<line x1="108.30" y1="129.40" x2="108.65" y2="129.39" stroke="#3232e0" stroke-width="1.9" stroke-linecap="round"/>
<line x1="108.65" y1="129.39" x2="109.01" y2="129.36" stroke="#3232e0" stroke-width="1.9" stroke-linecap="round"/>
<line x1="109.01" y1="129.36" x2="109.36" y2="129.31" stroke="#3232e0" stroke-width="1.9" stroke-linecap="round"/>
<line x1="109.36" y1="129.31" x2="109.71" y2="129.23" stroke="#3232e0" stroke-width="1.9" stroke-linecap="round"/>
<line x1="109.71" y1="129.23" x2="110.07" y2="129.14" stroke="#3232e0" stroke-width="1.9" stroke-linecap="round"/>
<line x1="110.07" y1="129.14" x2="110.42" y2="129.02" stroke="#3232e0" stroke-width="1.9" stroke-linecap="round"/>
<line x1="110.42" y1="129.02" x2="110.77" y2="128.89" stroke="#3232e0" stroke-width="1.9" stroke-linecap="round"/>
<line x1="110.77" y1="128.89" x2="111.13" y2="128.73" stroke="#3232e0" stroke-width="1.9" stroke-linecap="round"/>
<line x1="111.13" y1="128.73" x2="111.48" y2="128.55" stroke="#3232e0" stroke-width="1.9" stroke-linecap="round"/>
<line x1="111.48" y1="128.55" x2="111.83" y2="128.36" stroke="#3232e0" stroke-width="1.9" stroke-linecap="round"/>
<line x1="111.83" y1="128.36" x2="112.19" y2="128.14" stroke="#3232e0" stroke-width="1.9" stroke-linecap="round"/>
<line x1="112.19" y1="128.14" x2="112.54" y2="127.90" stroke="#3232e0" stroke-width="1.9" stroke-linecap="round"/>
<line x1="112.54" y1="127.90" x2="112.89" y2="127.63" stroke="#3232e0" stroke-width="1.9" stroke-linecap="round"/>
<line x1="112.89" y1="127.63" x2="113.25" y2="127.35" stroke="#3232e0" stroke-width="1.9" stroke-linecap="round"/>
<line x1="113.25" y1="127.35" x2="113.60" y2="127.05" stroke="#e8282a" stroke-width="1.9" stroke-linecap="round"/>
<line x1="113.60" y1="127.05" x2="113.95" y2="126.73" stroke="#e8282a" stroke-width="1.9" stroke-linecap="round"/>
<line x1="113.95" y1="126.73" x2="114.31" y2="126.38" stroke="#e8282a" stroke-width="1.9" stroke-linecap="round"/>
<line x1="114.31" y1="126.38" x2="114.66" y2="126.02" stroke="#e8282a" stroke-width="1.9" stroke-linecap="round"/>
<line x1="114.66" y1="126.02" x2="115.01" y2="125.63" stroke="#e8282a" stroke-width="1.9" stroke-linecap="round"/>
<line x1="115.01" y1="125.63" x2="115.37" y2="125.22" stroke="#e8282a" stroke-width="1.9" stroke-linecap="round"/>
<line x1="115.37" y1="125.22" x2="115.72" y2="124.79" stroke="#e8282a" stroke-width="1.9" stroke-linecap="round"/>
<line x1="115.72" y1="124.79" x2="116.07" y2="124.34" stroke="#e8282a" stroke-width="1.9" stroke-linecap="round"/>
<line x1="116.07" y1="124.34" x2="116.43" y2="123.87" stroke="#e8282a" stroke-width="1.9" stroke-linecap="round"/>
<line x1="116.43" y1="123.87" x2="116.78" y2="123.38" stroke="#e8282a" stroke-width="1.9" stroke-linecap="round"/>
<line x1="116.78" y1="123.38" x2="117.13" y2="122.87" stroke="#e8282a" stroke-width="1.9" stroke-linecap="round"/>
<line x1="117.13" y1="122.87" x2="117.49" y2="122.34" stroke="#e8282a" stroke-width="1.9" stroke-linecap="round"/>
<line x1="117.49" y1="122.34" x2="117.84" y2="121.79" stroke="#e8282a" stroke-width="1.9" stroke-linecap="round"/>
<line x1="117.84" y1="121.79" x2="118.19" y2="121.21" stroke="#e8282a" stroke-width="1.9" stroke-linecap="round"/>
<line x1="118.19" y1="121.21" x2="118.55" y2="120.62" stroke="#e8282a" stroke-width="1.9" stroke-linecap="round"/>
<line x1="118.55" y1="120.62" x2="118.90" y2="120.00" stroke="#e8282a" stroke-width="1.9" stroke-linecap="round"/>
<text x="109.1" y="140.3" font-family="Liberation Serif, serif" font-size="10" fill="#111">K</text>
<text x="116.5" y="140.3" font-family="Liberation Serif, serif" font-size="10" fill="#111" textLength="3" lengthAdjust="spacingAndGlyphs">1</text>
<line x1="191.2" y1="119.2" x2="191.2" y2="141.0" stroke="#8a8a8a" stroke-width="0.7"/>
<polyline points="180.2,120.6 180.6,121.2 180.9,121.8 181.3,122.4 181.7,123.0 182.1,123.5 182.4,124.0 182.8,124.5 183.2,125.0 183.6,125.5 183.9,125.9 184.3,126.3 184.7,126.7 185.0,127.1 185.4,127.4 185.8,127.7 186.2,128.0 186.5,128.3 186.9,128.6 187.3,128.8 187.7,129.0 188.0,129.2 188.4,129.4 188.8,129.5 189.1,129.7 189.5,129.8 189.9,129.9 190.3,129.9 190.6,130.0 191.0,130.0 191.4,130.0 191.8,130.0 192.1,129.9 192.5,129.9 192.9,129.8 193.3,129.7 193.6,129.5 194.0,129.4 194.4,129.2 194.7,129.0 195.1,128.8 195.5,128.6 195.9,128.3 196.2,128.0 196.6,127.7 197.0,127.4 197.4,127.1 197.7,126.7 198.1,126.3 198.5,125.9 198.8,125.5 199.2,125.0 199.6,124.5 200.0,124.0 200.3,123.5 200.7,123.0 201.1,122.4 201.5,121.8 201.8,121.2 202.2,120.6" fill="none" stroke="#e8282a" stroke-width="1.9" stroke-linecap="butt" stroke-linejoin="round"/>
<polyline points="180.2,120.0 180.6,120.6 180.9,121.2 181.3,121.7 181.7,122.3 182.1,122.8 182.4,123.3 182.8,123.8 183.2,124.2 183.6,124.7 183.9,125.1 184.3,125.5 184.7,125.8 185.0,126.2 185.4,126.5 185.8,126.8 186.2,127.1 186.5,127.4 186.9,127.6 187.3,127.9 187.7,128.1 188.0,128.3 188.4,128.4 188.8,128.6 189.1,128.7 189.5,128.8 189.9,128.9 190.3,128.9 190.6,129.0 191.0,129.0 191.4,129.0 191.8,129.0 192.1,128.9 192.5,128.9 192.9,128.8 193.3,128.7 193.6,128.6 194.0,128.4 194.4,128.3 194.7,128.1 195.1,127.9 195.5,127.6 195.9,127.4 196.2,127.1 196.6,126.8 197.0,126.5 197.4,126.2 197.7,125.8 198.1,125.5 198.5,125.1 198.8,124.7 199.2,124.2 199.6,123.8 200.0,123.3 200.3,122.8 200.7,122.3 201.1,121.7 201.5,121.2 201.8,120.6 202.2,120.0" fill="none" stroke="#3232e0" stroke-width="1.9" stroke-linecap="butt" stroke-linejoin="round"/>
<text x="192.0" y="140.3" font-family="Liberation Serif, serif" font-size="10" fill="#111">K</text>
<line x1="244.5" y1="119.2" x2="244.5" y2="141.0" stroke="#8a8a8a" stroke-width="0.7"/>
<polyline points="233.5,120.6 233.9,121.2 234.2,121.8 234.6,122.4 235.0,123.0 235.4,123.5 235.7,124.0 236.1,124.5 236.5,125.0 236.9,125.5 237.2,125.9 237.6,126.3 238.0,126.7 238.3,127.1 238.7,127.4 239.1,127.7 239.5,128.0 239.8,128.3 240.2,128.6 240.6,128.8 241.0,129.0 241.3,129.2 241.7,129.4 242.1,129.5 242.4,129.7 242.8,129.8 243.2,129.9 243.6,129.9 243.9,130.0 244.3,130.0 244.7,130.0 245.1,130.0 245.4,129.9 245.8,129.9 246.2,129.8 246.6,129.7 246.9,129.5 247.3,129.4 247.7,129.2 248.0,129.0 248.4,128.8 248.8,128.6 249.2,128.3 249.5,128.0 249.9,127.7 250.3,127.4 250.7,127.1 251.0,126.7 251.4,126.3 251.8,125.9 252.1,125.5 252.5,125.0 252.9,124.5 253.3,124.0 253.6,123.5 254.0,123.0 254.4,122.4 254.8,121.8 255.1,121.2 255.5,120.6" fill="none" stroke="#e8282a" stroke-width="1.9" stroke-linecap="butt" stroke-linejoin="round"/>
<polyline points="233.5,120.0 233.9,120.6 234.2,121.2 234.6,121.7 235.0,122.3 235.4,122.8 235.7,123.3 236.1,123.8 236.5,124.2 236.9,124.7 237.2,125.1 237.6,125.5 238.0,125.8 238.3,126.2 238.7,126.5 239.1,126.8 239.5,127.1 239.8,127.4 240.2,127.6 240.6,127.9 241.0,128.1 241.3,128.3 241.7,128.4 242.1,128.6 242.4,128.7 242.8,128.8 243.2,128.9 243.6,128.9 243.9,129.0 244.3,129.0 244.7,129.0 245.1,129.0 245.4,128.9 245.8,128.9 246.2,128.8 246.6,128.7 246.9,128.6 247.3,128.4 247.7,128.3 248.0,128.1 248.4,127.9 248.8,127.6 249.2,127.4 249.5,127.1 249.9,126.8 250.3,126.5 250.7,126.2 251.0,125.8 251.4,125.5 251.8,125.1 252.1,124.7 252.5,124.2 252.9,123.8 253.3,123.3 253.6,122.8 254.0,122.3 254.4,121.7 254.8,121.2 255.1,120.6 255.5,120.0" fill="none" stroke="#3232e0" stroke-width="1.9" stroke-linecap="butt" stroke-linejoin="round"/>
<text x="245.3" y="140.3" font-family="Liberation Serif, serif" font-size="10" fill="#111">K</text>
<text x="252.7" y="140.3" font-family="Liberation Serif, serif" font-size="10" fill="#111" textLength="3" lengthAdjust="spacingAndGlyphs">1</text>
<line x1="325.9" y1="119.2" x2="325.9" y2="141.0" stroke="#8a8a8a" stroke-width="0.7"/>
<polyline points="314.9,120.7 315.3,121.3 315.6,121.9 316.0,122.4 316.4,123.0 316.8,123.5 317.1,124.0 317.5,124.5 317.9,124.9 318.3,125.4 318.6,125.8 319.0,126.2 319.4,126.5 319.7,126.9 320.1,127.2 320.5,127.5 320.9,127.8 321.2,128.1 321.6,128.3 322.0,128.6 322.4,128.8 322.7,129.0 323.1,129.1 323.5,129.3 323.8,129.4 324.2,129.5 324.6,129.6 325.0,129.6 325.3,129.7 325.7,129.7 326.1,129.7 326.5,129.7 326.8,129.6 327.2,129.6 327.6,129.5 328.0,129.4 328.3,129.3 328.7,129.1 329.1,129.0 329.4,128.8 329.8,128.6 330.2,128.3 330.6,128.1 330.9,127.8 331.3,127.5 331.7,127.2 332.1,126.9 332.4,126.5 332.8,126.2 333.2,125.8 333.5,125.4 333.9,124.9 334.3,124.5 334.7,124.0 335.0,123.5 335.4,123.0 335.8,122.4 336.2,121.9 336.5,121.3 336.9,120.7" fill="none" stroke="#e8282a" stroke-width="1.7" stroke-linecap="butt" stroke-linejoin="round"/>
<polyline points="317.1,120.5 317.4,120.9 317.7,121.3 318.0,121.7 318.3,122.1 318.6,122.5 318.9,122.8 319.2,123.2 319.5,123.5 319.8,123.8 320.1,124.1 320.4,124.4 320.7,124.6 321.0,124.9 321.3,125.1 321.6,125.4 321.9,125.6 322.2,125.8 322.5,125.9 322.8,126.1 323.1,126.2 323.4,126.4 323.7,126.5 324.0,126.6 324.3,126.7 324.6,126.8 324.9,126.8 325.2,126.9 325.5,126.9 325.8,126.9 326.0,126.9 326.3,126.9 326.6,126.9 326.9,126.8 327.2,126.8 327.5,126.7 327.8,126.6 328.1,126.5 328.4,126.4 328.7,126.2 329.0,126.1 329.3,125.9 329.6,125.8 329.9,125.6 330.2,125.4 330.5,125.1 330.8,124.9 331.1,124.6 331.4,124.4 331.7,124.1 332.0,123.8 332.3,123.5 332.6,123.2 332.9,122.8 333.2,122.5 333.5,122.1 333.8,121.7 334.1,121.3 334.4,120.9 334.7,120.5" fill="none" stroke="#3232e0" stroke-width="1.7" stroke-linecap="butt" stroke-linejoin="round"/>
<text x="326.7" y="140.3" font-family="Liberation Serif, serif" font-size="10" fill="#111">K</text>
<line x1="380.8" y1="119.2" x2="380.8" y2="141.0" stroke="#8a8a8a" stroke-width="0.7"/>
<polyline points="369.8,120.7 370.2,121.3 370.5,121.9 370.9,122.4 371.3,123.0 371.7,123.5 372.0,124.0 372.4,124.5 372.8,124.9 373.2,125.4 373.5,125.8 373.9,126.2 374.3,126.5 374.6,126.9 375.0,127.2 375.4,127.5 375.8,127.8 376.1,128.1 376.5,128.3 376.9,128.6 377.3,128.8 377.6,129.0 378.0,129.1 378.4,129.3 378.7,129.4 379.1,129.5 379.5,129.6 379.9,129.6 380.2,129.7 380.6,129.7 381.0,129.7 381.4,129.7 381.7,129.6 382.1,129.6 382.5,129.5 382.9,129.4 383.2,129.3 383.6,129.1 384.0,129.0 384.3,128.8 384.7,128.6 385.1,128.3 385.5,128.1 385.8,127.8 386.2,127.5 386.6,127.2 387.0,126.9 387.3,126.5 387.7,126.2 388.1,125.8 388.4,125.4 388.8,124.9 389.2,124.5 389.6,124.0 389.9,123.5 390.3,123.0 390.7,122.4 391.1,121.9 391.4,121.3 391.8,120.7" fill="none" stroke="#e8282a" stroke-width="1.7" stroke-linecap="butt" stroke-linejoin="round"/>
<polyline points="372.0,120.5 372.3,120.9 372.6,121.3 372.9,121.7 373.2,122.1 373.5,122.5 373.8,122.8 374.1,123.2 374.4,123.5 374.7,123.8 375.0,124.1 375.3,124.4 375.6,124.6 375.9,124.9 376.2,125.1 376.5,125.4 376.8,125.6 377.1,125.8 377.4,125.9 377.7,126.1 378.0,126.2 378.3,126.4 378.6,126.5 378.9,126.6 379.2,126.7 379.5,126.8 379.8,126.8 380.1,126.9 380.4,126.9 380.7,126.9 380.9,126.9 381.2,126.9 381.5,126.9 381.8,126.8 382.1,126.8 382.4,126.7 382.7,126.6 383.0,126.5 383.3,126.4 383.6,126.2 383.9,126.1 384.2,125.9 384.5,125.8 384.8,125.6 385.1,125.4 385.4,125.1 385.7,124.9 386.0,124.6 386.3,124.4 386.6,124.1 386.9,123.8 387.2,123.5 387.5,123.2 387.8,122.8 388.1,122.5 388.4,122.1 388.7,121.7 389.0,121.3 389.3,120.9 389.6,120.5" fill="none" stroke="#3232e0" stroke-width="1.7" stroke-linecap="butt" stroke-linejoin="round"/>
<text x="381.6" y="140.3" font-family="Liberation Serif, serif" font-size="10" fill="#111">K</text>
<text x="389.0" y="140.3" font-family="Liberation Serif, serif" font-size="10" fill="#111" textLength="3" lengthAdjust="spacingAndGlyphs">1</text>
<path d="M43.6,141.0 L121.6,141.0 L121.6,119.2 L43.6,119.2 Z" fill="none" stroke="#1fa5e3" stroke-width="1.5" stroke-dasharray="4.8 4.6"/>
<path d="M177.6,141.0 L258.0,141.0 L258.0,119.2 L177.6,119.2 Z" fill="none" stroke="#1fa5e3" stroke-width="1.5" stroke-dasharray="4.8 4.6"/>
<path d="M312.9,141.0 L393.5,141.0 L393.5,119.2 L312.9,119.2 Z" fill="none" stroke="#1fa5e3" stroke-width="1.5" stroke-dasharray="4.8 4.6"/>
<path d="M43.6,273.0 L121.6,273.0 L121.6,252.45 L43.6,252.45 Z" fill="none" stroke="#1fa5e3" stroke-width="1.5" stroke-dasharray="4.8 4.6"/>
<path d="M177.6,273.0 L258.0,273.0 L258.0,252.45 L177.6,252.45 Z" fill="none" stroke="#1fa5e3" stroke-width="1.5" stroke-dasharray="4.8 4.6"/>
<path d="M312.9,273.0 L393.5,273.0 L393.5,252.45 L312.9,252.45 Z" fill="none" stroke="#1fa5e3" stroke-width="1.5" stroke-dasharray="4.8 4.6"/>
<rect x="418.1" y="76.8" width="4.8" height="94.60" fill="url(#cb)"/>
<line x1="422.9" y1="76.80" x2="424" y2="76.80" stroke="#555" stroke-width="0.5"/>
<text x="424.3" y="78.50" font-family="Liberation Serif, serif" font-size="4.7" fill="#222">1.00</text>
<line x1="422.9" y1="88.62" x2="424" y2="88.62" stroke="#555" stroke-width="0.5"/>
<text x="424.3" y="90.33" font-family="Liberation Serif, serif" font-size="4.7" fill="#222">0.75</text>
<line x1="422.9" y1="100.45" x2="424" y2="100.45" stroke="#555" stroke-width="0.5"/>
<text x="424.3" y="102.15" font-family="Liberation Serif, serif" font-size="4.7" fill="#222">0.50</text>
<line x1="422.9" y1="112.28" x2="424" y2="112.28" stroke="#555" stroke-width="0.5"/>
<text x="424.3" y="113.98" font-family="Liberation Serif, serif" font-size="4.7" fill="#222">0.25</text>
<line x1="422.9" y1="124.10" x2="424" y2="124.10" stroke="#555" stroke-width="0.5"/>
<text x="424.3" y="125.80" font-family="Liberation Serif, serif" font-size="4.7" fill="#222">0.00</text>
<line x1="422.9" y1="135.93" x2="424" y2="135.93" stroke="#555" stroke-width="0.5"/>
<text x="424.3" y="137.62" font-family="Liberation Serif, serif" font-size="4.7" fill="#222">−0.25</text>
<line x1="422.9" y1="147.75" x2="424" y2="147.75" stroke="#555" stroke-width="0.5"/>
<text x="424.3" y="149.45" font-family="Liberation Serif, serif" font-size="4.7" fill="#222">−0.50</text>
<line x1="422.9" y1="159.57" x2="424" y2="159.57" stroke="#555" stroke-width="0.5"/>
<text x="424.3" y="161.27" font-family="Liberation Serif, serif" font-size="4.7" fill="#222">−0.75</text>
<line x1="422.9" y1="171.40" x2="424" y2="171.40" stroke="#555" stroke-width="0.5"/>
<text x="424.3" y="173.10" font-family="Liberation Serif, serif" font-size="4.7" fill="#222">−1.00</text>
<rect x="418.1" y="200.0" width="4.8" height="94.60" fill="url(#cb)"/>
<line x1="422.9" y1="200.00" x2="424" y2="200.00" stroke="#555" stroke-width="0.5"/>
<text x="424.3" y="201.70" font-family="Liberation Serif, serif" font-size="4.7" fill="#222">1.00</text>
<line x1="422.9" y1="211.82" x2="424" y2="211.82" stroke="#555" stroke-width="0.5"/>
<text x="424.3" y="213.52" font-family="Liberation Serif, serif" font-size="4.7" fill="#222">0.75</text>
<line x1="422.9" y1="223.65" x2="424" y2="223.65" stroke="#555" stroke-width="0.5"/>
<text x="424.3" y="225.35" font-family="Liberation Serif, serif" font-size="4.7" fill="#222">0.50</text>
<line x1="422.9" y1="235.48" x2="424" y2="235.48" stroke="#555" stroke-width="0.5"/>
<text x="424.3" y="237.18" font-family="Liberation Serif, serif" font-size="4.7" fill="#222">0.25</text>
<line x1="422.9" y1="247.30" x2="424" y2="247.30" stroke="#555" stroke-width="0.5"/>
<text x="424.3" y="249.00" font-family="Liberation Serif, serif" font-size="4.7" fill="#222">0.00</text>
<text x="411.8" y="72.6" font-family="Liberation Serif, serif" font-size="8.5" fill="#111">Spin up</text>
<text x="411.6" y="183.7" font-family="Liberation Serif, serif" font-size="8.4" fill="#111">Spin down</text>
<text x="1.0" y="72.8" font-family="Liberation Serif, serif" font-size="12.4" fill="#111" stroke="#111" stroke-width="0.3">(c)</text>
<text x="25.6" y="72.8" font-family="Liberation Serif, serif" font-size="13.3" font-weight="bold" fill="#111" textLength="25.8" lengthAdjust="spacingAndGlyphs">MoS</text>
<text x="52.5" y="76.2" font-family="Liberation Serif, serif" font-size="8.6" font-weight="bold" fill="#111" textLength="6.6" lengthAdjust="spacingAndGlyphs">2</text>
<text x="1.0" y="196.0" font-family="Liberation Serif, serif" font-size="12.4" fill="#111" stroke="#111" stroke-width="0.3">(d)</text>
<text x="26.0" y="196.1" font-family="Liberation Serif, serif" font-size="13.3" font-weight="bold" fill="#111" textLength="30.8" lengthAdjust="spacingAndGlyphs">MoSe</text>
<text x="57.4" y="199.6" font-family="Liberation Serif, serif" font-size="8.6" font-weight="bold" fill="#111" textLength="6.6" lengthAdjust="spacingAndGlyphs">2</text>
</svg></body></html>
